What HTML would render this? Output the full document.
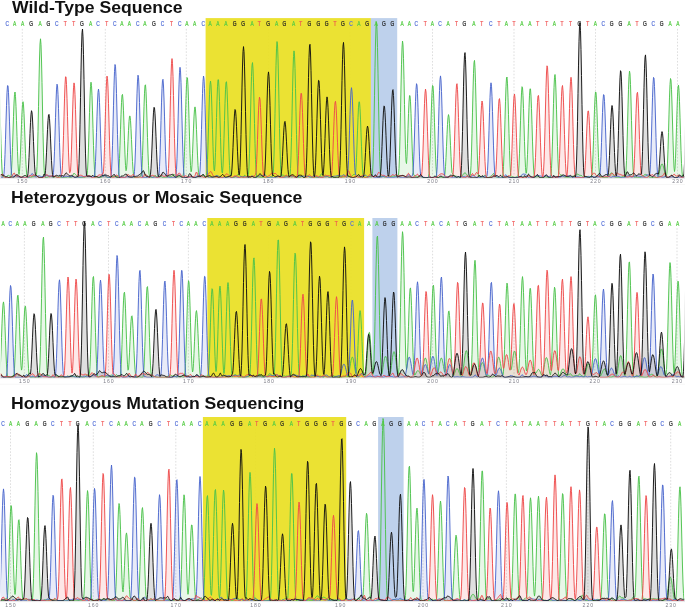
<!DOCTYPE html>
<html><head><meta charset="utf-8"><title>Sequencing chromatograms</title>
<style>
html,body{margin:0;padding:0;background:#fff;}
body{width:685px;height:609px;overflow:hidden;position:relative;font-family:"Liberation Sans",Arial,sans-serif;}
svg{position:absolute;left:0;top:0;}
svg text{font-family:"Liberation Sans",Arial,sans-serif;font-size:6.4px;text-anchor:middle;}
svg text{stroke-width:0.22px;}
svg .tk text{stroke:none;font-size:5.2px;fill:#80808a;letter-spacing:0.9px;}
h2{position:absolute;margin:0;left:11px;font-size:17px;line-height:17px;transform-origin:0 0;transform:scaleX(1.035);font-weight:bold;color:#111;white-space:nowrap;letter-spacing:0;}
</style></head><body>
<svg width="685" height="609" viewBox="0 0 685 609">
<clipPath id="c1"><rect x="0.8" y="17.0" width="683.4" height="160.7"/></clipPath>
<line x1="22.3" y1="28.9" x2="22.3" y2="177.9" stroke="#c8c8c8" stroke-width="0.6" stroke-dasharray="1.6 1.6"/>
<line x1="105.3" y1="28.9" x2="105.3" y2="177.9" stroke="#c8c8c8" stroke-width="0.6" stroke-dasharray="1.6 1.6"/>
<line x1="186.3" y1="28.9" x2="186.3" y2="177.9" stroke="#c8c8c8" stroke-width="0.6" stroke-dasharray="1.6 1.6"/>
<line x1="268.3" y1="28.9" x2="268.3" y2="177.9" stroke="#c8c8c8" stroke-width="0.6" stroke-dasharray="1.6 1.6"/>
<line x1="350.0" y1="28.9" x2="350.0" y2="177.9" stroke="#c8c8c8" stroke-width="0.6" stroke-dasharray="1.6 1.6"/>
<line x1="432.5" y1="28.9" x2="432.5" y2="177.9" stroke="#c8c8c8" stroke-width="0.6" stroke-dasharray="1.6 1.6"/>
<line x1="514.0" y1="28.9" x2="514.0" y2="177.9" stroke="#c8c8c8" stroke-width="0.6" stroke-dasharray="1.6 1.6"/>
<line x1="595.5" y1="28.9" x2="595.5" y2="177.9" stroke="#c8c8c8" stroke-width="0.6" stroke-dasharray="1.6 1.6"/>
<line x1="677.5" y1="28.9" x2="677.5" y2="177.9" stroke="#c8c8c8" stroke-width="0.6" stroke-dasharray="1.6 1.6"/>
<line x1="0" y1="178.3" x2="685" y2="178.3" stroke="#dcdcdc" stroke-width="0.7"/>
<line x1="0" y1="184.5" x2="685" y2="184.5" stroke="#f3f3f3" stroke-width="0.7"/>
<defs>
<path id="p1A" d="M-3,181.9 L-2.0,84.5 L-1.5,79.7 L-1.0,82.5 L-0.5,92.5 L0.0,107.7 L0.5,125.7 L1.0,143.4 L1.5,158.3 L2.0,169.0 L2.5,175.1 L3.0,177.0 L3.5,176.6 L4.0,176.4 L4.5,176.5 L5.0,176.7 L5.5,177.0 L6.0,177.2 L6.5,177.0 L7.0,176.6 L7.5,175.7 L8.0,175.1 L8.5,175.2 L9.0,175.7 L9.5,176.1 L10.0,176.5 L10.5,176.7 L11.0,175.4 L11.5,170.1 L12.0,160.7 L12.5,147.6 L13.0,132.1 L13.5,116.4 L14.0,103.1 L14.5,94.5 L15.0,92.0 L15.5,96.3 L16.0,106.4 L16.5,120.6 L17.0,136.5 L17.5,151.5 L18.0,163.7 L18.5,171.7 L19.0,174.4 L19.5,171.3 L20.0,163.4 L20.5,152.0 L21.0,138.4 L21.5,124.5 L22.0,112.4 L22.5,104.4 L23.0,101.7 L23.5,105.0 L24.0,113.6 L24.5,126.0 L25.0,140.0 L25.5,153.5 L26.0,164.5 L26.5,172.1 L27.0,176.3 L27.5,177.6 L28.0,177.6 L28.5,177.6 L29.0,177.5 L29.5,177.5 L30.0,177.4 L30.5,177.3 L31.0,177.1 L31.5,177.0 L32.0,176.8 L32.5,176.6 L33.0,176.5 L33.5,176.4 L34.0,176.2 L34.5,176.0 L35.0,175.8 L35.5,175.7 L36.0,175.7 L36.5,174.5 L37.0,166.5 L37.5,152.1 L38.0,131.4 L38.5,106.7 L39.0,81.2 L39.5,59.0 L40.0,44.0 L40.5,38.8 L41.0,44.5 L41.5,60.0 L42.0,82.4 L42.5,108.0 L43.0,132.6 L43.5,152.9 L44.0,167.1 L44.5,174.8 L45.0,177.3 L45.5,177.5 L46.0,177.5 L46.5,177.5 L47.0,177.4 L47.5,177.2 L48.0,177.0 L48.5,176.7 L49.0,176.6 L49.5,176.6 L50.0,176.5 L50.5,176.5 L51.0,176.5 L51.5,176.6 L52.0,176.7 L52.5,176.9 L53.0,177.1 L53.5,177.2 L54.0,177.2 L54.5,177.0 L55.0,176.6 L55.5,176.4 L56.0,176.5 L56.5,176.9 L57.0,177.2 L57.5,177.3 L58.0,177.4 L58.5,177.3 L59.0,176.9 L59.5,176.6 L60.0,176.9 L60.5,177.4 L61.0,177.6 L61.5,177.6 L62.0,177.6 L62.5,177.6 L63.0,177.6 L63.5,177.6 L64.0,177.6 L64.5,177.6 L65.0,177.6 L65.5,177.6 L66.0,177.6 L66.5,177.4 L67.0,177.2 L67.5,176.8 L68.0,176.6 L68.5,176.9 L69.0,177.2 L69.5,177.5 L70.0,177.5 L70.5,177.5 L71.0,177.3 L71.5,177.1 L72.0,176.7 L72.5,176.0 L73.0,174.8 L73.5,173.6 L74.0,173.1 L74.5,173.5 L75.0,174.0 L75.5,174.4 L76.0,174.9 L76.5,175.4 L77.0,176.0 L77.5,176.5 L78.0,176.9 L78.5,177.2 L79.0,177.4 L79.5,177.5 L80.0,177.6 L80.5,177.6 L81.0,177.6 L81.5,177.6 L82.0,177.6 L82.5,177.6 L83.0,177.6 L83.5,177.6 L84.0,177.6 L84.5,177.6 L85.0,177.5 L85.5,177.1 L86.0,176.5 L86.5,175.7 L87.0,175.1 L87.5,170.6 L88.0,161.0 L88.5,147.1 L89.0,130.2 L89.5,112.6 L90.0,97.1 L90.5,86.3 L91.0,82.2 L91.5,85.6 L92.0,95.7 L92.5,110.9 L93.0,128.4 L93.5,145.5 L94.0,159.8 L94.5,169.9 L95.0,175.5 L95.5,177.4 L96.0,177.2 L96.5,176.8 L97.0,176.7 L97.5,177.0 L98.0,177.4 L98.5,177.5 L99.0,177.6 L99.5,177.6 L100.0,177.5 L100.5,177.5 L101.0,177.4 L101.5,177.2 L102.0,177.0 L102.5,176.7 L103.0,176.1 L103.5,175.5 L104.0,175.1 L104.5,175.2 L105.0,175.6 L105.5,176.2 L106.0,176.7 L106.5,177.1 L107.0,177.3 L107.5,177.5 L108.0,177.5 L108.5,177.5 L109.0,177.5 L109.5,177.5 L110.0,177.3 L110.5,176.8 L111.0,176.2 L111.5,175.8 L112.0,175.9 L112.5,176.5 L113.0,176.8 L113.5,176.6 L114.0,176.2 L114.5,176.2 L115.0,176.6 L115.5,176.9 L116.0,176.8 L116.5,176.6 L117.0,176.4 L117.5,176.5 L118.0,176.7 L118.5,174.7 L119.0,168.6 L119.5,158.6 L120.0,145.2 L120.5,129.8 L121.0,114.8 L121.5,102.6 L122.0,95.3 L122.5,94.4 L123.0,99.9 L123.5,110.8 L124.0,125.2 L124.5,140.7 L125.0,154.9 L125.5,165.6 L126.0,170.7 L126.5,169.5 L127.0,162.9 L127.5,152.8 L128.0,141.4 L128.5,130.3 L129.0,121.4 L129.5,116.3 L130.0,115.9 L130.5,120.3 L131.0,128.7 L131.5,139.5 L132.0,151.0 L132.5,161.5 L133.0,169.6 L133.5,174.7 L134.0,177.2 L134.5,177.6 L135.0,177.6 L135.5,177.6 L136.0,177.6 L136.5,177.6 L137.0,177.6 L137.5,177.5 L138.0,177.5 L138.5,177.3 L139.0,177.1 L139.5,176.8 L140.0,176.4 L140.5,176.0 L141.0,175.8 L141.5,174.0 L142.0,167.0 L142.5,155.6 L143.0,140.4 L143.5,123.2 L144.0,106.6 L144.5,93.2 L145.0,85.5 L145.5,84.8 L146.0,91.3 L146.5,103.8 L147.0,120.1 L147.5,137.4 L148.0,153.1 L148.5,165.3 L149.0,173.1 L149.5,176.8 L150.0,177.1 L150.5,177.3 L151.0,177.5 L151.5,177.5 L152.0,177.5 L152.5,177.5 L153.0,177.3 L153.5,176.9 L154.0,176.3 L154.5,175.8 L155.0,175.4 L155.5,175.5 L156.0,176.0 L156.5,176.6 L157.0,176.8 L157.5,176.6 L158.0,176.0 L158.5,175.2 L159.0,174.6 L159.5,174.4 L160.0,174.8 L160.5,175.5 L161.0,176.2 L161.5,176.8 L162.0,177.2 L162.5,177.4 L163.0,177.5 L163.5,177.6 L164.0,177.6 L164.5,177.6 L165.0,177.6 L165.5,177.6 L166.0,177.5 L166.5,177.4 L167.0,177.2 L167.5,176.9 L168.0,176.6 L168.5,176.5 L169.0,176.5 L169.5,176.6 L170.0,176.7 L170.5,176.7 L171.0,176.7 L171.5,176.5 L172.0,176.2 L172.5,175.8 L173.0,175.1 L173.5,174.4 L174.0,174.2 L174.5,174.8 L175.0,175.7 L175.5,176.3 L176.0,176.7 L176.5,176.9 L177.0,177.0 L177.5,176.9 L178.0,176.8 L178.5,176.6 L179.0,176.4 L179.5,176.2 L180.0,176.1 L180.5,176.2 L181.0,176.4 L181.5,176.6 L182.0,176.6 L182.5,176.3 L183.0,176.0 L183.5,172.9 L184.0,164.6 L184.5,151.5 L185.0,134.7 L185.5,116.0 L186.0,98.4 L186.5,84.7 L187.0,77.5 L187.5,78.0 L188.0,86.1 L188.5,100.4 L189.0,118.3 L189.5,136.9 L190.0,153.4 L190.5,165.6 L191.0,171.8 L191.5,171.1 L192.0,164.4 L192.5,153.8 L193.0,141.1 L193.5,128.1 L194.0,116.9 L194.5,109.3 L195.0,106.9 L195.5,110.0 L196.0,118.0 L196.5,129.5 L197.0,142.6 L197.5,155.1 L198.0,165.4 L198.5,172.5 L199.0,176.4 L199.5,176.9 L200.0,176.7 L200.5,176.5 L201.0,176.4 L201.5,176.1 L202.0,175.6 L202.5,174.9 L203.0,174.9 L203.5,175.5 L204.0,176.0 L204.5,176.4 L205.0,176.9 L205.5,177.2 L206.0,177.4 L206.5,175.5 L207.0,169.8 L207.5,159.7 L208.0,145.2 L208.5,127.9 L209.0,110.2 L209.5,94.8 L210.0,84.5 L210.5,81.1 L211.0,85.1 L211.5,96.0 L212.0,111.7 L212.5,129.6 L213.0,146.7 L213.5,160.7 L214.0,169.5 L214.5,171.0 L215.0,164.9 L215.5,152.4 L216.0,135.9 L216.5,117.6 L217.0,100.3 L217.5,86.8 L218.0,79.6 L218.5,79.9 L219.0,87.7 L219.5,101.6 L220.0,119.1 L220.5,137.3 L221.0,153.6 L221.5,165.9 L222.0,172.7 L222.5,172.8 L223.0,166.1 L223.5,154.1 L224.0,138.3 L224.5,120.5 L225.0,103.4 L225.5,89.8 L226.0,82.2 L226.5,81.8 L227.0,88.9 L227.5,102.1 L228.0,119.0 L228.5,136.9 L229.0,153.0 L229.5,165.4 L230.0,173.2 L230.5,176.9 L231.0,177.6 L231.5,177.6 L232.0,177.6 L232.5,177.6 L233.0,177.6 L233.5,177.6 L234.0,177.5 L234.5,177.4 L235.0,177.1 L235.5,176.8 L236.0,176.4 L236.5,175.9 L237.0,175.4 L237.5,175.0 L238.0,174.7 L238.5,174.7 L239.0,174.8 L239.5,175.2 L240.0,175.7 L240.5,176.2 L241.0,176.6 L241.5,176.9 L242.0,177.2 L242.5,177.3 L243.0,177.4 L243.5,177.1 L244.0,176.2 L244.5,175.3 L245.0,175.3 L245.5,175.8 L246.0,176.3 L246.5,176.7 L247.0,176.9 L247.5,176.8 L248.0,176.5 L248.5,174.3 L249.0,166.8 L249.5,153.8 L250.0,135.9 L250.5,115.0 L251.0,94.0 L251.5,76.4 L252.0,65.3 L252.5,62.6 L253.0,68.8 L253.5,82.8 L254.0,102.2 L254.5,123.5 L255.0,143.5 L255.5,159.6 L256.0,170.4 L256.5,176.0 L257.0,176.8 L257.5,176.7 L258.0,176.8 L258.5,176.9 L259.0,177.0 L259.5,177.2 L260.0,177.3 L260.5,177.4 L261.0,177.5 L261.5,177.5 L262.0,177.6 L262.5,177.6 L263.0,177.6 L263.5,177.6 L264.0,177.6 L264.5,177.6 L265.0,177.6 L265.5,177.6 L266.0,177.6 L266.5,177.6 L267.0,177.6 L267.5,177.6 L268.0,177.6 L268.5,177.6 L269.0,177.6 L269.5,177.6 L270.0,177.5 L270.5,177.5 L271.0,177.3 L271.5,177.1 L272.0,176.8 L272.5,176.5 L273.0,175.6 L273.5,168.9 L274.0,156.1 L274.5,137.1 L275.0,113.4 L275.5,88.2 L276.0,65.4 L276.5,48.9 L277.0,41.6 L277.5,44.9 L278.0,58.2 L278.5,79.0 L279.0,103.8 L279.5,128.5 L280.0,149.6 L280.5,164.8 L281.0,173.7 L281.5,175.9 L282.0,175.2 L282.5,175.0 L283.0,175.1 L283.5,175.3 L284.0,175.6 L284.5,175.9 L285.0,176.1 L285.5,176.1 L286.0,176.0 L286.5,175.9 L287.0,176.0 L287.5,176.1 L288.0,176.3 L288.5,176.5 L289.0,176.8 L289.5,177.1 L290.0,175.3 L290.5,168.5 L291.0,155.9 L291.5,137.5 L292.0,115.2 L292.5,91.8 L293.0,71.0 L293.5,56.6 L294.0,50.9 L294.5,55.1 L295.0,68.5 L295.5,88.5 L296.0,111.7 L296.5,134.4 L297.0,153.5 L297.5,167.0 L298.0,174.6 L298.5,177.5 L299.0,177.5 L299.5,177.5 L300.0,177.3 L300.5,177.1 L301.0,176.8 L301.5,176.5 L302.0,176.3 L302.5,176.3 L303.0,176.4 L303.5,176.7 L304.0,176.9 L304.5,177.1 L305.0,177.1 L305.5,177.0 L306.0,176.8 L306.5,176.5 L307.0,176.2 L307.5,176.0 L308.0,176.1 L308.5,176.4 L309.0,176.9 L309.5,177.3 L310.0,177.5 L310.5,177.5 L311.0,177.4 L311.5,177.2 L312.0,177.1 L312.5,177.3 L313.0,177.5 L313.5,177.6 L314.0,177.6 L314.5,177.6 L315.0,177.6 L315.5,177.6 L316.0,177.6 L316.5,177.6 L317.0,177.6 L317.5,177.6 L318.0,177.6 L318.5,177.5 L319.0,177.3 L319.5,176.8 L320.0,176.1 L320.5,175.1 L321.0,174.2 L321.5,173.9 L322.0,174.0 L322.5,174.3 L323.0,174.8 L323.5,175.4 L324.0,175.9 L324.5,176.2 L325.0,176.3 L325.5,176.2 L326.0,176.1 L326.5,176.1 L327.0,176.2 L327.5,176.5 L328.0,176.8 L328.5,177.0 L329.0,177.3 L329.5,177.4 L330.0,177.4 L330.5,177.1 L331.0,176.5 L331.5,176.2 L332.0,176.8 L332.5,177.4 L333.0,177.6 L333.5,177.6 L334.0,177.6 L334.5,177.6 L335.0,177.6 L335.5,177.6 L336.0,177.4 L336.5,176.8 L337.0,176.3 L337.5,176.2 L338.0,176.7 L338.5,177.0 L339.0,176.7 L339.5,176.3 L340.0,176.1 L340.5,176.4 L341.0,176.7 L341.5,176.9 L342.0,177.0 L342.5,177.1 L343.0,177.1 L343.5,176.9 L344.0,176.5 L344.5,176.2 L345.0,176.3 L345.5,176.3 L346.0,176.0 L346.5,175.6 L347.0,175.2 L347.5,175.1 L348.0,175.2 L348.5,175.5 L349.0,175.9 L349.5,176.3 L350.0,176.6 L350.5,176.8 L351.0,176.8 L351.5,176.6 L352.0,176.2 L352.5,175.6 L353.0,175.0 L353.5,174.5 L354.0,174.3 L354.5,174.4 L355.0,174.7 L355.5,174.1 L356.0,167.8 L356.5,157.9 L357.0,145.1 L357.5,130.9 L358.0,117.6 L358.5,107.2 L359.0,101.7 L359.5,102.1 L360.0,108.3 L360.5,119.1 L361.0,132.7 L361.5,146.8 L362.0,159.3 L362.5,168.8 L363.0,174.6 L363.5,176.6 L364.0,176.9 L364.5,177.1 L365.0,177.3 L365.5,177.4 L366.0,177.4 L366.5,177.3 L367.0,177.1 L367.5,176.8 L368.0,176.5 L368.5,176.3 L369.0,176.3 L369.5,176.4 L370.0,176.6 L370.5,176.8 L371.0,176.9 L371.5,176.9 L372.0,176.9 L372.5,173.6 L373.0,164.1 L373.5,147.4 L374.0,123.8 L374.5,95.8 L375.0,67.4 L375.5,43.0 L376.0,27.0 L376.5,22.2 L377.0,29.5 L377.5,47.6 L378.0,73.2 L378.5,101.9 L379.0,129.2 L379.5,151.5 L380.0,166.7 L380.5,174.8 L381.0,176.7 L381.5,176.6 L382.0,176.4 L382.5,176.2 L383.0,176.2 L383.5,176.5 L384.0,176.8 L384.5,177.1 L385.0,177.3 L385.5,177.2 L386.0,177.0 L386.5,176.6 L387.0,176.2 L387.5,175.8 L388.0,175.7 L388.5,175.7 L389.0,176.0 L389.5,176.2 L390.0,176.4 L390.5,176.5 L391.0,176.5 L391.5,176.5 L392.0,176.4 L392.5,176.3 L393.0,176.2 L393.5,176.2 L394.0,176.3 L394.5,176.3 L395.0,176.3 L395.5,176.1 L396.0,175.8 L396.5,175.6 L397.0,175.5 L397.5,175.5 L398.0,175.7 L398.5,175.4 L399.0,168.5 L399.5,155.5 L400.0,136.2 L400.5,112.3 L401.0,87.0 L401.5,64.2 L402.0,47.9 L402.5,41.0 L403.0,44.7 L403.5,58.3 L404.0,79.4 L404.5,104.4 L405.0,129.1 L405.5,149.3 L406.0,161.4 L406.5,163.6 L407.0,156.6 L407.5,143.5 L408.0,128.2 L408.5,113.6 L409.0,102.1 L409.5,95.7 L410.0,95.6 L410.5,101.8 L411.0,113.3 L411.5,127.8 L412.0,143.1 L412.5,156.9 L413.0,167.4 L413.5,174.0 L414.0,175.3 L414.5,175.5 L415.0,176.0 L415.5,176.1 L416.0,176.1 L416.5,176.2 L417.0,176.5 L417.5,176.7 L418.0,176.8 L418.5,176.8 L419.0,176.6 L419.5,176.3 L420.0,176.1 L420.5,176.1 L421.0,176.5 L421.5,177.0 L422.0,177.3 L422.5,177.5 L423.0,177.6 L423.5,177.6 L424.0,177.6 L424.5,177.6 L425.0,177.6 L425.5,177.6 L426.0,177.6 L426.5,177.6 L427.0,177.6 L427.5,177.5 L428.0,177.5 L428.5,176.9 L429.0,173.4 L429.5,165.8 L430.0,153.9 L430.5,138.4 L431.0,121.2 L431.5,105.0 L432.0,92.3 L432.5,85.5 L433.0,85.9 L433.5,93.2 L434.0,106.3 L434.5,122.7 L435.0,139.9 L435.5,155.1 L436.0,166.7 L436.5,173.8 L437.0,177.1 L437.5,177.5 L438.0,177.4 L438.5,177.4 L439.0,177.3 L439.5,177.3 L440.0,177.3 L440.5,177.3 L441.0,177.3 L441.5,177.3 L442.0,177.3 L442.5,177.2 L443.0,177.0 L443.5,176.8 L444.0,176.5 L444.5,176.1 L445.0,173.1 L445.5,166.7 L446.0,157.5 L446.5,146.3 L447.0,134.6 L447.5,124.4 L448.0,117.3 L448.5,114.6 L449.0,116.9 L449.5,123.7 L450.0,133.7 L450.5,145.3 L451.0,156.6 L451.5,166.0 L452.0,172.6 L452.5,173.5 L453.0,174.3 L453.5,175.1 L454.0,175.8 L454.5,176.0 L455.0,176.1 L455.5,176.1 L456.0,176.1 L456.5,176.3 L457.0,176.5 L457.5,176.8 L458.0,177.0 L458.5,177.2 L459.0,177.3 L459.5,177.3 L460.0,177.2 L460.5,177.0 L461.0,176.8 L461.5,176.5 L462.0,176.2 L462.5,175.4 L463.0,174.6 L463.5,173.9 L464.0,173.3 L464.5,173.0 L465.0,172.9 L465.5,173.1 L466.0,173.5 L466.5,174.2 L467.0,174.9 L467.5,175.7 L468.0,176.5 L468.5,176.8 L469.0,176.5 L469.5,176.2 L470.0,175.9 L470.5,173.8 L471.0,165.8 L471.5,152.1 L472.0,133.6 L472.5,112.1 L473.0,90.9 L473.5,73.3 L474.0,62.5 L474.5,60.4 L475.0,67.4 L475.5,82.2 L476.0,102.2 L476.5,124.0 L477.0,144.2 L477.5,160.2 L478.0,170.8 L478.5,176.2 L479.0,176.9 L479.5,176.7 L480.0,176.4 L480.5,176.3 L481.0,176.7 L481.5,177.1 L482.0,177.3 L482.5,177.2 L483.0,176.9 L483.5,176.4 L484.0,175.8 L484.5,175.4 L485.0,175.3 L485.5,175.5 L486.0,175.9 L486.5,176.5 L487.0,177.0 L487.5,177.3 L488.0,177.4 L488.5,177.4 L489.0,177.3 L489.5,177.1 L490.0,176.8 L490.5,176.4 L491.0,176.0 L491.5,175.6 L492.0,175.1 L492.5,174.6 L493.0,173.9 L493.5,173.5 L494.0,173.7 L494.5,174.4 L495.0,175.3 L495.5,176.1 L496.0,176.6 L496.5,177.0 L497.0,177.3 L497.5,177.4 L498.0,177.5 L498.5,177.6 L499.0,177.6 L499.5,177.6 L500.0,177.6 L500.5,177.6 L501.0,177.6 L501.5,177.6 L502.0,177.6 L502.5,177.2 L503.0,173.9 L503.5,166.4 L504.0,154.2 L504.5,137.9 L505.0,119.3 L505.5,101.2 L506.0,86.6 L506.5,78.0 L507.0,77.0 L507.5,83.8 L508.0,97.2 L508.5,114.7 L509.0,133.4 L509.5,150.5 L510.0,163.9 L510.5,172.5 L511.0,176.7 L511.5,177.3 L512.0,176.9 L512.5,176.6 L513.0,176.7 L513.5,177.0 L514.0,177.3 L514.5,177.4 L515.0,177.4 L515.5,177.2 L516.0,177.1 L516.5,176.9 L517.0,176.6 L517.5,176.2 L518.0,175.6 L518.5,173.0 L519.0,165.2 L519.5,153.2 L520.0,137.7 L520.5,120.8 L521.0,104.9 L521.5,92.9 L522.0,86.7 L522.5,87.6 L523.0,95.4 L523.5,108.6 L524.0,124.9 L524.5,141.7 L525.0,156.5 L525.5,167.5 L526.0,173.3 L526.5,172.9 L527.0,166.2 L527.5,154.7 L528.0,139.8 L528.5,123.2 L529.0,107.5 L529.5,95.2 L530.0,88.7 L530.5,89.0 L531.0,96.1 L531.5,108.7 L532.0,124.6 L532.5,141.1 L533.0,155.9 L533.5,167.0 L534.0,174.0 L534.5,177.1 L535.0,177.2 L535.5,177.0 L536.0,176.9 L536.5,176.8 L537.0,176.8 L537.5,176.6 L538.0,176.2 L538.5,176.0 L539.0,176.6 L539.5,177.2 L540.0,177.5 L540.5,177.6 L541.0,177.6 L541.5,177.6 L542.0,177.6 L542.5,177.6 L543.0,177.5 L543.5,177.4 L544.0,177.2 L544.5,176.9 L545.0,176.7 L545.5,176.7 L546.0,176.9 L546.5,177.1 L547.0,177.4 L547.5,177.5 L548.0,177.5 L548.5,177.5 L549.0,177.5 L549.5,177.4 L550.0,177.3 L550.5,177.1 L551.0,174.9 L551.5,168.3 L552.0,156.9 L552.5,141.1 L553.0,122.4 L553.5,103.6 L554.0,87.6 L554.5,77.3 L555.0,74.5 L555.5,79.8 L556.0,92.1 L556.5,109.2 L557.0,128.3 L557.5,146.4 L558.0,161.0 L558.5,170.8 L559.0,173.3 L559.5,173.8 L560.0,174.4 L560.5,174.8 L561.0,175.0 L561.5,175.1 L562.0,175.2 L562.5,175.5 L563.0,175.9 L563.5,176.3 L564.0,176.7 L564.5,176.9 L565.0,177.0 L565.5,177.1 L566.0,177.1 L566.5,177.1 L567.0,177.2 L567.5,177.3 L568.0,177.3 L568.5,177.3 L569.0,177.3 L569.5,177.2 L570.0,177.1 L570.5,177.0 L571.0,176.8 L571.5,176.7 L572.0,176.5 L572.5,176.3 L573.0,176.1 L573.5,176.0 L574.0,176.0 L574.5,176.0 L575.0,175.9 L575.5,175.7 L576.0,175.3 L576.5,174.8 L577.0,174.3 L577.5,174.1 L578.0,174.2 L578.5,174.5 L579.0,174.9 L579.5,175.2 L580.0,175.4 L580.5,175.4 L581.0,175.4 L581.5,175.5 L582.0,175.8 L582.5,176.3 L583.0,176.8 L583.5,176.9 L584.0,176.6 L584.5,176.4 L585.0,176.3 L585.5,176.4 L586.0,176.5 L586.5,176.7 L587.0,176.6 L587.5,176.6 L588.0,176.5 L588.5,176.6 L589.0,176.7 L589.5,176.9 L590.0,177.0 L590.5,177.1 L591.0,177.1 L591.5,176.9 L592.0,173.4 L592.5,166.1 L593.0,154.8 L593.5,140.3 L594.0,124.3 L594.5,109.3 L595.0,97.8 L595.5,91.9 L596.0,92.6 L596.5,99.8 L597.0,112.2 L597.5,127.6 L598.0,143.5 L598.5,157.5 L599.0,168.0 L599.5,174.4 L600.0,177.0 L600.5,176.7 L601.0,176.3 L601.5,176.4 L602.0,176.9 L602.5,177.3 L603.0,177.4 L603.5,177.5 L604.0,177.5 L604.5,177.6 L605.0,177.6 L605.5,177.6 L606.0,177.6 L606.5,177.6 L607.0,177.6 L607.5,177.4 L608.0,177.0 L608.5,176.3 L609.0,175.5 L609.5,174.8 L610.0,174.0 L610.5,173.4 L611.0,173.0 L611.5,172.9 L612.0,173.0 L612.5,173.4 L613.0,174.0 L613.5,174.8 L614.0,175.6 L614.5,176.3 L615.0,177.0 L615.5,177.3 L616.0,177.3 L616.5,177.5 L617.0,177.6 L617.5,177.6 L618.0,177.6 L618.5,177.6 L619.0,177.6 L619.5,177.6 L620.0,177.5 L620.5,177.5 L621.0,177.3 L621.5,177.1 L622.0,176.9 L622.5,176.6 L623.0,176.4 L623.5,176.3 L624.0,176.3 L624.5,176.4 L625.0,176.5 L625.5,176.0 L626.0,170.7 L626.5,160.5 L627.0,145.5 L627.5,126.8 L628.0,107.1 L628.5,89.3 L629.0,76.6 L629.5,71.1 L630.0,73.9 L630.5,84.5 L631.0,101.0 L631.5,120.4 L632.0,139.7 L632.5,156.1 L633.0,167.9 L633.5,174.7 L634.0,177.1 L634.5,177.1 L635.0,177.1 L635.5,177.1 L636.0,177.1 L636.5,177.2 L637.0,177.2 L637.5,177.3 L638.0,177.4 L638.5,177.5 L639.0,177.5 L639.5,177.5 L640.0,177.5 L640.5,177.3 L641.0,176.9 L641.5,176.3 L642.0,175.8 L642.5,175.7 L643.0,176.0 L643.5,175.6 L644.0,175.1 L644.5,174.7 L645.0,174.5 L645.5,174.4 L646.0,174.5 L646.5,174.9 L647.0,175.3 L647.5,175.8 L648.0,176.4 L648.5,176.5 L649.0,176.7 L649.5,177.0 L650.0,177.2 L650.5,177.4 L651.0,177.5 L651.5,177.5 L652.0,177.6 L652.5,177.6 L653.0,177.6 L653.5,177.6 L654.0,177.6 L654.5,177.6 L655.0,177.6 L655.5,177.6 L656.0,177.6 L656.5,177.6 L657.0,177.6 L657.5,177.5 L658.0,176.7 L658.5,175.4 L659.0,173.6 L659.5,171.5 L660.0,169.3 L660.5,167.2 L661.0,165.5 L661.5,164.3 L662.0,163.9 L662.5,164.2 L663.0,165.3 L663.5,167.0 L664.0,169.0 L664.5,171.2 L665.0,173.3 L665.5,175.2 L666.0,176.5 L666.5,176.0 L667.0,171.9 L667.5,163.1 L668.0,149.6 L668.5,132.5 L669.0,114.1 L669.5,97.1 L670.0,84.5 L670.5,78.5 L671.0,80.2 L671.5,89.2 L672.0,104.0 L672.5,122.0 L673.0,140.2 L673.5,155.9 L674.0,167.0 L674.5,171.5 L675.0,168.3 L675.5,158.4 L676.0,144.0 L676.5,127.2 L677.0,110.4 L677.5,96.2 L678.0,87.3 L678.5,85.2 L679.0,90.3 L679.5,101.6 L680.0,117.2 L680.5,134.4 L681.0,150.4 L681.5,163.3 L682.0,171.9 L682.5,176.4 L683.0,176.5 L683.5,176.2 L684.0,176.4 L684.5,177.0 L685.0,177.4 L685.5,177.6 L686.0,177.5 L686.5,177.3 L687.0,176.9 L688,181.9 Z"/>
<path id="p1C" d="M-3,181.9 L-2.0,176.6 L-1.5,176.5 L-1.0,176.4 L-0.5,176.4 L0.0,176.6 L0.5,176.9 L1.0,177.1 L1.5,177.2 L2.0,177.2 L2.5,177.3 L3.0,177.5 L3.5,177.0 L4.0,173.6 L4.5,166.3 L5.0,154.6 L5.5,139.2 L6.0,122.1 L6.5,105.7 L7.0,92.8 L7.5,85.7 L8.0,85.7 L8.5,92.7 L9.0,105.5 L9.5,121.9 L10.0,139.0 L10.5,154.4 L11.0,166.2 L11.5,173.6 L12.0,175.4 L12.5,175.6 L13.0,176.1 L13.5,176.4 L14.0,176.2 L14.5,175.8 L15.0,175.4 L15.5,175.2 L16.0,175.4 L16.5,175.8 L17.0,176.3 L17.5,176.7 L18.0,177.0 L18.5,177.0 L19.0,176.8 L19.5,176.3 L20.0,176.4 L20.5,176.9 L21.0,177.2 L21.5,177.3 L22.0,177.3 L22.5,177.4 L23.0,177.4 L23.5,177.5 L24.0,177.6 L24.5,177.6 L25.0,177.6 L25.5,177.6 L26.0,177.6 L26.5,177.6 L27.0,177.5 L27.5,177.5 L28.0,177.4 L28.5,177.2 L29.0,176.9 L29.5,176.4 L30.0,175.8 L30.5,175.2 L31.0,174.6 L31.5,174.2 L32.0,173.9 L32.5,173.8 L33.0,174.2 L33.5,174.7 L34.0,175.4 L34.5,176.0 L35.0,176.4 L35.5,176.7 L36.0,176.9 L36.5,176.8 L37.0,176.6 L37.5,176.3 L38.0,176.0 L38.5,175.9 L39.0,175.8 L39.5,175.9 L40.0,176.1 L40.5,176.3 L41.0,176.5 L41.5,176.6 L42.0,176.6 L42.5,176.6 L43.0,176.4 L43.5,176.2 L44.0,176.0 L44.5,176.0 L45.0,176.0 L45.5,176.0 L46.0,175.7 L46.5,175.3 L47.0,175.2 L47.5,175.5 L48.0,175.8 L48.5,175.9 L49.0,175.8 L49.5,175.8 L50.0,175.9 L50.5,176.0 L51.0,176.3 L51.5,176.5 L52.0,176.7 L52.5,176.8 L53.0,176.5 L53.5,172.3 L54.0,163.9 L54.5,151.2 L55.0,135.1 L55.5,117.7 L56.0,101.8 L56.5,89.9 L57.0,84.2 L57.5,85.8 L58.0,94.4 L58.5,108.3 L59.0,125.2 L59.5,142.4 L60.0,157.2 L60.5,168.1 L61.0,174.6 L61.5,177.0 L62.0,177.2 L62.5,177.2 L63.0,177.2 L63.5,177.0 L64.0,176.8 L64.5,176.6 L65.0,176.4 L65.5,176.3 L66.0,176.1 L66.5,176.1 L67.0,176.3 L67.5,176.5 L68.0,176.6 L68.5,176.5 L69.0,176.2 L69.5,175.9 L70.0,176.0 L70.5,176.4 L71.0,176.7 L71.5,176.6 L72.0,176.2 L72.5,176.0 L73.0,176.0 L73.5,176.5 L74.0,176.9 L74.5,177.3 L75.0,177.4 L75.5,177.5 L76.0,177.4 L76.5,177.4 L77.0,177.2 L77.5,177.1 L78.0,177.1 L78.5,177.0 L79.0,177.0 L79.5,177.0 L80.0,177.0 L80.5,177.0 L81.0,177.0 L81.5,176.9 L82.0,176.8 L82.5,176.8 L83.0,176.7 L83.5,176.6 L84.0,176.5 L84.5,176.4 L85.0,176.3 L85.5,176.2 L86.0,176.0 L86.5,175.9 L87.0,175.8 L87.5,175.8 L88.0,175.8 L88.5,175.8 L89.0,175.9 L89.5,176.1 L90.0,176.3 L90.5,176.5 L91.0,176.7 L91.5,176.9 L92.0,177.0 L92.5,177.0 L93.0,176.8 L93.5,176.6 L94.0,176.8 L94.5,175.8 L95.0,170.7 L95.5,161.5 L96.0,148.3 L96.5,132.5 L97.0,116.2 L97.5,102.0 L98.0,92.4 L98.5,89.1 L99.0,92.7 L99.5,102.5 L100.0,116.8 L100.5,133.1 L101.0,148.9 L101.5,161.9 L102.0,170.9 L102.5,175.9 L103.0,176.7 L103.5,176.3 L104.0,175.7 L104.5,175.1 L105.0,174.8 L105.5,175.1 L106.0,175.9 L106.5,176.6 L107.0,177.1 L107.5,177.4 L108.0,177.5 L108.5,177.5 L109.0,177.6 L109.5,177.6 L110.0,177.6 L110.5,177.6 L111.0,176.3 L111.5,171.2 L112.0,161.1 L112.5,145.7 L113.0,126.2 L113.5,105.2 L114.0,85.8 L114.5,71.4 L115.0,64.5 L115.5,66.3 L116.0,76.6 L116.5,93.5 L117.0,114.0 L117.5,134.7 L118.0,152.7 L118.5,166.0 L119.0,173.9 L119.5,177.2 L120.0,177.3 L120.5,177.3 L121.0,177.3 L121.5,177.4 L122.0,177.4 L122.5,177.5 L123.0,177.5 L123.5,177.5 L124.0,177.5 L124.5,177.4 L125.0,177.2 L125.5,177.0 L126.0,176.9 L126.5,176.8 L127.0,176.8 L127.5,176.8 L128.0,176.7 L128.5,176.6 L129.0,176.5 L129.5,176.5 L130.0,176.7 L130.5,177.0 L131.0,177.2 L131.5,177.2 L132.0,177.1 L132.5,177.0 L133.0,176.8 L133.5,176.4 L134.0,176.0 L134.5,171.4 L135.0,162.0 L135.5,147.9 L136.0,130.1 L136.5,111.1 L137.0,93.8 L137.5,81.1 L138.0,75.2 L138.5,77.4 L139.0,87.1 L139.5,102.6 L140.0,121.2 L140.5,139.9 L141.0,155.9 L141.5,167.7 L142.0,174.5 L142.5,177.1 L143.0,177.3 L143.5,177.4 L144.0,177.5 L144.5,177.5 L145.0,177.6 L145.5,177.6 L146.0,177.6 L146.5,177.5 L147.0,177.4 L147.5,177.3 L148.0,177.1 L148.5,176.8 L149.0,176.6 L149.5,176.4 L150.0,176.3 L150.5,176.4 L151.0,176.5 L151.5,176.8 L152.0,177.0 L152.5,177.2 L153.0,177.4 L153.5,177.5 L154.0,177.4 L154.5,177.2 L155.0,177.0 L155.5,177.0 L156.0,177.2 L156.5,177.3 L157.0,177.3 L157.5,177.2 L158.0,177.1 L158.5,177.0 L159.0,174.0 L159.5,166.7 L160.0,154.8 L160.5,138.8 L161.0,120.6 L161.5,102.9 L162.0,88.6 L162.5,80.3 L163.0,79.3 L163.5,86.0 L164.0,99.0 L164.5,116.1 L165.0,134.4 L165.5,151.2 L166.0,164.2 L166.5,172.6 L167.0,176.7 L167.5,176.9 L168.0,177.0 L168.5,177.2 L169.0,177.3 L169.5,177.5 L170.0,177.5 L170.5,177.6 L171.0,177.6 L171.5,177.6 L172.0,177.6 L172.5,177.6 L173.0,177.6 L173.5,177.6 L174.0,177.6 L174.5,177.6 L175.0,177.6 L175.5,177.6 L176.0,175.6 L176.5,169.7 L177.0,158.8 L177.5,142.9 L178.0,123.4 L178.5,103.0 L179.0,84.9 L179.5,72.3 L180.0,67.3 L180.5,70.9 L181.0,82.5 L181.5,99.9 L182.0,120.1 L182.5,139.9 L183.0,156.6 L183.5,168.3 L184.0,175.0 L184.5,177.3 L185.0,177.4 L185.5,177.5 L186.0,177.5 L186.5,177.5 L187.0,177.5 L187.5,177.4 L188.0,177.3 L188.5,177.0 L189.0,176.7 L189.5,176.5 L190.0,176.6 L190.5,176.9 L191.0,176.9 L191.5,176.9 L192.0,176.7 L192.5,176.7 L193.0,176.9 L193.5,177.1 L194.0,177.3 L194.5,177.4 L195.0,177.3 L195.5,177.1 L196.0,176.7 L196.5,176.2 L197.0,175.9 L197.5,175.8 L198.0,176.1 L198.5,176.6 L199.0,176.9 L199.5,176.1 L200.0,171.1 L200.5,161.4 L201.0,147.1 L201.5,129.4 L202.0,110.5 L202.5,93.5 L203.0,81.3 L203.5,76.0 L204.0,78.6 L204.5,88.7 L205.0,104.3 L205.5,122.9 L206.0,141.3 L206.5,157.0 L207.0,168.3 L207.5,174.8 L208.0,177.2 L208.5,177.4 L209.0,177.5 L209.5,177.6 L210.0,177.6 L210.5,177.5 L211.0,177.5 L211.5,177.4 L212.0,177.3 L212.5,177.2 L213.0,177.1 L213.5,176.9 L214.0,176.7 L214.5,176.5 L215.0,176.2 L215.5,176.0 L216.0,175.7 L216.5,175.6 L217.0,175.5 L217.5,175.6 L218.0,175.8 L218.5,176.2 L219.0,176.6 L219.5,176.8 L220.0,177.0 L220.5,177.1 L221.0,177.1 L221.5,177.2 L222.0,177.4 L222.5,177.5 L223.0,177.6 L223.5,177.6 L224.0,177.6 L224.5,177.6 L225.0,177.6 L225.5,177.6 L226.0,177.6 L226.5,177.6 L227.0,177.5 L227.5,177.4 L228.0,177.2 L228.5,177.0 L229.0,176.8 L229.5,176.7 L230.0,176.8 L230.5,177.0 L231.0,177.2 L231.5,177.4 L232.0,177.5 L232.5,177.5 L233.0,177.4 L233.5,177.2 L234.0,176.9 L234.5,176.6 L235.0,176.4 L235.5,176.5 L236.0,176.7 L236.5,177.0 L237.0,177.3 L237.5,177.5 L238.0,177.5 L238.5,177.5 L239.0,177.5 L239.5,177.3 L240.0,177.1 L240.5,176.8 L241.0,176.6 L241.5,176.5 L242.0,176.6 L242.5,176.8 L243.0,176.9 L243.5,176.9 L244.0,176.9 L244.5,176.9 L245.0,176.9 L245.5,176.9 L246.0,177.0 L246.5,177.0 L247.0,177.1 L247.5,177.2 L248.0,177.2 L248.5,177.2 L249.0,177.1 L249.5,176.9 L250.0,176.8 L250.5,176.6 L251.0,176.4 L251.5,176.1 L252.0,176.0 L252.5,176.2 L253.0,176.5 L253.5,176.7 L254.0,176.9 L254.5,177.0 L255.0,177.1 L255.5,177.3 L256.0,177.4 L256.5,177.4 L257.0,177.3 L257.5,176.9 L258.0,176.4 L258.5,176.1 L259.0,175.9 L259.5,175.9 L260.0,175.9 L260.5,175.9 L261.0,176.0 L261.5,175.9 L262.0,175.8 L262.5,175.6 L263.0,175.5 L263.5,175.3 L264.0,174.9 L264.5,174.5 L265.0,174.5 L265.5,175.2 L266.0,176.1 L266.5,176.7 L267.0,177.1 L267.5,177.4 L268.0,177.5 L268.5,177.5 L269.0,177.5 L269.5,177.3 L270.0,177.0 L270.5,176.7 L271.0,176.8 L271.5,177.1 L272.0,177.4 L272.5,177.5 L273.0,177.6 L273.5,177.6 L274.0,177.6 L274.5,177.6 L275.0,177.5 L275.5,177.5 L276.0,177.4 L276.5,177.2 L277.0,177.0 L277.5,176.8 L278.0,176.6 L278.5,176.4 L279.0,176.3 L279.5,176.3 L280.0,176.4 L280.5,176.5 L281.0,176.6 L281.5,176.7 L282.0,176.8 L282.5,177.0 L283.0,177.2 L283.5,177.3 L284.0,177.4 L284.5,177.4 L285.0,177.4 L285.5,177.2 L286.0,177.1 L286.5,176.9 L287.0,176.8 L287.5,176.9 L288.0,177.0 L288.5,177.1 L289.0,177.1 L289.5,176.7 L290.0,176.4 L290.5,176.3 L291.0,176.5 L291.5,176.8 L292.0,176.9 L292.5,176.7 L293.0,176.5 L293.5,176.4 L294.0,176.6 L294.5,176.9 L295.0,177.1 L295.5,177.4 L296.0,177.5 L296.5,177.5 L297.0,177.5 L297.5,177.3 L298.0,177.0 L298.5,176.5 L299.0,176.1 L299.5,176.0 L300.0,176.3 L300.5,176.6 L301.0,176.6 L301.5,176.5 L302.0,176.3 L302.5,176.2 L303.0,176.1 L303.5,176.1 L304.0,176.2 L304.5,176.2 L305.0,176.2 L305.5,176.2 L306.0,176.2 L306.5,176.2 L307.0,176.2 L307.5,176.3 L308.0,176.4 L308.5,176.5 L309.0,176.4 L309.5,176.5 L310.0,176.6 L310.5,176.8 L311.0,177.0 L311.5,177.1 L312.0,177.1 L312.5,176.8 L313.0,176.4 L313.5,176.0 L314.0,175.7 L314.5,175.5 L315.0,175.6 L315.5,176.0 L316.0,176.5 L316.5,176.9 L317.0,177.1 L317.5,177.2 L318.0,177.2 L318.5,177.1 L319.0,177.0 L319.5,176.9 L320.0,176.9 L320.5,177.0 L321.0,177.0 L321.5,177.0 L322.0,177.0 L322.5,177.0 L323.0,177.0 L323.5,177.0 L324.0,176.9 L324.5,176.8 L325.0,176.8 L325.5,176.8 L326.0,176.8 L326.5,176.6 L327.0,176.2 L327.5,176.1 L328.0,176.7 L328.5,177.2 L329.0,177.5 L329.5,177.5 L330.0,177.5 L330.5,177.4 L331.0,177.2 L331.5,177.0 L332.0,176.8 L332.5,176.6 L333.0,176.4 L333.5,176.3 L334.0,176.2 L334.5,176.2 L335.0,176.2 L335.5,176.2 L336.0,176.1 L336.5,175.9 L337.0,175.7 L337.5,175.5 L338.0,175.4 L338.5,175.4 L339.0,175.5 L339.5,175.6 L340.0,175.8 L340.5,175.9 L341.0,176.0 L341.5,176.0 L342.0,175.9 L342.5,175.6 L343.0,175.1 L343.5,174.7 L344.0,174.7 L344.5,175.1 L345.0,175.7 L345.5,176.4 L346.0,176.9 L346.5,177.2 L347.0,177.4 L347.5,175.6 L348.0,170.2 L348.5,160.6 L349.0,147.1 L349.5,130.9 L350.0,114.4 L350.5,100.2 L351.0,90.7 L351.5,87.7 L352.0,91.6 L352.5,101.9 L353.0,116.6 L353.5,133.2 L354.0,149.1 L354.5,162.2 L355.0,171.2 L355.5,174.6 L356.0,174.9 L356.5,175.1 L357.0,175.1 L357.5,175.5 L358.0,176.1 L358.5,176.6 L359.0,176.7 L359.5,176.7 L360.0,176.7 L360.5,176.6 L361.0,176.4 L361.5,176.4 L362.0,176.4 L362.5,176.4 L363.0,176.4 L363.5,176.3 L364.0,176.0 L364.5,175.5 L365.0,175.2 L365.5,175.2 L366.0,175.5 L366.5,175.9 L367.0,176.4 L367.5,176.7 L368.0,176.9 L368.5,177.0 L369.0,177.0 L369.5,176.7 L370.0,176.2 L370.5,175.7 L371.0,175.7 L371.5,176.1 L372.0,176.3 L372.5,176.2 L373.0,176.2 L373.5,176.6 L374.0,177.0 L374.5,177.3 L375.0,177.4 L375.5,177.5 L376.0,177.6 L376.5,177.6 L377.0,177.6 L377.5,177.6 L378.0,177.6 L378.5,177.6 L379.0,177.5 L379.5,177.5 L380.0,177.4 L380.5,177.3 L381.0,177.2 L381.5,177.0 L382.0,176.8 L382.5,176.6 L383.0,176.4 L383.5,176.2 L384.0,176.1 L384.5,176.2 L385.0,176.3 L385.5,176.5 L386.0,176.8 L386.5,177.1 L387.0,177.3 L387.5,177.4 L388.0,177.5 L388.5,177.6 L389.0,177.6 L389.5,177.6 L390.0,177.6 L390.5,177.6 L391.0,177.6 L391.5,177.6 L392.0,177.6 L392.5,177.6 L393.0,177.6 L393.5,177.6 L394.0,177.5 L394.5,177.3 L395.0,177.2 L395.5,177.0 L396.0,177.0 L396.5,177.0 L397.0,177.0 L397.5,176.7 L398.0,176.3 L398.5,176.3 L399.0,176.7 L399.5,177.1 L400.0,177.4 L400.5,177.6 L401.0,177.6 L401.5,177.6 L402.0,177.6 L402.5,177.6 L403.0,177.6 L403.5,177.6 L404.0,177.6 L404.5,177.5 L405.0,177.5 L405.5,177.4 L406.0,177.2 L406.5,176.9 L407.0,176.5 L407.5,175.9 L408.0,175.2 L408.5,174.7 L409.0,174.6 L409.5,175.0 L410.0,175.6 L410.5,176.0 L411.0,176.3 L411.5,176.2 L412.0,176.0 L412.5,175.6 L413.0,172.4 L413.5,164.0 L414.0,151.2 L414.5,135.0 L415.0,117.6 L415.5,101.5 L416.0,89.4 L416.5,83.7 L417.0,85.2 L417.5,93.7 L418.0,107.7 L418.5,124.7 L419.0,142.0 L419.5,156.9 L420.0,167.9 L420.5,174.5 L421.0,176.6 L421.5,176.7 L422.0,176.7 L422.5,176.9 L423.0,177.0 L423.5,177.2 L424.0,177.3 L424.5,177.4 L425.0,177.5 L425.5,177.5 L426.0,177.6 L426.5,177.6 L427.0,177.6 L427.5,177.5 L428.0,177.3 L428.5,176.8 L429.0,176.2 L429.5,176.2 L430.0,176.5 L430.5,176.8 L431.0,177.1 L431.5,177.4 L432.0,177.5 L432.5,177.6 L433.0,177.6 L433.5,177.6 L434.0,177.6 L434.5,177.6 L435.0,177.6 L435.5,177.6 L436.0,177.6 L436.5,175.4 L437.0,169.4 L437.5,158.8 L438.0,143.6 L438.5,125.4 L439.0,106.7 L439.5,90.5 L440.0,79.5 L440.5,75.9 L441.0,80.1 L441.5,91.6 L442.0,108.1 L442.5,126.8 L443.0,144.9 L443.5,159.8 L444.0,170.1 L444.5,175.7 L445.0,176.8 L445.5,176.8 L446.0,176.8 L446.5,176.7 L447.0,176.7 L447.5,176.8 L448.0,176.9 L448.5,176.7 L449.0,176.6 L449.5,176.5 L450.0,176.6 L450.5,176.8 L451.0,177.1 L451.5,177.3 L452.0,177.4 L452.5,177.4 L453.0,177.3 L453.5,177.1 L454.0,177.2 L454.5,177.4 L455.0,177.4 L455.5,177.3 L456.0,177.1 L456.5,177.0 L457.0,176.9 L457.5,176.8 L458.0,176.7 L458.5,176.8 L459.0,176.9 L459.5,177.0 L460.0,177.1 L460.5,177.2 L461.0,177.2 L461.5,177.1 L462.0,177.0 L462.5,176.8 L463.0,176.7 L463.5,176.6 L464.0,176.6 L464.5,176.7 L465.0,176.9 L465.5,177.0 L466.0,177.0 L466.5,176.8 L467.0,176.6 L467.5,176.4 L468.0,176.4 L468.5,176.7 L469.0,177.1 L469.5,177.3 L470.0,177.3 L470.5,177.1 L471.0,176.8 L471.5,176.4 L472.0,176.0 L472.5,175.7 L473.0,175.5 L473.5,175.6 L474.0,175.8 L474.5,176.2 L475.0,176.6 L475.5,176.9 L476.0,177.2 L476.5,177.4 L477.0,177.5 L477.5,177.5 L478.0,177.6 L478.5,177.6 L479.0,177.6 L479.5,177.5 L480.0,177.4 L480.5,177.3 L481.0,177.2 L481.5,177.0 L482.0,176.8 L482.5,176.7 L483.0,176.5 L483.5,176.4 L484.0,176.3 L484.5,176.3 L485.0,176.3 L485.5,176.3 L486.0,176.3 L486.5,176.4 L487.0,175.8 L487.5,170.6 L488.0,161.0 L488.5,147.1 L489.0,130.3 L489.5,112.8 L490.0,97.4 L490.5,86.7 L491.0,82.8 L491.5,86.2 L492.0,96.4 L492.5,111.5 L493.0,129.0 L493.5,145.9 L494.0,160.1 L494.5,170.0 L495.0,175.5 L495.5,175.7 L496.0,176.0 L496.5,176.3 L497.0,176.7 L497.5,177.0 L498.0,177.2 L498.5,177.4 L499.0,177.5 L499.5,177.5 L500.0,177.6 L500.5,177.6 L501.0,177.6 L501.5,177.6 L502.0,177.5 L502.5,177.4 L503.0,177.2 L503.5,176.9 L504.0,176.4 L504.5,175.8 L505.0,175.3 L505.5,174.9 L506.0,174.9 L506.5,175.3 L507.0,175.8 L507.5,176.3 L508.0,176.8 L508.5,177.2 L509.0,177.4 L509.5,177.5 L510.0,177.6 L510.5,177.6 L511.0,177.6 L511.5,177.6 L512.0,177.6 L512.5,177.6 L513.0,177.6 L513.5,177.6 L514.0,177.6 L514.5,177.6 L515.0,177.6 L515.5,177.6 L516.0,177.5 L516.5,177.4 L517.0,177.2 L517.5,177.1 L518.0,176.9 L518.5,176.8 L519.0,176.8 L519.5,176.8 L520.0,176.7 L520.5,176.5 L521.0,176.1 L521.5,175.4 L522.0,174.7 L522.5,174.2 L523.0,174.0 L523.5,174.0 L524.0,174.1 L524.5,174.2 L525.0,174.3 L525.5,174.4 L526.0,174.7 L526.5,175.2 L527.0,175.9 L527.5,176.7 L528.0,177.2 L528.5,177.4 L529.0,177.4 L529.5,177.2 L530.0,177.0 L530.5,176.9 L531.0,176.9 L531.5,177.1 L532.0,177.3 L532.5,177.4 L533.0,177.5 L533.5,177.4 L534.0,177.3 L534.5,177.0 L535.0,176.7 L535.5,176.4 L536.0,176.0 L536.5,175.8 L537.0,175.6 L537.5,175.5 L538.0,175.6 L538.5,175.6 L539.0,175.7 L539.5,175.8 L540.0,175.9 L540.5,176.0 L541.0,176.1 L541.5,176.2 L542.0,176.4 L542.5,176.6 L543.0,176.7 L543.5,176.5 L544.0,176.3 L544.5,175.9 L545.0,175.6 L545.5,175.4 L546.0,175.4 L546.5,175.7 L547.0,176.2 L547.5,176.5 L548.0,176.7 L548.5,176.7 L549.0,176.6 L549.5,176.4 L550.0,176.3 L550.5,176.1 L551.0,175.8 L551.5,175.7 L552.0,175.8 L552.5,176.2 L553.0,176.7 L553.5,177.0 L554.0,176.9 L554.5,176.7 L555.0,176.6 L555.5,176.5 L556.0,176.6 L556.5,176.7 L557.0,176.9 L557.5,177.0 L558.0,177.2 L558.5,177.2 L559.0,177.2 L559.5,177.2 L560.0,177.1 L560.5,177.0 L561.0,176.8 L561.5,176.5 L562.0,176.2 L562.5,176.1 L563.0,176.2 L563.5,176.4 L564.0,176.4 L564.5,176.1 L565.0,175.8 L565.5,175.5 L566.0,175.3 L566.5,175.3 L567.0,175.4 L567.5,175.6 L568.0,175.8 L568.5,176.1 L569.0,176.4 L569.5,176.5 L570.0,176.6 L570.5,176.6 L571.0,176.7 L571.5,176.8 L572.0,177.0 L572.5,177.1 L573.0,177.3 L573.5,177.4 L574.0,177.4 L574.5,177.4 L575.0,177.3 L575.5,177.2 L576.0,177.1 L576.5,177.0 L577.0,176.9 L577.5,176.8 L578.0,176.9 L578.5,177.0 L579.0,177.1 L579.5,177.3 L580.0,177.4 L580.5,177.5 L581.0,177.6 L581.5,177.6 L582.0,177.6 L582.5,177.6 L583.0,177.6 L583.5,177.6 L584.0,177.6 L584.5,177.6 L585.0,177.6 L585.5,177.5 L586.0,177.5 L586.5,177.3 L587.0,177.1 L587.5,176.8 L588.0,176.6 L588.5,176.4 L589.0,176.5 L589.5,176.7 L590.0,176.9 L590.5,177.1 L591.0,177.2 L591.5,177.2 L592.0,177.1 L592.5,176.9 L593.0,176.7 L593.5,176.6 L594.0,176.7 L594.5,176.9 L595.0,177.1 L595.5,177.1 L596.0,177.0 L596.5,177.0 L597.0,177.0 L597.5,177.0 L598.0,177.0 L598.5,176.9 L599.0,176.8 L599.5,176.6 L600.0,173.9 L600.5,167.2 L601.0,156.5 L601.5,142.6 L602.0,127.1 L602.5,112.4 L603.0,100.9 L603.5,94.7 L604.0,94.9 L604.5,101.4 L605.0,113.1 L605.5,127.9 L606.0,143.3 L606.5,157.1 L607.0,167.6 L607.5,174.1 L608.0,176.6 L608.5,176.4 L609.0,176.4 L609.5,176.6 L610.0,177.0 L610.5,177.2 L611.0,177.4 L611.5,177.3 L612.0,177.0 L612.5,176.7 L613.0,176.5 L613.5,176.6 L614.0,176.7 L614.5,176.8 L615.0,176.7 L615.5,176.5 L616.0,176.3 L616.5,176.2 L617.0,176.2 L617.5,176.3 L618.0,176.4 L618.5,176.5 L619.0,176.6 L619.5,176.8 L620.0,177.0 L620.5,177.2 L621.0,177.4 L621.5,177.5 L622.0,177.6 L622.5,177.6 L623.0,177.6 L623.5,177.6 L624.0,177.5 L624.5,177.4 L625.0,177.3 L625.5,177.1 L626.0,176.9 L626.5,176.7 L627.0,176.4 L627.5,176.1 L628.0,175.9 L628.5,175.7 L629.0,175.8 L629.5,176.0 L630.0,176.3 L630.5,176.7 L631.0,177.0 L631.5,177.1 L632.0,177.0 L632.5,176.9 L633.0,176.6 L633.5,176.3 L634.0,176.1 L634.5,176.1 L635.0,176.1 L635.5,176.0 L636.0,176.0 L636.5,175.9 L637.0,175.8 L637.5,175.7 L638.0,175.9 L638.5,176.1 L639.0,176.2 L639.5,176.3 L640.0,176.4 L640.5,176.6 L641.0,176.9 L641.5,177.0 L642.0,177.0 L642.5,177.0 L643.0,177.1 L643.5,177.0 L644.0,176.9 L644.5,176.7 L645.0,176.4 L645.5,175.9 L646.0,175.5 L646.5,175.1 L647.0,174.9 L647.5,174.9 L648.0,175.0 L648.5,175.0 L649.0,174.8 L649.5,174.9 L650.0,172.6 L650.5,164.2 L651.0,151.0 L651.5,134.0 L652.0,115.3 L652.5,97.8 L653.0,84.4 L653.5,77.4 L654.0,78.2 L654.5,86.5 L655.0,101.0 L655.5,119.0 L656.0,137.5 L656.5,153.9 L657.0,166.2 L657.5,173.8 L658.0,176.8 L658.5,176.7 L659.0,176.5 L659.5,176.3 L660.0,176.3 L660.5,176.5 L661.0,176.8 L661.5,177.0 L662.0,177.2 L662.5,177.3 L663.0,177.3 L663.5,177.2 L664.0,177.0 L664.5,176.8 L665.0,176.5 L665.5,176.4 L666.0,176.4 L666.5,176.6 L667.0,176.9 L667.5,177.1 L668.0,177.3 L668.5,177.4 L669.0,177.5 L669.5,177.4 L670.0,177.4 L670.5,177.2 L671.0,177.1 L671.5,176.9 L672.0,176.8 L672.5,176.8 L673.0,176.9 L673.5,177.1 L674.0,177.2 L674.5,177.4 L675.0,177.5 L675.5,177.5 L676.0,177.6 L676.5,177.6 L677.0,177.6 L677.5,177.5 L678.0,177.5 L678.5,177.4 L679.0,177.3 L679.5,177.1 L680.0,177.0 L680.5,177.0 L681.0,177.0 L681.5,177.0 L682.0,177.1 L682.5,177.2 L683.0,177.2 L683.5,177.2 L684.0,177.1 L684.5,177.0 L685.0,176.8 L685.5,176.6 L686.0,176.4 L686.5,176.3 L687.0,176.3 L688,181.9 Z"/>
<path id="p1T" d="M-3,181.9 L-2.0,172.9 L-1.5,173.5 L-1.0,174.2 L-0.5,175.0 L0.0,175.6 L0.5,175.8 L1.0,175.5 L1.5,174.7 L2.0,174.0 L2.5,174.1 L3.0,175.1 L3.5,176.3 L4.0,177.1 L4.5,177.4 L5.0,177.6 L5.5,177.6 L6.0,177.6 L6.5,177.6 L7.0,177.6 L7.5,177.6 L8.0,177.6 L8.5,177.6 L9.0,177.5 L9.5,177.5 L10.0,177.4 L10.5,177.1 L11.0,176.8 L11.5,176.4 L12.0,175.9 L12.5,175.2 L13.0,174.3 L13.5,173.4 L14.0,172.9 L14.5,173.3 L15.0,174.3 L15.5,175.2 L16.0,175.8 L16.5,176.1 L17.0,176.0 L17.5,175.9 L18.0,175.8 L18.5,175.9 L19.0,176.1 L19.5,176.4 L20.0,176.7 L20.5,176.8 L21.0,176.9 L21.5,177.0 L22.0,177.0 L22.5,177.1 L23.0,177.2 L23.5,177.4 L24.0,177.5 L24.5,177.5 L25.0,177.6 L25.5,177.6 L26.0,177.5 L26.5,177.5 L27.0,177.4 L27.5,177.1 L28.0,176.8 L28.5,176.4 L29.0,175.9 L29.5,175.6 L30.0,175.5 L30.5,175.6 L31.0,175.8 L31.5,176.1 L32.0,176.2 L32.5,175.7 L33.0,175.0 L33.5,174.8 L34.0,175.0 L34.5,175.2 L35.0,175.2 L35.5,175.3 L36.0,175.4 L36.5,175.7 L37.0,176.1 L37.5,176.5 L38.0,176.9 L38.5,177.2 L39.0,177.3 L39.5,177.5 L40.0,177.5 L40.5,177.6 L41.0,177.6 L41.5,177.6 L42.0,177.6 L42.5,177.5 L43.0,177.5 L43.5,177.3 L44.0,177.0 L44.5,176.7 L45.0,176.2 L45.5,175.7 L46.0,175.2 L46.5,174.8 L47.0,174.7 L47.5,174.9 L48.0,175.4 L48.5,176.0 L49.0,176.5 L49.5,176.7 L50.0,176.6 L50.5,176.2 L51.0,175.8 L51.5,175.7 L52.0,175.9 L52.5,176.2 L53.0,176.3 L53.5,176.2 L54.0,176.1 L54.5,176.1 L55.0,176.2 L55.5,176.4 L56.0,176.7 L56.5,177.0 L57.0,177.2 L57.5,177.4 L58.0,177.5 L58.5,177.5 L59.0,177.5 L59.5,177.4 L60.0,177.1 L60.5,176.5 L61.0,175.5 L61.5,174.4 L62.0,173.3 L62.5,165.2 L63.0,152.5 L63.5,135.7 L64.0,116.9 L64.5,98.9 L65.0,84.8 L65.5,76.9 L66.0,76.8 L66.5,84.5 L67.0,98.5 L67.5,116.4 L68.0,135.2 L68.5,152.1 L69.0,165.0 L69.5,172.7 L70.0,172.7 L70.5,171.5 L71.0,162.5 L71.5,149.1 L72.0,132.5 L72.5,115.0 L73.0,99.2 L73.5,87.8 L74.0,82.9 L74.5,85.3 L75.0,94.7 L75.5,109.4 L76.0,126.7 L76.5,143.8 L77.0,158.5 L77.5,169.0 L78.0,175.1 L78.5,176.5 L79.0,175.9 L79.5,175.4 L80.0,175.2 L80.5,175.2 L81.0,175.3 L81.5,175.4 L82.0,175.6 L82.5,175.9 L83.0,176.2 L83.5,176.5 L84.0,176.7 L84.5,176.8 L85.0,176.7 L85.5,176.5 L86.0,176.2 L86.5,176.0 L87.0,175.9 L87.5,175.9 L88.0,175.9 L88.5,175.8 L89.0,175.7 L89.5,175.8 L90.0,176.0 L90.5,176.3 L91.0,176.7 L91.5,177.1 L92.0,177.3 L92.5,177.5 L93.0,177.5 L93.5,177.6 L94.0,177.6 L94.5,177.6 L95.0,177.4 L95.5,177.0 L96.0,176.7 L96.5,176.9 L97.0,176.9 L97.5,176.4 L98.0,175.7 L98.5,175.0 L99.0,174.7 L99.5,174.8 L100.0,175.0 L100.5,175.0 L101.0,174.9 L101.5,174.6 L102.0,174.3 L102.5,173.9 L103.0,173.8 L103.5,171.3 L104.0,161.9 L104.5,147.7 L105.0,130.1 L105.5,111.2 L106.0,94.1 L106.5,81.6 L107.0,76.1 L107.5,78.4 L108.0,88.1 L108.5,103.6 L109.0,122.1 L109.5,140.6 L110.0,156.5 L110.5,167.9 L111.0,174.7 L111.5,177.1 L112.0,177.3 L112.5,177.4 L113.0,177.4 L113.5,177.3 L114.0,177.1 L114.5,176.8 L115.0,176.4 L115.5,175.9 L116.0,175.4 L116.5,175.1 L117.0,175.1 L117.5,175.5 L118.0,176.0 L118.5,176.6 L119.0,177.1 L119.5,177.4 L120.0,177.5 L120.5,177.6 L121.0,177.6 L121.5,177.6 L122.0,177.6 L122.5,177.6 L123.0,177.6 L123.5,177.6 L124.0,177.6 L124.5,177.6 L125.0,177.5 L125.5,177.3 L126.0,176.9 L126.5,176.2 L127.0,175.4 L127.5,174.7 L128.0,174.4 L128.5,174.7 L129.0,175.3 L129.5,175.8 L130.0,176.0 L130.5,176.0 L131.0,176.0 L131.5,175.9 L132.0,175.6 L132.5,174.9 L133.0,174.2 L133.5,174.5 L134.0,175.6 L134.5,176.7 L135.0,177.2 L135.5,177.5 L136.0,177.5 L136.5,177.5 L137.0,177.4 L137.5,177.2 L138.0,177.2 L138.5,177.2 L139.0,177.1 L139.5,176.9 L140.0,176.9 L140.5,177.1 L141.0,177.4 L141.5,177.5 L142.0,177.4 L142.5,177.3 L143.0,177.1 L143.5,176.6 L144.0,175.6 L144.5,174.5 L145.0,174.3 L145.5,174.6 L146.0,174.8 L146.5,174.9 L147.0,175.5 L147.5,176.2 L148.0,176.8 L148.5,177.1 L149.0,177.2 L149.5,177.1 L150.0,176.8 L150.5,176.4 L151.0,175.9 L151.5,175.6 L152.0,175.3 L152.5,175.3 L153.0,175.4 L153.5,175.6 L154.0,175.8 L154.5,176.1 L155.0,176.4 L155.5,176.8 L156.0,177.2 L156.5,177.4 L157.0,177.5 L157.5,177.5 L158.0,177.4 L158.5,177.2 L159.0,176.8 L159.5,176.3 L160.0,175.7 L160.5,175.2 L161.0,174.9 L161.5,174.8 L162.0,175.1 L162.5,175.6 L163.0,176.0 L163.5,176.3 L164.0,176.5 L164.5,176.5 L165.0,176.4 L165.5,176.1 L166.0,175.7 L166.5,175.6 L167.0,175.8 L167.5,176.1 L168.0,175.1 L168.5,168.4 L169.0,156.1 L169.5,138.6 L170.0,117.4 L170.5,95.5 L171.0,76.3 L171.5,63.3 L172.0,58.6 L172.5,63.3 L173.0,76.3 L173.5,95.5 L174.0,117.4 L174.5,138.6 L175.0,156.1 L175.5,168.4 L176.0,175.1 L176.5,176.1 L177.0,175.4 L177.5,174.7 L178.0,174.0 L178.5,173.4 L179.0,173.1 L179.5,173.1 L180.0,173.6 L180.5,174.3 L181.0,175.1 L181.5,175.9 L182.0,176.5 L182.5,176.8 L183.0,176.9 L183.5,176.7 L184.0,176.5 L184.5,176.2 L185.0,175.9 L185.5,175.8 L186.0,176.0 L186.5,176.2 L187.0,176.6 L187.5,176.9 L188.0,177.2 L188.5,177.4 L189.0,177.4 L189.5,177.2 L190.0,176.8 L190.5,176.2 L191.0,175.8 L191.5,175.8 L192.0,176.3 L192.5,176.7 L193.0,176.9 L193.5,176.9 L194.0,176.8 L194.5,176.3 L195.0,175.5 L195.5,174.2 L196.0,172.7 L196.5,172.0 L197.0,172.8 L197.5,174.5 L198.0,175.7 L198.5,176.1 L199.0,176.0 L199.5,175.8 L200.0,175.7 L200.5,175.6 L201.0,175.7 L201.5,176.0 L202.0,176.3 L202.5,176.6 L203.0,176.9 L203.5,177.2 L204.0,177.4 L204.5,177.5 L205.0,177.5 L205.5,177.4 L206.0,177.1 L206.5,176.7 L207.0,176.0 L207.5,175.2 L208.0,174.5 L208.5,173.9 L209.0,173.3 L209.5,172.7 L210.0,172.1 L210.5,171.6 L211.0,171.6 L211.5,172.3 L212.0,173.4 L212.5,174.5 L213.0,175.4 L213.5,175.9 L214.0,176.3 L214.5,176.4 L215.0,176.6 L215.5,176.7 L216.0,176.9 L216.5,177.1 L217.0,177.3 L217.5,177.5 L218.0,177.5 L218.5,177.6 L219.0,177.6 L219.5,177.6 L220.0,177.6 L220.5,177.6 L221.0,177.6 L221.5,177.6 L222.0,177.5 L222.5,177.5 L223.0,177.3 L223.5,177.1 L224.0,176.6 L224.5,176.1 L225.0,175.4 L225.5,174.7 L226.0,174.2 L226.5,173.9 L227.0,173.9 L227.5,174.1 L228.0,174.6 L228.5,175.1 L229.0,175.7 L229.5,176.2 L230.0,176.7 L230.5,177.0 L231.0,177.2 L231.5,177.4 L232.0,177.4 L232.5,177.3 L233.0,177.0 L233.5,176.5 L234.0,176.1 L234.5,175.9 L235.0,175.9 L235.5,175.9 L236.0,175.8 L236.5,175.8 L237.0,175.9 L237.5,176.2 L238.0,176.7 L238.5,177.1 L239.0,177.3 L239.5,177.5 L240.0,177.6 L240.5,177.6 L241.0,177.4 L241.5,177.0 L242.0,176.6 L242.5,176.8 L243.0,177.3 L243.5,177.4 L244.0,177.4 L244.5,177.3 L245.0,177.3 L245.5,177.3 L246.0,177.2 L246.5,177.0 L247.0,176.7 L247.5,176.4 L248.0,176.3 L248.5,176.5 L249.0,176.7 L249.5,176.8 L250.0,176.7 L250.5,176.6 L251.0,176.6 L251.5,176.5 L252.0,176.5 L252.5,176.5 L253.0,176.4 L253.5,176.2 L254.0,176.0 L254.5,175.7 L255.0,175.3 L255.5,174.8 L256.0,172.4 L256.5,164.7 L257.0,153.3 L257.5,139.3 L258.0,124.4 L258.5,110.9 L259.0,101.3 L259.5,97.2 L260.0,99.4 L260.5,107.4 L261.0,119.8 L261.5,134.5 L262.0,149.1 L262.5,161.5 L263.0,170.4 L263.5,175.5 L264.0,176.7 L264.5,177.0 L265.0,177.2 L265.5,177.3 L266.0,177.3 L266.5,177.1 L267.0,176.8 L267.5,176.5 L268.0,176.2 L268.5,176.0 L269.0,175.8 L269.5,175.5 L270.0,175.0 L270.5,174.2 L271.0,173.5 L271.5,173.2 L272.0,173.2 L272.5,173.4 L273.0,173.5 L273.5,173.6 L274.0,173.6 L274.5,173.5 L275.0,173.4 L275.5,173.5 L276.0,173.9 L276.5,174.5 L277.0,175.2 L277.5,175.7 L278.0,176.2 L278.5,176.7 L279.0,177.1 L279.5,177.3 L280.0,177.5 L280.5,177.5 L281.0,177.6 L281.5,177.5 L282.0,177.5 L282.5,177.4 L283.0,177.2 L283.5,177.0 L284.0,176.8 L284.5,176.4 L285.0,175.9 L285.5,175.5 L286.0,175.2 L286.5,175.2 L287.0,175.5 L287.5,176.0 L288.0,176.6 L288.5,176.9 L289.0,177.0 L289.5,176.8 L290.0,176.3 L290.5,175.8 L291.0,175.5 L291.5,175.4 L292.0,175.4 L292.5,175.5 L293.0,175.7 L293.5,176.2 L294.0,176.8 L294.5,177.3 L295.0,177.5 L295.5,177.6 L296.0,177.6 L296.5,177.6 L297.0,177.0 L297.5,173.6 L298.0,166.6 L298.5,155.6 L299.0,141.3 L299.5,125.6 L300.0,110.7 L300.5,99.2 L301.0,93.2 L301.5,93.6 L302.0,100.5 L302.5,112.6 L303.0,127.7 L303.5,143.4 L304.0,157.3 L304.5,167.8 L305.0,174.3 L305.5,177.2 L306.0,177.4 L306.5,177.3 L307.0,177.0 L307.5,176.7 L308.0,176.1 L308.5,175.4 L309.0,174.8 L309.5,174.7 L310.0,175.2 L310.5,175.8 L311.0,176.3 L311.5,176.7 L312.0,177.0 L312.5,177.2 L313.0,177.4 L313.5,177.5 L314.0,177.5 L314.5,177.4 L315.0,177.1 L315.5,176.6 L316.0,176.1 L316.5,175.8 L317.0,175.8 L317.5,176.2 L318.0,176.6 L318.5,177.0 L319.0,177.2 L319.5,177.3 L320.0,177.4 L320.5,177.4 L321.0,177.5 L321.5,177.5 L322.0,177.6 L322.5,177.5 L323.0,177.4 L323.5,177.1 L324.0,176.4 L324.5,175.7 L325.0,175.2 L325.5,175.1 L326.0,175.4 L326.5,175.7 L327.0,175.9 L327.5,175.8 L328.0,175.6 L328.5,175.5 L329.0,175.6 L329.5,175.8 L330.0,176.0 L330.5,176.3 L331.0,176.6 L331.5,175.4 L332.0,170.3 L332.5,161.6 L333.0,149.6 L333.5,135.7 L334.0,121.8 L334.5,110.2 L335.0,102.9 L335.5,101.3 L336.0,105.6 L336.5,115.1 L337.0,128.0 L337.5,142.2 L338.0,155.4 L338.5,166.0 L339.0,173.1 L339.5,176.7 L340.0,177.6 L340.5,177.6 L341.0,177.6 L341.5,177.4 L342.0,177.0 L342.5,176.4 L343.0,175.9 L343.5,176.0 L344.0,176.5 L344.5,176.9 L345.0,177.0 L345.5,176.7 L346.0,176.0 L346.5,175.0 L347.0,173.7 L347.5,172.3 L348.0,171.2 L348.5,170.8 L349.0,171.5 L349.5,172.9 L350.0,174.2 L350.5,175.1 L351.0,175.9 L351.5,176.7 L352.0,177.2 L352.5,177.4 L353.0,177.4 L353.5,177.4 L354.0,177.2 L354.5,176.9 L355.0,176.4 L355.5,175.8 L356.0,175.5 L356.5,175.9 L357.0,176.5 L357.5,177.1 L358.0,177.3 L358.5,177.4 L359.0,177.5 L359.5,177.4 L360.0,177.2 L360.5,176.8 L361.0,176.5 L361.5,176.2 L362.0,175.7 L362.5,175.4 L363.0,175.8 L363.5,176.6 L364.0,177.3 L364.5,177.5 L365.0,177.6 L365.5,177.6 L366.0,177.6 L366.5,177.6 L367.0,177.5 L367.5,177.4 L368.0,177.1 L368.5,176.5 L369.0,175.5 L369.5,174.6 L370.0,174.5 L370.5,174.9 L371.0,175.5 L371.5,175.9 L372.0,176.1 L372.5,176.3 L373.0,176.5 L373.5,176.7 L374.0,176.7 L374.5,176.7 L375.0,176.6 L375.5,176.4 L376.0,176.2 L376.5,175.9 L377.0,175.4 L377.5,174.5 L378.0,173.3 L378.5,172.4 L379.0,172.2 L379.5,172.7 L380.0,173.4 L380.5,174.0 L381.0,174.5 L381.5,174.9 L382.0,175.2 L382.5,175.4 L383.0,175.3 L383.5,175.3 L384.0,175.4 L384.5,175.6 L385.0,175.9 L385.5,176.3 L386.0,176.7 L386.5,176.7 L387.0,176.4 L387.5,175.7 L388.0,175.3 L388.5,175.4 L389.0,175.9 L389.5,176.2 L390.0,176.3 L390.5,176.3 L391.0,176.0 L391.5,175.7 L392.0,175.1 L392.5,174.7 L393.0,174.6 L393.5,175.0 L394.0,175.4 L394.5,175.5 L395.0,175.0 L395.5,174.6 L396.0,174.6 L396.5,175.1 L397.0,175.7 L397.5,176.0 L398.0,176.0 L398.5,175.9 L399.0,175.7 L399.5,175.6 L400.0,175.6 L400.5,175.6 L401.0,175.6 L401.5,175.5 L402.0,175.3 L402.5,175.3 L403.0,175.4 L403.5,175.7 L404.0,176.2 L404.5,176.6 L405.0,176.9 L405.5,176.9 L406.0,176.6 L406.5,176.0 L407.0,175.1 L407.5,174.3 L408.0,173.6 L408.5,173.4 L409.0,173.8 L409.5,174.7 L410.0,175.6 L410.5,176.5 L411.0,177.0 L411.5,177.3 L412.0,177.3 L412.5,177.3 L413.0,177.1 L413.5,176.9 L414.0,176.7 L414.5,176.4 L415.0,176.1 L415.5,175.7 L416.0,175.3 L416.5,174.8 L417.0,174.4 L417.5,174.2 L418.0,174.5 L418.5,175.5 L419.0,176.4 L419.5,176.6 L420.0,176.4 L420.5,176.0 L421.0,175.6 L421.5,175.5 L422.0,171.5 L422.5,162.8 L423.0,150.0 L423.5,134.4 L424.0,118.1 L424.5,103.5 L425.0,93.2 L425.5,89.1 L426.0,91.9 L426.5,101.1 L427.0,115.0 L427.5,131.2 L428.0,147.1 L428.5,160.6 L429.0,170.1 L429.5,175.5 L430.0,177.1 L430.5,177.2 L431.0,177.4 L431.5,177.5 L432.0,177.6 L432.5,177.6 L433.0,177.6 L433.5,177.6 L434.0,177.6 L434.5,177.6 L435.0,177.6 L435.5,177.5 L436.0,177.4 L436.5,177.2 L437.0,176.9 L437.5,176.5 L438.0,176.0 L438.5,175.5 L439.0,175.0 L439.5,174.6 L440.0,174.3 L440.5,174.0 L441.0,173.8 L441.5,173.7 L442.0,173.8 L442.5,173.9 L443.0,174.1 L443.5,174.3 L444.0,174.7 L444.5,175.3 L445.0,175.8 L445.5,176.3 L446.0,176.7 L446.5,176.9 L447.0,177.1 L447.5,177.2 L448.0,177.1 L448.5,177.0 L449.0,176.9 L449.5,176.8 L450.0,176.7 L450.5,176.6 L451.0,176.6 L451.5,176.5 L452.0,176.3 L452.5,176.1 L453.0,174.5 L453.5,167.9 L454.0,156.8 L454.5,141.8 L455.0,124.6 L455.5,107.6 L456.0,93.6 L456.5,85.1 L457.0,83.7 L457.5,89.5 L458.0,101.6 L458.5,117.7 L459.0,135.2 L459.5,151.3 L460.0,164.1 L460.5,172.4 L461.0,175.1 L461.5,176.1 L462.0,176.8 L462.5,177.3 L463.0,177.5 L463.5,177.6 L464.0,177.6 L464.5,177.6 L465.0,177.6 L465.5,177.5 L466.0,177.1 L466.5,176.4 L467.0,175.7 L467.5,175.8 L468.0,176.6 L468.5,177.2 L469.0,177.4 L469.5,177.3 L470.0,177.0 L470.5,176.6 L471.0,175.9 L471.5,175.0 L472.0,173.9 L472.5,173.5 L473.0,174.2 L473.5,175.3 L474.0,175.7 L474.5,175.5 L475.0,174.8 L475.5,173.9 L476.0,173.0 L476.5,172.5 L477.0,172.5 L477.5,173.1 L478.0,174.1 L478.5,173.1 L479.0,166.0 L479.5,155.4 L480.0,142.1 L480.5,127.9 L481.0,114.9 L481.5,105.4 L482.0,101.0 L482.5,102.6 L483.0,109.9 L483.5,121.5 L484.0,135.5 L484.5,149.4 L485.0,161.5 L485.5,170.2 L486.0,175.4 L486.5,177.5 L487.0,177.6 L487.5,177.6 L488.0,177.6 L488.5,177.6 L489.0,177.5 L489.5,177.5 L490.0,177.4 L490.5,177.2 L491.0,177.1 L491.5,176.9 L492.0,176.6 L492.5,176.1 L493.0,175.5 L493.5,175.2 L494.0,175.5 L494.5,176.2 L495.0,176.9 L495.5,175.0 L496.0,169.4 L496.5,160.1 L497.0,147.4 L497.5,132.9 L498.0,118.6 L498.5,106.9 L499.0,99.8 L499.5,98.6 L500.0,103.5 L500.5,113.7 L501.0,127.3 L501.5,142.0 L502.0,155.6 L502.5,166.3 L503.0,173.3 L503.5,176.0 L504.0,176.3 L504.5,176.5 L505.0,176.7 L505.5,176.9 L506.0,177.1 L506.5,177.2 L507.0,177.0 L507.5,176.7 L508.0,176.1 L508.5,175.6 L509.0,175.6 L509.5,175.9 L510.0,176.2 L510.5,175.5 L511.0,170.3 L511.5,161.2 L512.0,148.4 L512.5,133.3 L513.0,118.0 L513.5,105.0 L514.0,96.5 L514.5,94.0 L515.0,98.1 L515.5,108.0 L516.0,121.8 L516.5,137.3 L517.0,152.0 L517.5,163.9 L518.0,172.0 L518.5,176.3 L519.0,177.6 L519.5,177.6 L520.0,177.6 L520.5,177.6 L521.0,177.6 L521.5,177.6 L522.0,177.6 L522.5,177.6 L523.0,177.6 L523.5,177.6 L524.0,177.6 L524.5,177.6 L525.0,177.5 L525.5,177.4 L526.0,177.1 L526.5,176.8 L527.0,176.4 L527.5,176.1 L528.0,175.7 L528.5,175.7 L529.0,175.9 L529.5,176.4 L530.0,176.8 L530.5,177.2 L531.0,177.3 L531.5,177.3 L532.0,177.2 L532.5,177.1 L533.0,177.0 L533.5,176.9 L534.0,176.7 L534.5,174.2 L535.0,167.8 L535.5,157.5 L536.0,143.9 L536.5,128.6 L537.0,113.9 L537.5,102.3 L538.0,95.8 L538.5,95.5 L539.0,101.6 L539.5,112.9 L540.0,127.4 L540.5,142.8 L541.0,156.6 L541.5,167.2 L542.0,173.9 L542.5,176.9 L543.0,176.4 L543.5,171.6 L544.0,161.9 L544.5,146.9 L545.0,127.8 L545.5,107.0 L546.0,87.6 L546.5,73.0 L547.0,65.8 L547.5,67.2 L548.0,77.0 L548.5,93.4 L549.0,113.6 L549.5,134.2 L550.0,152.2 L550.5,165.6 L551.0,173.6 L551.5,175.9 L552.0,176.5 L552.5,176.9 L553.0,177.2 L553.5,177.3 L554.0,177.2 L554.5,177.1 L555.0,176.9 L555.5,176.8 L556.0,176.8 L556.5,177.0 L557.0,177.2 L557.5,177.4 L558.0,177.4 L558.5,174.9 L559.0,168.8 L559.5,158.3 L560.0,143.9 L560.5,127.1 L561.0,110.3 L561.5,96.3 L562.0,87.5 L562.5,85.5 L563.0,90.7 L563.5,102.1 L564.0,117.6 L564.5,134.7 L565.0,150.7 L565.5,163.5 L566.0,172.0 L566.5,176.1 L567.0,175.5 L567.5,169.9 L568.0,159.6 L568.5,144.8 L569.0,127.0 L569.5,108.5 L570.0,92.3 L570.5,81.3 L571.0,77.3 L571.5,81.2 L572.0,92.1 L572.5,108.3 L573.0,126.7 L573.5,144.6 L574.0,159.4 L574.5,169.8 L575.0,175.5 L575.5,177.6 L576.0,177.6 L576.5,177.6 L577.0,177.6 L577.5,177.6 L578.0,177.6 L578.5,177.6 L579.0,177.6 L579.5,177.6 L580.0,177.6 L580.5,177.6 L581.0,177.6 L581.5,177.6 L582.0,177.6 L582.5,177.6 L583.0,177.6 L583.5,177.6 L584.0,177.2 L584.5,174.6 L585.0,169.2 L585.5,160.6 L586.0,149.3 L586.5,136.9 L587.0,125.1 L587.5,115.9 L588.0,110.9 L588.5,111.1 L589.0,116.4 L589.5,125.8 L590.0,137.8 L590.5,150.2 L591.0,161.3 L591.5,169.7 L592.0,174.9 L592.5,174.5 L593.0,173.7 L593.5,173.1 L594.0,172.9 L594.5,173.1 L595.0,173.7 L595.5,174.5 L596.0,175.1 L596.5,175.5 L597.0,175.7 L597.5,175.9 L598.0,176.0 L598.5,176.2 L599.0,176.6 L599.5,176.9 L600.0,177.1 L600.5,177.2 L601.0,177.2 L601.5,177.1 L602.0,176.9 L602.5,176.8 L603.0,176.7 L603.5,176.8 L604.0,176.8 L604.5,176.9 L605.0,176.8 L605.5,176.7 L606.0,176.6 L606.5,176.6 L607.0,176.6 L607.5,176.7 L608.0,176.7 L608.5,176.7 L609.0,176.5 L609.5,176.2 L610.0,175.6 L610.5,174.8 L611.0,174.0 L611.5,173.4 L612.0,173.2 L612.5,173.4 L613.0,173.9 L613.5,174.5 L614.0,175.1 L614.5,175.3 L615.0,175.2 L615.5,174.6 L616.0,173.8 L616.5,173.2 L617.0,172.9 L617.5,173.1 L618.0,173.5 L618.5,173.9 L619.0,174.2 L619.5,174.3 L620.0,174.3 L620.5,174.4 L621.0,174.6 L621.5,174.9 L622.0,175.1 L622.5,175.3 L623.0,175.4 L623.5,175.4 L624.0,175.3 L624.5,175.4 L625.0,175.7 L625.5,176.1 L626.0,176.5 L626.5,176.9 L627.0,177.1 L627.5,177.1 L628.0,177.1 L628.5,176.9 L629.0,176.6 L629.5,176.4 L630.0,176.3 L630.5,176.2 L631.0,176.3 L631.5,176.4 L632.0,176.5 L632.5,176.5 L633.0,176.4 L633.5,174.7 L634.0,168.6 L634.5,158.4 L635.0,144.7 L635.5,129.0 L636.0,113.6 L636.5,101.0 L637.0,93.5 L637.5,92.3 L638.0,97.8 L638.5,108.9 L639.0,123.6 L639.5,139.5 L640.0,154.1 L640.5,165.6 L641.0,173.1 L641.5,175.1 L642.0,175.3 L642.5,175.6 L643.0,176.0 L643.5,176.4 L644.0,176.8 L644.5,177.2 L645.0,177.4 L645.5,177.5 L646.0,177.6 L646.5,177.6 L647.0,177.5 L647.5,177.4 L648.0,177.0 L648.5,176.3 L649.0,175.6 L649.5,175.1 L650.0,174.9 L650.5,175.0 L651.0,175.1 L651.5,175.1 L652.0,174.9 L652.5,174.7 L653.0,174.9 L653.5,175.4 L654.0,175.8 L654.5,176.2 L655.0,176.7 L655.5,177.1 L656.0,177.5 L656.5,177.6 L657.0,177.6 L657.5,177.5 L658.0,177.4 L658.5,177.3 L659.0,177.1 L659.5,177.0 L660.0,176.8 L660.5,176.7 L661.0,176.5 L661.5,176.3 L662.0,176.1 L662.5,175.8 L663.0,175.4 L663.5,174.7 L664.0,173.8 L664.5,173.1 L665.0,173.3 L665.5,174.1 L666.0,175.1 L666.5,176.0 L667.0,176.7 L667.5,177.1 L668.0,177.3 L668.5,177.3 L669.0,177.2 L669.5,176.8 L670.0,176.3 L670.5,175.8 L671.0,175.5 L671.5,175.5 L672.0,175.6 L672.5,175.7 L673.0,175.3 L673.5,174.6 L674.0,174.1 L674.5,174.3 L675.0,174.9 L675.5,175.6 L676.0,176.0 L676.5,176.1 L677.0,175.9 L677.5,175.6 L678.0,175.3 L678.5,175.1 L679.0,175.4 L679.5,175.9 L680.0,176.5 L680.5,177.0 L681.0,177.3 L681.5,177.5 L682.0,177.5 L682.5,177.5 L683.0,177.3 L683.5,177.0 L684.0,176.7 L684.5,176.6 L685.0,176.6 L685.5,176.8 L686.0,177.0 L686.5,177.1 L687.0,176.9 L688,181.9 Z"/>
<path id="p1G" d="M-3,181.9 L-2.0,175.4 L-1.5,175.4 L-1.0,175.3 L-0.5,175.1 L0.0,174.8 L0.5,174.6 L1.0,174.5 L1.5,174.6 L2.0,174.9 L2.5,175.2 L3.0,175.3 L3.5,175.2 L4.0,175.3 L4.5,175.8 L5.0,176.4 L5.5,176.8 L6.0,176.9 L6.5,176.8 L7.0,176.8 L7.5,177.0 L8.0,177.4 L8.5,177.5 L9.0,177.6 L9.5,177.5 L10.0,177.4 L10.5,177.3 L11.0,177.2 L11.5,177.1 L12.0,177.1 L12.5,177.1 L13.0,177.2 L13.5,177.2 L14.0,177.1 L14.5,176.7 L15.0,176.2 L15.5,175.6 L16.0,175.0 L16.5,174.7 L17.0,174.6 L17.5,174.9 L18.0,175.3 L18.5,175.9 L19.0,176.5 L19.5,176.9 L20.0,177.2 L20.5,177.4 L21.0,177.4 L21.5,177.4 L22.0,177.2 L22.5,176.9 L23.0,176.6 L23.5,176.2 L24.0,175.8 L24.5,175.6 L25.0,175.5 L25.5,175.6 L26.0,175.9 L26.5,176.3 L27.0,176.7 L27.5,176.7 L28.0,173.4 L28.5,167.0 L29.0,157.6 L29.5,145.9 L30.0,133.5 L30.5,122.3 L31.0,114.2 L31.5,110.7 L32.0,112.4 L32.5,119.0 L33.0,129.4 L33.5,141.6 L34.0,153.8 L34.5,164.1 L35.0,171.6 L35.5,175.2 L36.0,175.3 L36.5,175.5 L37.0,175.9 L37.5,176.3 L38.0,176.8 L38.5,177.2 L39.0,177.4 L39.5,177.5 L40.0,177.6 L40.5,177.6 L41.0,177.6 L41.5,177.6 L42.0,177.6 L42.5,177.4 L43.0,176.8 L43.5,175.3 L44.0,174.1 L44.5,174.4 L45.0,175.4 L45.5,170.7 L46.0,163.1 L46.5,152.8 L47.0,141.1 L47.5,129.7 L48.0,120.5 L48.5,115.1 L49.0,114.4 L49.5,118.7 L50.0,127.0 L50.5,138.1 L51.0,149.8 L51.5,160.6 L52.0,169.0 L52.5,174.5 L53.0,176.9 L53.5,176.9 L54.0,176.8 L54.5,176.6 L55.0,176.2 L55.5,175.8 L56.0,175.5 L56.5,175.3 L57.0,175.3 L57.5,175.6 L58.0,175.9 L58.5,176.0 L59.0,175.8 L59.5,175.4 L60.0,175.4 L60.5,175.9 L61.0,176.1 L61.5,175.8 L62.0,175.5 L62.5,175.6 L63.0,176.0 L63.5,176.1 L64.0,175.8 L64.5,175.1 L65.0,174.2 L65.5,173.4 L66.0,173.0 L66.5,173.0 L67.0,173.4 L67.5,173.9 L68.0,174.5 L68.5,175.0 L69.0,175.6 L69.5,176.0 L70.0,176.0 L70.5,175.8 L71.0,175.5 L71.5,175.4 L72.0,175.5 L72.5,175.9 L73.0,176.3 L73.5,176.8 L74.0,177.1 L74.5,177.2 L75.0,177.3 L75.5,177.2 L76.0,177.1 L76.5,176.9 L77.0,176.7 L77.5,176.6 L78.0,176.5 L78.5,173.4 L79.0,163.8 L79.5,147.2 L80.0,124.2 L80.5,97.3 L81.0,70.2 L81.5,47.3 L82.0,32.7 L82.5,29.0 L83.0,36.8 L83.5,54.7 L84.0,79.6 L84.5,107.1 L85.0,133.0 L85.5,153.9 L86.0,168.0 L86.5,175.3 L87.0,176.2 L87.5,176.2 L88.0,176.2 L88.5,176.2 L89.0,176.1 L89.5,176.2 L90.0,176.3 L90.5,176.3 L91.0,176.4 L91.5,176.4 L92.0,176.1 L92.5,175.5 L93.0,175.4 L93.5,175.9 L94.0,176.4 L94.5,176.6 L95.0,176.5 L95.5,176.4 L96.0,176.4 L96.5,176.6 L97.0,176.8 L97.5,177.0 L98.0,177.2 L98.5,177.3 L99.0,177.3 L99.5,177.2 L100.0,177.0 L100.5,176.7 L101.0,176.3 L101.5,176.0 L102.0,175.7 L102.5,175.5 L103.0,175.4 L103.5,175.3 L104.0,175.2 L104.5,175.1 L105.0,175.0 L105.5,175.0 L106.0,175.0 L106.5,175.2 L107.0,175.5 L107.5,175.7 L108.0,175.7 L108.5,175.8 L109.0,176.2 L109.5,176.7 L110.0,177.1 L110.5,177.2 L111.0,177.0 L111.5,176.7 L112.0,176.3 L112.5,175.8 L113.0,175.2 L113.5,174.7 L114.0,174.4 L114.5,174.6 L115.0,175.3 L115.5,176.1 L116.0,176.8 L116.5,177.3 L117.0,177.5 L117.5,177.6 L118.0,177.6 L118.5,177.6 L119.0,177.6 L119.5,177.5 L120.0,177.3 L120.5,177.0 L121.0,176.5 L121.5,176.1 L122.0,176.0 L122.5,176.0 L123.0,176.0 L123.5,175.8 L124.0,175.4 L124.5,175.0 L125.0,174.5 L125.5,174.0 L126.0,173.9 L126.5,174.3 L127.0,175.0 L127.5,175.8 L128.0,176.4 L128.5,176.8 L129.0,177.1 L129.5,177.2 L130.0,177.2 L130.5,177.2 L131.0,177.2 L131.5,177.2 L132.0,177.2 L132.5,177.1 L133.0,176.9 L133.5,176.8 L134.0,176.7 L134.5,176.7 L135.0,176.6 L135.5,176.4 L136.0,176.3 L136.5,176.2 L137.0,176.1 L137.5,176.0 L138.0,175.7 L138.5,175.3 L139.0,174.9 L139.5,174.5 L140.0,174.1 L140.5,173.8 L141.0,173.5 L141.5,173.1 L142.0,172.4 L142.5,171.4 L143.0,170.7 L143.5,170.8 L144.0,171.7 L144.5,173.0 L145.0,174.2 L145.5,175.2 L146.0,175.9 L146.5,176.3 L147.0,176.4 L147.5,176.3 L148.0,176.5 L148.5,177.0 L149.0,177.3 L149.5,177.2 L150.0,176.8 L150.5,174.2 L151.0,168.2 L151.5,158.9 L152.0,147.0 L152.5,133.9 L153.0,121.6 L153.5,112.2 L154.0,107.3 L154.5,107.9 L155.0,113.8 L155.5,124.0 L156.0,136.7 L156.5,149.7 L157.0,161.2 L157.5,169.8 L158.0,175.0 L158.5,176.5 L159.0,176.8 L159.5,176.8 L160.0,176.6 L160.5,176.2 L161.0,175.8 L161.5,175.0 L162.0,173.9 L162.5,172.6 L163.0,172.0 L163.5,172.3 L164.0,172.8 L164.5,173.3 L165.0,173.9 L165.5,174.6 L166.0,175.4 L166.5,176.0 L167.0,176.1 L167.5,176.0 L168.0,175.7 L168.5,175.4 L169.0,175.2 L169.5,175.0 L170.0,175.0 L170.5,174.9 L171.0,174.8 L171.5,174.5 L172.0,174.2 L172.5,174.2 L173.0,174.7 L173.5,175.5 L174.0,176.2 L174.5,176.7 L175.0,177.1 L175.5,177.3 L176.0,177.3 L176.5,177.2 L177.0,176.9 L177.5,176.3 L178.0,175.6 L178.5,175.1 L179.0,174.9 L179.5,175.2 L180.0,175.7 L180.5,176.3 L181.0,176.8 L181.5,177.1 L182.0,177.4 L182.5,177.5 L183.0,177.6 L183.5,177.6 L184.0,177.6 L184.5,177.6 L185.0,177.6 L185.5,177.6 L186.0,177.6 L186.5,177.6 L187.0,177.5 L187.5,177.3 L188.0,176.8 L188.5,175.7 L189.0,174.4 L189.5,173.7 L190.0,173.7 L190.5,174.1 L191.0,174.9 L191.5,176.0 L192.0,176.8 L192.5,177.3 L193.0,177.5 L193.5,177.6 L194.0,177.6 L194.5,177.6 L195.0,177.6 L195.5,177.5 L196.0,177.4 L196.5,177.2 L197.0,177.0 L197.5,176.7 L198.0,176.5 L198.5,176.3 L199.0,176.2 L199.5,176.2 L200.0,176.4 L200.5,176.4 L201.0,176.3 L201.5,175.8 L202.0,175.2 L202.5,174.7 L203.0,174.4 L203.5,174.5 L204.0,175.2 L204.5,176.1 L205.0,176.8 L205.5,177.1 L206.0,177.0 L206.5,176.6 L207.0,176.3 L207.5,176.2 L208.0,176.1 L208.5,175.9 L209.0,175.7 L209.5,175.7 L210.0,175.9 L210.5,176.1 L211.0,176.5 L211.5,176.8 L212.0,177.0 L212.5,177.1 L213.0,177.1 L213.5,177.0 L214.0,176.9 L214.5,176.9 L215.0,176.8 L215.5,176.7 L216.0,176.5 L216.5,176.4 L217.0,176.4 L217.5,176.7 L218.0,177.1 L218.5,177.3 L219.0,177.3 L219.5,177.1 L220.0,176.8 L220.5,176.4 L221.0,176.0 L221.5,175.5 L222.0,175.0 L222.5,174.5 L223.0,174.5 L223.5,175.0 L224.0,175.8 L224.5,176.5 L225.0,176.9 L225.5,177.1 L226.0,177.1 L226.5,177.0 L227.0,176.9 L227.5,176.7 L228.0,176.5 L228.5,176.5 L229.0,176.5 L229.5,176.2 L230.0,175.8 L230.5,175.7 L231.0,176.0 L231.5,174.1 L232.0,168.1 L232.5,159.0 L233.0,147.4 L233.5,134.7 L234.0,122.9 L234.5,113.9 L235.0,109.5 L235.5,110.3 L236.0,116.3 L236.5,126.3 L237.0,138.6 L237.5,151.2 L238.0,162.2 L238.5,170.4 L239.0,174.9 L239.5,174.4 L240.0,167.4 L240.5,153.9 L241.0,134.5 L241.5,111.2 L242.0,87.1 L242.5,66.0 L243.0,51.7 L243.5,46.6 L244.0,51.7 L244.5,66.1 L245.0,87.2 L245.5,111.3 L246.0,134.6 L246.5,153.9 L247.0,167.4 L247.5,174.8 L248.0,177.3 L248.5,177.2 L249.0,177.0 L249.5,176.9 L250.0,177.0 L250.5,177.1 L251.0,177.0 L251.5,176.6 L252.0,176.3 L252.5,176.4 L253.0,176.9 L253.5,177.3 L254.0,177.5 L254.5,177.5 L255.0,177.5 L255.5,177.4 L256.0,177.2 L256.5,177.0 L257.0,176.6 L257.5,176.2 L258.0,175.7 L258.5,175.1 L259.0,174.5 L259.5,174.1 L260.0,173.9 L260.5,174.0 L261.0,174.4 L261.5,175.1 L262.0,175.8 L262.5,176.4 L263.0,176.5 L263.5,176.4 L264.0,176.1 L264.5,175.3 L265.0,169.1 L265.5,158.0 L266.0,142.2 L266.5,123.3 L267.0,103.9 L267.5,87.0 L268.0,75.7 L268.5,71.9 L269.0,76.3 L269.5,88.2 L270.0,105.3 L270.5,124.8 L271.0,143.6 L271.5,159.0 L272.0,169.7 L272.5,175.4 L273.0,175.3 L273.5,175.5 L274.0,175.8 L274.5,176.3 L275.0,176.6 L275.5,176.7 L276.0,176.7 L276.5,176.5 L277.0,176.2 L277.5,176.0 L278.0,176.0 L278.5,176.1 L279.0,176.3 L279.5,176.5 L280.0,176.5 L280.5,176.3 L281.0,175.9 L281.5,171.9 L282.0,165.3 L282.5,156.3 L283.0,145.9 L283.5,135.8 L284.0,127.4 L284.5,122.3 L285.0,121.4 L285.5,124.9 L286.0,132.2 L286.5,141.8 L287.0,152.3 L287.5,162.0 L288.0,169.6 L288.5,174.6 L289.0,176.7 L289.5,176.4 L290.0,176.0 L290.5,175.6 L291.0,175.2 L291.5,175.0 L292.0,174.8 L292.5,174.7 L293.0,174.8 L293.5,175.1 L294.0,175.4 L294.5,175.8 L295.0,176.3 L295.5,176.7 L296.0,177.0 L296.5,177.2 L297.0,177.1 L297.5,176.8 L298.0,176.1 L298.5,175.4 L299.0,175.1 L299.5,175.2 L300.0,175.4 L300.5,175.2 L301.0,175.1 L301.5,175.3 L302.0,176.0 L302.5,176.7 L303.0,177.2 L303.5,177.5 L304.0,177.6 L304.5,177.6 L305.0,177.5 L305.5,177.0 L306.0,172.8 L306.5,163.2 L307.0,147.3 L307.5,125.8 L308.0,101.3 L308.5,77.3 L309.0,57.7 L309.5,46.0 L310.0,44.3 L310.5,53.0 L311.0,70.4 L311.5,93.4 L312.0,118.2 L312.5,141.0 L313.0,158.8 L313.5,170.4 L314.0,176.1 L314.5,176.8 L315.0,173.1 L315.5,165.2 L316.0,152.7 L316.5,136.3 L317.0,118.2 L317.5,101.0 L318.0,87.6 L318.5,80.4 L319.0,80.7 L319.5,88.4 L320.0,102.2 L320.5,119.6 L321.0,137.6 L321.5,153.7 L322.0,166.0 L322.5,173.4 L323.0,175.5 L323.5,172.1 L324.0,164.3 L324.5,152.7 L325.0,138.5 L325.5,123.6 L326.0,110.2 L326.5,100.8 L327.0,96.9 L327.5,99.3 L328.0,107.6 L328.5,120.2 L329.0,135.0 L329.5,149.6 L330.0,161.9 L330.5,170.7 L331.0,175.6 L331.5,177.3 L332.0,176.8 L332.5,176.6 L333.0,176.9 L333.5,177.3 L334.0,177.5 L334.5,177.6 L335.0,177.6 L335.5,177.6 L336.0,177.6 L336.5,177.6 L337.0,177.6 L337.5,177.6 L338.0,177.6 L338.5,177.6 L339.0,177.3 L339.5,174.0 L340.0,165.4 L340.5,150.5 L341.0,129.8 L341.5,105.3 L342.0,80.6 L342.5,59.7 L343.0,46.1 L343.5,42.4 L344.0,49.2 L344.5,65.3 L345.0,87.8 L345.5,112.8 L346.0,136.5 L346.5,155.6 L347.0,168.6 L347.5,175.4 L348.0,176.2 L348.5,176.3 L349.0,176.4 L349.5,176.6 L350.0,176.9 L350.5,177.1 L351.0,177.3 L351.5,177.4 L352.0,177.5 L352.5,177.6 L353.0,177.6 L353.5,177.5 L354.0,177.5 L354.5,177.3 L355.0,177.2 L355.5,177.0 L356.0,176.8 L356.5,176.5 L357.0,176.1 L357.5,175.6 L358.0,175.1 L358.5,174.6 L359.0,174.8 L359.5,175.6 L360.0,176.5 L360.5,176.8 L361.0,176.9 L361.5,176.9 L362.0,177.0 L362.5,177.2 L363.0,177.3 L363.5,176.9 L364.0,174.1 L364.5,169.0 L365.0,161.6 L365.5,152.5 L366.0,143.0 L366.5,134.5 L367.0,128.5 L367.5,126.1 L368.0,127.8 L368.5,133.2 L369.0,141.3 L369.5,150.7 L370.0,160.0 L370.5,167.8 L371.0,173.4 L371.5,175.1 L372.0,175.6 L372.5,176.1 L373.0,176.4 L373.5,176.6 L374.0,176.6 L374.5,176.1 L375.0,175.1 L375.5,174.8 L376.0,175.6 L376.5,176.5 L377.0,176.8 L377.5,176.8 L378.0,176.8 L378.5,176.8 L379.0,176.7 L379.5,176.8 L380.0,177.0 L380.5,174.1 L381.0,168.1 L381.5,158.6 L382.0,146.5 L382.5,133.1 L383.0,120.5 L383.5,110.9 L384.0,105.9 L384.5,106.5 L385.0,112.5 L385.5,122.8 L386.0,135.7 L386.5,149.0 L387.0,160.7 L387.5,169.5 L388.0,174.9 L388.5,176.3 L389.0,174.4 L389.5,167.9 L390.0,157.3 L390.5,143.0 L391.0,126.7 L391.5,110.8 L392.0,98.0 L392.5,90.5 L393.0,89.6 L393.5,95.5 L394.0,107.1 L394.5,122.5 L395.0,138.9 L395.5,153.9 L396.0,165.6 L396.5,173.1 L397.0,176.8 L397.5,177.1 L398.0,177.0 L398.5,176.7 L399.0,176.4 L399.5,176.2 L400.0,176.0 L400.5,175.9 L401.0,175.8 L401.5,175.7 L402.0,175.6 L402.5,175.5 L403.0,175.6 L403.5,175.6 L404.0,175.8 L404.5,176.0 L405.0,176.3 L405.5,176.6 L406.0,176.9 L406.5,177.1 L407.0,177.2 L407.5,177.2 L408.0,177.1 L408.5,177.0 L409.0,176.9 L409.5,177.0 L410.0,177.0 L410.5,177.2 L411.0,177.3 L411.5,177.4 L412.0,177.5 L412.5,177.6 L413.0,177.6 L413.5,177.6 L414.0,177.6 L414.5,177.6 L415.0,177.6 L415.5,177.6 L416.0,177.6 L416.5,177.6 L417.0,177.6 L417.5,177.5 L418.0,177.4 L418.5,177.1 L419.0,176.5 L419.5,175.8 L420.0,175.1 L420.5,174.7 L421.0,174.8 L421.5,175.3 L422.0,176.1 L422.5,176.9 L423.0,177.3 L423.5,177.5 L424.0,177.6 L424.5,177.6 L425.0,177.6 L425.5,177.6 L426.0,177.6 L426.5,177.6 L427.0,177.6 L427.5,177.6 L428.0,177.6 L428.5,177.6 L429.0,177.6 L429.5,177.6 L430.0,177.6 L430.5,177.6 L431.0,177.6 L431.5,177.6 L432.0,177.6 L432.5,177.6 L433.0,177.5 L433.5,177.3 L434.0,176.8 L434.5,176.1 L435.0,175.9 L435.5,176.2 L436.0,176.8 L436.5,177.2 L437.0,177.5 L437.5,177.6 L438.0,177.6 L438.5,177.5 L439.0,177.4 L439.5,177.0 L440.0,176.5 L440.5,176.0 L441.0,175.9 L441.5,176.2 L442.0,176.7 L442.5,177.2 L443.0,177.4 L443.5,177.6 L444.0,177.6 L444.5,177.6 L445.0,177.6 L445.5,177.6 L446.0,177.6 L446.5,177.6 L447.0,177.5 L447.5,177.4 L448.0,177.3 L448.5,177.1 L449.0,176.7 L449.5,176.2 L450.0,175.5 L450.5,175.0 L451.0,174.9 L451.5,175.2 L452.0,175.7 L452.5,175.9 L453.0,175.8 L453.5,175.5 L454.0,175.5 L454.5,175.8 L455.0,176.3 L455.5,176.9 L456.0,177.2 L456.5,177.4 L457.0,177.4 L457.5,177.1 L458.0,176.7 L458.5,176.5 L459.0,176.8 L459.5,177.2 L460.0,177.5 L460.5,177.3 L461.0,173.8 L461.5,165.5 L462.0,151.3 L462.5,131.7 L463.0,108.9 L463.5,86.2 L464.0,67.2 L464.5,55.3 L465.0,52.6 L465.5,59.6 L466.0,75.0 L466.5,96.1 L467.0,119.3 L467.5,141.0 L468.0,158.4 L468.5,169.9 L469.0,175.3 L469.5,175.9 L470.0,176.8 L470.5,177.3 L471.0,177.5 L471.5,177.6 L472.0,177.6 L472.5,177.6 L473.0,177.6 L473.5,177.6 L474.0,177.6 L474.5,177.6 L475.0,177.6 L475.5,177.6 L476.0,177.6 L476.5,177.6 L477.0,177.5 L477.5,177.3 L478.0,176.8 L478.5,176.0 L479.0,175.4 L479.5,175.5 L480.0,176.1 L480.5,176.8 L481.0,176.9 L481.5,176.4 L482.0,175.8 L482.5,175.7 L483.0,176.4 L483.5,177.2 L484.0,177.5 L484.5,177.6 L485.0,177.6 L485.5,177.6 L486.0,177.6 L486.5,177.6 L487.0,177.6 L487.5,177.6 L488.0,177.6 L488.5,177.6 L489.0,177.6 L489.5,177.6 L490.0,177.6 L490.5,177.6 L491.0,177.6 L491.5,177.5 L492.0,177.3 L492.5,177.0 L493.0,176.6 L493.5,176.2 L494.0,176.0 L494.5,176.0 L495.0,176.1 L495.5,176.1 L496.0,175.9 L496.5,175.5 L497.0,175.4 L497.5,175.7 L498.0,176.2 L498.5,176.6 L499.0,176.6 L499.5,176.2 L500.0,175.7 L500.5,175.4 L501.0,175.6 L501.5,176.1 L502.0,176.8 L502.5,177.2 L503.0,177.4 L503.5,177.5 L504.0,177.4 L504.5,177.3 L505.0,177.2 L505.5,177.1 L506.0,176.9 L506.5,176.8 L507.0,176.8 L507.5,176.8 L508.0,176.9 L508.5,177.0 L509.0,177.2 L509.5,177.3 L510.0,177.4 L510.5,177.5 L511.0,177.5 L511.5,177.6 L512.0,177.6 L512.5,177.6 L513.0,177.6 L513.5,177.6 L514.0,177.6 L514.5,177.6 L515.0,177.6 L515.5,177.6 L516.0,177.6 L516.5,177.6 L517.0,177.6 L517.5,177.5 L518.0,177.4 L518.5,177.2 L519.0,177.0 L519.5,176.7 L520.0,176.5 L520.5,176.4 L521.0,176.5 L521.5,176.6 L522.0,176.9 L522.5,177.1 L523.0,177.3 L523.5,177.2 L524.0,176.6 L524.5,175.8 L525.0,175.8 L525.5,176.6 L526.0,177.2 L526.5,177.2 L527.0,176.7 L527.5,175.7 L528.0,174.6 L528.5,174.2 L529.0,174.5 L529.5,175.2 L530.0,175.9 L530.5,176.4 L531.0,176.7 L531.5,176.9 L532.0,177.1 L532.5,177.2 L533.0,177.3 L533.5,177.4 L534.0,177.4 L534.5,177.2 L535.0,176.9 L535.5,176.5 L536.0,175.9 L536.5,175.2 L537.0,174.7 L537.5,174.6 L538.0,175.4 L538.5,176.4 L539.0,177.1 L539.5,177.4 L540.0,177.5 L540.5,177.6 L541.0,177.6 L541.5,177.6 L542.0,177.6 L542.5,177.6 L543.0,177.6 L543.5,177.5 L544.0,177.2 L544.5,176.8 L545.0,176.1 L545.5,175.4 L546.0,174.9 L546.5,174.8 L547.0,175.3 L547.5,176.1 L548.0,176.8 L548.5,177.2 L549.0,177.5 L549.5,177.6 L550.0,177.6 L550.5,177.6 L551.0,177.6 L551.5,177.6 L552.0,177.6 L552.5,177.4 L553.0,176.7 L553.5,175.6 L554.0,175.5 L554.5,176.4 L555.0,177.2 L555.5,177.3 L556.0,177.2 L556.5,177.0 L557.0,176.9 L557.5,176.7 L558.0,176.6 L558.5,176.6 L559.0,176.6 L559.5,176.5 L560.0,176.5 L560.5,176.3 L561.0,176.1 L561.5,175.8 L562.0,175.4 L562.5,175.1 L563.0,174.9 L563.5,174.9 L564.0,175.1 L564.5,175.4 L565.0,175.8 L565.5,176.1 L566.0,176.4 L566.5,176.5 L567.0,176.6 L567.5,176.5 L568.0,176.4 L568.5,176.3 L569.0,176.1 L569.5,175.8 L570.0,175.5 L570.5,175.4 L571.0,175.6 L571.5,176.0 L572.0,176.6 L572.5,177.0 L573.0,177.1 L573.5,176.7 L574.0,176.1 L574.5,175.9 L575.0,176.3 L575.5,177.0 L576.0,173.1 L576.5,163.0 L577.0,145.6 L577.5,121.5 L578.0,93.4 L578.5,65.1 L579.0,41.3 L579.5,26.2 L580.0,22.4 L580.5,30.7 L581.0,49.5 L581.5,75.6 L582.0,104.3 L582.5,131.4 L583.0,153.1 L583.5,167.7 L584.0,175.2 L584.5,176.7 L585.0,176.6 L585.5,176.5 L586.0,176.6 L586.5,176.7 L587.0,176.9 L587.5,177.2 L588.0,177.4 L588.5,177.5 L589.0,177.5 L589.5,177.5 L590.0,177.2 L590.5,176.7 L591.0,176.1 L591.5,175.9 L592.0,176.1 L592.5,176.7 L593.0,177.2 L593.5,177.5 L594.0,177.6 L594.5,177.5 L595.0,177.4 L595.5,177.1 L596.0,176.7 L596.5,176.4 L597.0,176.0 L597.5,175.7 L598.0,175.1 L598.5,174.3 L599.0,173.6 L599.5,173.4 L600.0,173.7 L600.5,174.6 L601.0,175.5 L601.5,176.2 L602.0,176.4 L602.5,176.4 L603.0,176.2 L603.5,176.0 L604.0,175.7 L604.5,175.4 L605.0,175.0 L605.5,174.7 L606.0,174.5 L606.5,174.5 L607.0,174.7 L607.5,175.1 L608.0,175.5 L608.5,172.8 L609.0,165.8 L609.5,155.5 L610.0,142.9 L610.5,129.5 L611.0,117.5 L611.5,109.0 L612.0,105.5 L612.5,107.6 L613.0,114.9 L613.5,126.2 L614.0,139.4 L614.5,152.4 L615.0,163.5 L615.5,171.3 L616.0,175.8 L616.5,175.8 L617.0,172.0 L617.5,162.8 L618.0,148.5 L618.5,130.3 L619.0,110.4 L619.5,91.8 L620.0,77.8 L620.5,70.7 L621.0,71.9 L621.5,81.1 L622.0,96.7 L622.5,116.0 L623.0,135.7 L623.5,153.0 L624.0,165.9 L624.5,173.7 L625.0,176.6 L625.5,175.7 L626.0,174.4 L626.5,173.1 L627.0,172.0 L627.5,171.8 L628.0,172.6 L628.5,173.8 L629.0,174.6 L629.5,174.9 L630.0,174.9 L630.5,174.8 L631.0,174.7 L631.5,174.5 L632.0,174.2 L632.5,173.8 L633.0,173.3 L633.5,173.0 L634.0,173.1 L634.5,173.6 L635.0,174.4 L635.5,175.1 L636.0,175.6 L636.5,175.8 L637.0,175.6 L637.5,175.0 L638.0,174.4 L638.5,174.0 L639.0,173.9 L639.5,174.1 L640.0,174.2 L640.5,174.2 L641.0,174.3 L641.5,173.8 L642.0,165.4 L642.5,151.3 L643.0,132.0 L643.5,109.6 L644.0,87.3 L644.5,68.8 L645.0,57.3 L645.5,54.9 L646.0,62.1 L646.5,77.4 L647.0,98.3 L647.5,121.1 L648.0,142.3 L648.5,159.1 L649.0,170.3 L649.5,175.4 L650.0,175.3 L650.5,175.4 L651.0,175.7 L651.5,176.2 L652.0,176.7 L652.5,176.9 L653.0,176.7 L653.5,176.2 L654.0,175.6 L654.5,175.0 L655.0,174.3 L655.5,173.8 L656.0,173.5 L656.5,173.4 L657.0,173.5 L657.5,173.6 L658.0,173.7 L658.5,174.2 L659.0,169.8 L659.5,163.1 L660.0,154.9 L660.5,146.4 L661.0,138.8 L661.5,133.6 L662.0,131.6 L662.5,133.2 L663.0,138.1 L663.5,145.4 L664.0,153.9 L664.5,162.2 L665.0,169.1 L665.5,174.0 L666.0,176.7 L666.5,177.6 L667.0,177.6 L667.5,177.5 L668.0,177.4 L668.5,177.3 L669.0,177.1 L669.5,176.8 L670.0,176.5 L670.5,176.2 L671.0,175.7 L671.5,175.3 L672.0,175.2 L672.5,175.7 L673.0,176.4 L673.5,177.0 L674.0,177.4 L674.5,177.5 L675.0,177.5 L675.5,177.6 L676.0,177.5 L676.5,177.5 L677.0,177.4 L677.5,177.3 L678.0,177.0 L678.5,176.4 L679.0,175.5 L679.5,174.9 L680.0,175.2 L680.5,175.9 L681.0,176.3 L681.5,176.3 L682.0,176.2 L682.5,176.0 L683.0,175.9 L683.5,176.0 L684.0,173.2 L684.5,163.7 L685.0,147.6 L685.5,125.6 L686.0,100.2 L686.5,74.9 L687.0,54.0 L688,181.9 Z"/>
</defs>
<g clip-path="url(#c1)" stroke="none">
<use href="#p1A" fill="#4cc24c" fill-opacity="0.13"/>
<use href="#p1C" fill="#4a66cc" fill-opacity="0.13"/>
<use href="#p1T" fill="#ee4b4b" fill-opacity="0.13"/>
<use href="#p1G" fill="#1a1a1a" fill-opacity="0.14"/>
</g>
<rect x="205.6" y="18.1" width="165.3" height="159.2" fill="#e9df22" fill-opacity="0.92"/>
<rect x="370.9" y="18.1" width="26.3" height="159.2" fill="#b8cdea" fill-opacity="0.92"/>
<g clip-path="url(#c1)" fill="none" stroke-width="0.95" stroke-linejoin="round">
<use href="#p1A" stroke="#4cc24c"/>
<use href="#p1C" stroke="#4a66cc"/>
<use href="#p1T" stroke="#ee4b4b"/>
<use href="#p1G" stroke="#111111"/>
</g>
<g transform="scale(0.76 1)">
<text x="-2.4" y="26.3" fill="#55cc44" stroke="#55cc44">A</text>
<text x="9.7" y="26.3" fill="#5570d8" stroke="#5570d8">C</text>
<text x="19.1" y="26.3" fill="#55cc44" stroke="#55cc44">A</text>
<text x="29.7" y="26.3" fill="#55cc44" stroke="#55cc44">A</text>
<text x="41.0" y="26.3" fill="#222222" stroke="#222222">G</text>
<text x="52.7" y="26.3" fill="#55cc44" stroke="#55cc44">A</text>
<text x="63.7" y="26.3" fill="#222222" stroke="#222222">G</text>
<text x="74.7" y="26.3" fill="#5570d8" stroke="#5570d8">C</text>
<text x="86.0" y="26.3" fill="#f05050" stroke="#f05050">T</text>
<text x="97.0" y="26.3" fill="#f05050" stroke="#f05050">T</text>
<text x="107.9" y="26.3" fill="#222222" stroke="#222222">G</text>
<text x="119.2" y="26.3" fill="#55cc44" stroke="#55cc44">A</text>
<text x="129.1" y="26.3" fill="#5570d8" stroke="#5570d8">C</text>
<text x="140.4" y="26.3" fill="#f05050" stroke="#f05050">T</text>
<text x="151.0" y="26.3" fill="#5570d8" stroke="#5570d8">C</text>
<text x="160.4" y="26.3" fill="#55cc44" stroke="#55cc44">A</text>
<text x="170.2" y="26.3" fill="#55cc44" stroke="#55cc44">A</text>
<text x="181.2" y="26.3" fill="#5570d8" stroke="#5570d8">C</text>
<text x="190.7" y="26.3" fill="#55cc44" stroke="#55cc44">A</text>
<text x="202.4" y="26.3" fill="#222222" stroke="#222222">G</text>
<text x="213.7" y="26.3" fill="#5570d8" stroke="#5570d8">C</text>
<text x="225.8" y="26.3" fill="#f05050" stroke="#f05050">T</text>
<text x="236.4" y="26.3" fill="#5570d8" stroke="#5570d8">C</text>
<text x="245.8" y="26.3" fill="#55cc44" stroke="#55cc44">A</text>
<text x="256.0" y="26.3" fill="#55cc44" stroke="#55cc44">A</text>
<text x="267.3" y="26.3" fill="#5570d8" stroke="#5570d8">C</text>
<text x="276.4" y="26.3" fill="#55cc44" stroke="#55cc44">A</text>
<text x="286.6" y="26.3" fill="#55cc44" stroke="#55cc44">A</text>
<text x="297.2" y="26.3" fill="#55cc44" stroke="#55cc44">A</text>
<text x="308.9" y="26.3" fill="#222222" stroke="#222222">G</text>
<text x="319.9" y="26.3" fill="#222222" stroke="#222222">G</text>
<text x="331.6" y="26.3" fill="#55cc44" stroke="#55cc44">A</text>
<text x="341.0" y="26.3" fill="#f05050" stroke="#f05050">T</text>
<text x="352.7" y="26.3" fill="#222222" stroke="#222222">G</text>
<text x="364.1" y="26.3" fill="#55cc44" stroke="#55cc44">A</text>
<text x="374.3" y="26.3" fill="#222222" stroke="#222222">G</text>
<text x="386.4" y="26.3" fill="#55cc44" stroke="#55cc44">A</text>
<text x="395.8" y="26.3" fill="#f05050" stroke="#f05050">T</text>
<text x="407.1" y="26.3" fill="#222222" stroke="#222222">G</text>
<text x="418.9" y="26.3" fill="#222222" stroke="#222222">G</text>
<text x="429.8" y="26.3" fill="#222222" stroke="#222222">G</text>
<text x="440.8" y="26.3" fill="#f05050" stroke="#f05050">T</text>
<text x="451.3" y="26.3" fill="#222222" stroke="#222222">G</text>
<text x="461.9" y="26.3" fill="#5570d8" stroke="#5570d8">C</text>
<text x="472.1" y="26.3" fill="#55cc44" stroke="#55cc44">A</text>
<text x="483.1" y="26.3" fill="#222222" stroke="#222222">G</text>
<text x="494.8" y="26.3" fill="#55cc44" stroke="#55cc44">A</text>
<text x="505.0" y="26.3" fill="#222222" stroke="#222222">G</text>
<text x="516.3" y="26.3" fill="#222222" stroke="#222222">G</text>
<text x="529.2" y="26.3" fill="#55cc44" stroke="#55cc44">A</text>
<text x="538.6" y="26.3" fill="#55cc44" stroke="#55cc44">A</text>
<text x="547.7" y="26.3" fill="#5570d8" stroke="#5570d8">C</text>
<text x="559.4" y="26.3" fill="#f05050" stroke="#f05050">T</text>
<text x="568.9" y="26.3" fill="#55cc44" stroke="#55cc44">A</text>
<text x="579.1" y="26.3" fill="#5570d8" stroke="#5570d8">C</text>
<text x="589.6" y="26.3" fill="#55cc44" stroke="#55cc44">A</text>
<text x="600.6" y="26.3" fill="#f05050" stroke="#f05050">T</text>
<text x="611.2" y="26.3" fill="#222222" stroke="#222222">G</text>
<text x="623.6" y="26.3" fill="#55cc44" stroke="#55cc44">A</text>
<text x="633.8" y="26.3" fill="#f05050" stroke="#f05050">T</text>
<text x="645.6" y="26.3" fill="#5570d8" stroke="#5570d8">C</text>
<text x="656.5" y="26.3" fill="#f05050" stroke="#f05050">T</text>
<text x="666.3" y="26.3" fill="#55cc44" stroke="#55cc44">A</text>
<text x="676.4" y="26.3" fill="#f05050" stroke="#f05050">T</text>
<text x="686.6" y="26.3" fill="#55cc44" stroke="#55cc44">A</text>
<text x="697.1" y="26.3" fill="#55cc44" stroke="#55cc44">A</text>
<text x="707.7" y="26.3" fill="#f05050" stroke="#f05050">T</text>
<text x="719.4" y="26.3" fill="#f05050" stroke="#f05050">T</text>
<text x="729.6" y="26.3" fill="#55cc44" stroke="#55cc44">A</text>
<text x="739.5" y="26.3" fill="#f05050" stroke="#f05050">T</text>
<text x="750.8" y="26.3" fill="#f05050" stroke="#f05050">T</text>
<text x="762.5" y="26.3" fill="#222222" stroke="#222222">G</text>
<text x="773.5" y="26.3" fill="#f05050" stroke="#f05050">T</text>
<text x="783.3" y="26.3" fill="#55cc44" stroke="#55cc44">A</text>
<text x="793.9" y="26.3" fill="#5570d8" stroke="#5570d8">C</text>
<text x="804.8" y="26.3" fill="#222222" stroke="#222222">G</text>
<text x="816.2" y="26.3" fill="#222222" stroke="#222222">G</text>
<text x="827.9" y="26.3" fill="#55cc44" stroke="#55cc44">A</text>
<text x="838.1" y="26.3" fill="#f05050" stroke="#f05050">T</text>
<text x="848.6" y="26.3" fill="#222222" stroke="#222222">G</text>
<text x="859.6" y="26.3" fill="#5570d8" stroke="#5570d8">C</text>
<text x="870.6" y="26.3" fill="#222222" stroke="#222222">G</text>
<text x="881.9" y="26.3" fill="#55cc44" stroke="#55cc44">A</text>
<text x="892.1" y="26.3" fill="#55cc44" stroke="#55cc44">A</text>
<text x="904.6" y="26.3" fill="#222222" stroke="#222222">G</text>
</g>
<g class="tk">
<text x="22.7" y="183.1">150</text>
<text x="105.7" y="183.1">160</text>
<text x="186.7" y="183.1">170</text>
<text x="268.7" y="183.1">180</text>
<text x="350.4" y="183.1">190</text>
<text x="432.9" y="183.1">200</text>
<text x="514.4" y="183.1">210</text>
<text x="595.9" y="183.1">220</text>
<text x="677.9" y="183.1">230</text>
</g>
<clipPath id="c2"><rect x="0.8" y="217.0" width="683.4" height="160.4"/></clipPath>
<line x1="24.4" y1="228.2" x2="24.4" y2="377.6" stroke="#c8c8c8" stroke-width="0.6" stroke-dasharray="1.6 1.6"/>
<line x1="108.5" y1="228.2" x2="108.5" y2="377.6" stroke="#c8c8c8" stroke-width="0.6" stroke-dasharray="1.6 1.6"/>
<line x1="188.4" y1="228.2" x2="188.4" y2="377.6" stroke="#c8c8c8" stroke-width="0.6" stroke-dasharray="1.6 1.6"/>
<line x1="268.8" y1="228.2" x2="268.8" y2="377.6" stroke="#c8c8c8" stroke-width="0.6" stroke-dasharray="1.6 1.6"/>
<line x1="351.0" y1="228.2" x2="351.0" y2="377.6" stroke="#c8c8c8" stroke-width="0.6" stroke-dasharray="1.6 1.6"/>
<line x1="432.6" y1="228.2" x2="432.6" y2="377.6" stroke="#c8c8c8" stroke-width="0.6" stroke-dasharray="1.6 1.6"/>
<line x1="514.0" y1="228.2" x2="514.0" y2="377.6" stroke="#c8c8c8" stroke-width="0.6" stroke-dasharray="1.6 1.6"/>
<line x1="594.8" y1="228.2" x2="594.8" y2="377.6" stroke="#c8c8c8" stroke-width="0.6" stroke-dasharray="1.6 1.6"/>
<line x1="677.0" y1="228.2" x2="677.0" y2="377.6" stroke="#c8c8c8" stroke-width="0.6" stroke-dasharray="1.6 1.6"/>
<line x1="0" y1="378.0" x2="685" y2="378.0" stroke="#dcdcdc" stroke-width="0.7"/>
<line x1="0" y1="384.2" x2="685" y2="384.2" stroke="#f3f3f3" stroke-width="0.7"/>
<defs>
<path id="p2A" d="M-3,381.6 L-2.0,377.2 L-1.5,377.3 L-1.0,377.3 L-0.5,375.5 L0.0,370.9 L0.5,362.7 L1.0,351.2 L1.5,337.6 L2.0,323.8 L2.5,312.0 L3.0,304.2 L3.5,301.9 L4.0,305.5 L4.5,314.3 L5.0,326.7 L5.5,340.7 L6.0,354.0 L6.5,364.8 L7.0,372.2 L7.5,376.1 L8.0,376.9 L8.5,377.0 L9.0,377.1 L9.5,377.1 L10.0,377.2 L10.5,377.1 L11.0,376.9 L11.5,376.5 L12.0,376.2 L12.5,376.1 L13.0,376.1 L13.5,376.2 L14.0,374.2 L14.5,368.1 L15.0,358.1 L15.5,344.7 L16.0,329.5 L16.5,314.7 L17.0,302.8 L17.5,295.9 L18.0,295.2 L18.5,300.9 L19.0,311.9 L19.5,326.2 L20.0,341.5 L20.5,355.4 L21.0,365.7 L21.5,370.1 L22.0,367.9 L22.5,359.9 L23.0,348.1 L23.5,334.9 L24.0,322.2 L24.5,312.1 L25.0,306.4 L25.5,306.2 L26.0,311.5 L26.5,321.3 L27.0,333.9 L27.5,347.2 L28.0,359.1 L28.5,368.3 L29.0,374.1 L29.5,376.8 L30.0,377.1 L30.5,377.3 L31.0,377.3 L31.5,377.3 L32.0,377.3 L32.5,377.3 L33.0,377.2 L33.5,377.0 L34.0,376.8 L34.5,376.9 L35.0,377.2 L35.5,377.3 L36.0,377.3 L36.5,377.3 L37.0,377.3 L37.5,377.3 L38.0,377.3 L38.5,377.3 L39.0,376.8 L39.5,372.7 L40.0,362.9 L40.5,346.6 L41.0,324.4 L41.5,298.7 L42.0,273.3 L42.5,252.4 L43.0,239.5 L43.5,237.1 L44.0,245.6 L44.5,263.4 L45.0,287.4 L45.5,313.4 L46.0,337.5 L46.5,356.6 L47.0,369.2 L47.5,375.4 L48.0,375.3 L48.5,375.4 L49.0,375.6 L49.5,375.9 L50.0,376.3 L50.5,376.6 L51.0,376.9 L51.5,377.1 L52.0,377.2 L52.5,377.2 L53.0,377.3 L53.5,377.2 L54.0,377.2 L54.5,377.0 L55.0,376.8 L55.5,376.6 L56.0,376.3 L56.5,376.0 L57.0,375.8 L57.5,375.8 L58.0,375.9 L58.5,376.1 L59.0,376.3 L59.5,376.4 L60.0,376.4 L60.5,376.3 L61.0,376.3 L61.5,376.2 L62.0,376.2 L62.5,376.4 L63.0,376.5 L63.5,376.8 L64.0,376.9 L64.5,377.1 L65.0,377.2 L65.5,377.2 L66.0,377.1 L66.5,376.7 L67.0,376.2 L67.5,376.0 L68.0,376.1 L68.5,376.3 L69.0,376.4 L69.5,376.3 L70.0,376.1 L70.5,375.8 L71.0,375.6 L71.5,375.8 L72.0,376.2 L72.5,376.5 L73.0,376.5 L73.5,376.4 L74.0,376.5 L74.5,376.6 L75.0,376.5 L75.5,376.2 L76.0,376.0 L76.5,376.1 L77.0,376.5 L77.5,376.9 L78.0,377.1 L78.5,377.2 L79.0,377.0 L79.5,376.8 L80.0,376.4 L80.5,376.0 L81.0,376.1 L81.5,376.6 L82.0,377.0 L82.5,377.2 L83.0,377.3 L83.5,377.3 L84.0,377.3 L84.5,377.2 L85.0,377.1 L85.5,376.6 L86.0,375.8 L86.5,375.1 L87.0,375.1 L87.5,375.1 L88.0,375.0 L88.5,374.9 L89.0,375.0 L89.5,373.7 L90.0,366.3 L90.5,354.2 L91.0,337.9 L91.5,319.3 L92.0,301.2 L92.5,286.4 L93.0,277.7 L93.5,276.5 L94.0,283.2 L94.5,296.4 L95.0,313.9 L95.5,332.7 L96.0,349.9 L96.5,363.3 L97.0,372.0 L97.5,376.3 L98.0,377.1 L98.5,377.0 L99.0,376.9 L99.5,376.8 L100.0,376.7 L100.5,376.5 L101.0,376.4 L101.5,376.4 L102.0,376.4 L102.5,376.4 L103.0,376.5 L103.5,376.5 L104.0,376.6 L104.5,376.6 L105.0,376.7 L105.5,376.8 L106.0,376.9 L106.5,377.0 L107.0,377.0 L107.5,377.0 L108.0,377.0 L108.5,376.8 L109.0,376.6 L109.5,376.2 L110.0,375.8 L110.5,375.4 L111.0,375.1 L111.5,375.0 L112.0,375.1 L112.5,375.4 L113.0,375.7 L113.5,376.0 L114.0,376.2 L114.5,376.2 L115.0,376.0 L115.5,375.5 L116.0,375.0 L116.5,374.7 L117.0,374.9 L117.5,375.4 L118.0,375.9 L118.5,376.3 L119.0,376.6 L119.5,376.8 L120.0,376.8 L120.5,374.4 L121.0,368.3 L121.5,358.1 L122.0,344.4 L122.5,328.8 L123.0,313.4 L123.5,300.9 L124.0,293.3 L124.5,292.2 L125.0,297.7 L125.5,308.8 L126.0,323.5 L126.5,339.3 L127.0,353.9 L127.5,364.8 L128.0,370.2 L128.5,369.3 L129.0,362.8 L129.5,352.8 L130.0,341.4 L130.5,330.3 L131.0,321.4 L131.5,316.3 L132.0,315.8 L132.5,320.1 L133.0,328.3 L133.5,339.1 L134.0,350.6 L134.5,361.0 L135.0,369.2 L135.5,374.4 L136.0,376.9 L136.5,377.2 L137.0,377.2 L137.5,377.0 L138.0,376.7 L138.5,376.4 L139.0,376.4 L139.5,376.7 L140.0,377.0 L140.5,377.2 L141.0,377.3 L141.5,377.3 L142.0,377.3 L142.5,377.3 L143.0,376.9 L143.5,373.9 L144.0,367.2 L144.5,356.1 L145.0,341.3 L145.5,324.5 L146.0,308.2 L146.5,295.1 L147.0,287.4 L147.5,286.6 L148.0,292.9 L148.5,305.0 L149.0,320.8 L149.5,337.7 L150.0,353.1 L150.5,365.1 L151.0,372.8 L151.5,376.5 L152.0,376.6 L152.5,376.6 L153.0,376.7 L153.5,376.7 L154.0,376.6 L154.5,376.5 L155.0,376.5 L155.5,376.6 L156.0,376.8 L156.5,377.0 L157.0,377.2 L157.5,377.2 L158.0,377.3 L158.5,377.3 L159.0,377.3 L159.5,377.3 L160.0,377.3 L160.5,377.3 L161.0,377.3 L161.5,377.3 L162.0,377.3 L162.5,377.3 L163.0,377.3 L163.5,377.3 L164.0,377.3 L164.5,377.3 L165.0,377.3 L165.5,377.3 L166.0,377.2 L166.5,377.0 L167.0,376.8 L167.5,376.4 L168.0,376.0 L168.5,375.6 L169.0,375.2 L169.5,375.0 L170.0,374.8 L170.5,374.9 L171.0,375.1 L171.5,375.5 L172.0,375.9 L172.5,376.1 L173.0,375.9 L173.5,375.5 L174.0,375.5 L174.5,375.9 L175.0,376.2 L175.5,376.5 L176.0,376.7 L176.5,376.8 L177.0,376.8 L177.5,376.8 L178.0,376.7 L178.5,376.7 L179.0,376.8 L179.5,376.8 L180.0,376.6 L180.5,376.3 L181.0,376.2 L181.5,376.4 L182.0,376.7 L182.5,376.9 L183.0,377.1 L183.5,377.2 L184.0,377.2 L184.5,376.3 L185.0,372.0 L185.5,363.4 L186.0,350.3 L186.5,333.8 L187.0,315.8 L187.5,299.2 L188.0,286.8 L188.5,280.7 L189.0,282.2 L189.5,290.9 L190.0,305.2 L190.5,322.7 L191.0,340.4 L191.5,355.8 L192.0,366.9 L192.5,372.0 L193.0,370.6 L193.5,363.7 L194.0,353.4 L194.5,341.2 L195.0,329.0 L195.5,318.8 L196.0,312.2 L196.5,310.6 L197.0,314.1 L197.5,322.2 L198.0,333.4 L198.5,345.8 L199.0,357.5 L199.5,366.9 L200.0,373.2 L200.5,375.8 L201.0,375.8 L201.5,376.0 L202.0,376.2 L202.5,376.2 L203.0,376.2 L203.5,376.1 L204.0,376.1 L204.5,376.1 L205.0,376.2 L205.5,376.2 L206.0,376.2 L206.5,376.2 L207.0,376.1 L207.5,376.1 L208.0,376.1 L208.5,372.9 L209.0,365.5 L209.5,353.8 L210.0,338.8 L210.5,322.2 L211.0,306.7 L211.5,294.8 L212.0,288.7 L212.5,289.4 L213.0,296.8 L213.5,309.6 L214.0,325.5 L214.5,341.9 L215.0,356.4 L215.5,367.0 L216.0,371.5 L216.5,368.9 L217.0,359.8 L217.5,346.0 L218.0,329.6 L218.5,312.8 L219.0,298.5 L219.5,289.0 L220.0,286.1 L220.5,290.3 L221.0,300.9 L221.5,315.9 L222.0,332.7 L222.5,348.8 L223.0,362.0 L223.5,370.7 L224.0,373.5 L224.5,369.7 L225.0,360.1 L225.5,346.1 L226.0,329.2 L226.5,311.7 L227.0,296.6 L227.5,286.2 L228.0,282.6 L228.5,286.4 L229.0,296.9 L229.5,312.2 L230.0,329.6 L230.5,346.5 L231.0,360.4 L231.5,370.1 L232.0,375.4 L232.5,376.8 L233.0,376.4 L233.5,376.0 L234.0,375.5 L234.5,375.1 L235.0,374.8 L235.5,374.7 L236.0,374.8 L236.5,375.2 L237.0,375.7 L237.5,376.3 L238.0,376.7 L238.5,377.0 L239.0,377.2 L239.5,377.3 L240.0,377.3 L240.5,377.3 L241.0,377.3 L241.5,377.3 L242.0,377.3 L242.5,377.3 L243.0,377.3 L243.5,377.3 L244.0,377.3 L244.5,377.3 L245.0,377.3 L245.5,377.2 L246.0,377.1 L246.5,377.0 L247.0,376.9 L247.5,376.7 L248.0,376.4 L248.5,376.2 L249.0,376.1 L249.5,375.9 L250.0,373.1 L250.5,364.6 L251.0,350.4 L251.5,331.2 L252.0,309.3 L252.5,287.7 L253.0,270.1 L253.5,259.5 L254.0,257.9 L254.5,265.5 L255.0,281.0 L255.5,301.6 L256.0,323.8 L256.5,344.2 L257.0,360.3 L257.5,370.8 L258.0,375.4 L258.5,375.0 L259.0,374.5 L259.5,374.4 L260.0,374.7 L260.5,375.3 L261.0,375.7 L261.5,375.9 L262.0,376.2 L262.5,376.4 L263.0,376.7 L263.5,376.9 L264.0,377.0 L264.5,377.1 L265.0,376.9 L265.5,376.6 L266.0,376.5 L266.5,376.7 L267.0,376.6 L267.5,376.2 L268.0,375.5 L268.5,374.8 L269.0,374.1 L269.5,373.7 L270.0,373.5 L270.5,373.9 L271.0,374.5 L271.5,375.2 L272.0,375.6 L272.5,375.9 L273.0,376.0 L273.5,376.0 L274.0,375.9 L274.5,371.1 L275.0,360.0 L275.5,342.4 L276.0,319.5 L276.5,293.9 L277.0,269.5 L277.5,250.4 L278.0,240.0 L278.5,240.1 L279.0,250.8 L279.5,270.1 L280.0,294.5 L280.5,320.1 L281.0,343.0 L281.5,360.4 L282.0,371.3 L282.5,376.3 L283.0,376.1 L283.5,375.8 L284.0,375.7 L284.5,375.9 L285.0,376.3 L285.5,376.4 L286.0,376.2 L286.5,376.0 L287.0,375.9 L287.5,376.1 L288.0,376.5 L288.5,376.7 L289.0,376.7 L289.5,376.5 L290.0,376.4 L290.5,376.6 L291.0,376.1 L291.5,370.9 L292.0,360.2 L292.5,343.7 L293.0,322.6 L293.5,299.5 L294.0,277.9 L294.5,261.5 L295.0,253.2 L295.5,254.4 L296.0,265.1 L296.5,283.2 L297.0,305.5 L297.5,328.4 L298.0,348.5 L298.5,363.5 L299.0,372.7 L299.5,376.6 L300.0,376.6 L300.5,376.6 L301.0,376.6 L301.5,376.5 L302.0,376.1 L302.5,375.6 L303.0,375.5 L303.5,375.9 L304.0,376.2 L304.5,376.5 L305.0,376.6 L305.5,376.8 L306.0,377.0 L306.5,377.1 L307.0,377.2 L307.5,377.3 L308.0,377.3 L308.5,377.3 L309.0,377.3 L309.5,377.3 L310.0,377.2 L310.5,377.2 L311.0,377.0 L311.5,376.8 L312.0,376.4 L312.5,376.0 L313.0,375.6 L313.5,375.3 L314.0,375.0 L314.5,374.9 L315.0,375.0 L315.5,375.2 L316.0,375.5 L316.5,375.9 L317.0,376.3 L317.5,376.5 L318.0,376.6 L318.5,376.5 L319.0,376.3 L319.5,376.2 L320.0,376.1 L320.5,376.1 L321.0,376.3 L321.5,376.5 L322.0,376.7 L322.5,376.9 L323.0,377.0 L323.5,377.0 L324.0,376.7 L324.5,376.3 L325.0,376.0 L325.5,376.1 L326.0,376.4 L326.5,376.7 L327.0,377.0 L327.5,377.0 L328.0,376.9 L328.5,376.8 L329.0,376.7 L329.5,376.7 L330.0,376.7 L330.5,376.8 L331.0,376.9 L331.5,376.8 L332.0,376.5 L332.5,375.9 L333.0,375.5 L333.5,375.5 L334.0,375.8 L334.5,376.2 L335.0,376.3 L335.5,376.3 L336.0,376.3 L336.5,376.4 L337.0,376.6 L337.5,376.8 L338.0,377.0 L338.5,377.1 L339.0,377.2 L339.5,377.3 L340.0,377.3 L340.5,377.3 L341.0,377.2 L341.5,377.2 L342.0,377.1 L342.5,377.0 L343.0,376.9 L343.5,376.8 L344.0,376.7 L344.5,376.6 L345.0,376.5 L345.5,376.3 L346.0,376.1 L346.5,376.1 L347.0,376.1 L347.5,376.3 L348.0,376.5 L348.5,375.0 L349.0,372.8 L349.5,369.9 L350.0,366.7 L350.5,363.5 L351.0,360.7 L351.5,358.5 L352.0,357.3 L352.5,357.2 L353.0,358.2 L353.5,360.2 L354.0,362.9 L354.5,366.0 L355.0,369.3 L355.5,372.1 L356.0,373.4 L356.5,371.8 L357.0,366.3 L357.5,357.2 L358.0,345.5 L358.5,333.1 L359.0,322.0 L359.5,314.0 L360.0,310.6 L360.5,312.3 L361.0,319.0 L361.5,329.3 L362.0,341.5 L362.5,353.7 L363.0,364.0 L363.5,371.4 L364.0,375.6 L364.5,376.6 L365.0,376.6 L365.5,375.6 L366.0,372.1 L366.5,366.4 L367.0,358.9 L367.5,350.6 L368.0,342.5 L368.5,336.1 L369.0,332.6 L369.5,332.4 L370.0,335.8 L370.5,342.0 L371.0,349.9 L371.5,358.3 L372.0,365.9 L372.5,371.7 L373.0,374.3 L373.5,371.4 L374.0,361.4 L374.5,344.3 L375.0,321.3 L375.5,295.2 L376.0,269.9 L376.5,249.4 L377.0,237.4 L377.5,236.1 L378.0,245.7 L378.5,264.5 L379.0,289.1 L379.5,315.3 L380.0,339.3 L380.5,357.9 L381.0,369.4 L381.5,374.0 L382.0,373.5 L382.5,370.8 L383.0,367.6 L383.5,364.2 L384.0,361.0 L384.5,358.5 L385.0,356.8 L385.5,356.2 L386.0,356.8 L386.5,358.5 L387.0,361.0 L387.5,364.2 L388.0,367.6 L388.5,370.8 L389.0,373.5 L389.5,374.9 L390.0,374.6 L390.5,372.7 L391.0,369.4 L391.5,365.4 L392.0,361.3 L392.5,357.5 L393.0,354.3 L393.5,352.3 L394.0,351.6 L394.5,352.3 L395.0,354.3 L395.5,357.5 L396.0,361.3 L396.5,365.4 L397.0,369.4 L397.5,372.7 L398.0,375.0 L398.5,374.2 L399.0,367.5 L399.5,353.7 L400.0,333.1 L400.5,307.7 L401.0,280.7 L401.5,256.4 L402.0,239.1 L402.5,231.7 L403.0,235.6 L403.5,250.1 L404.0,272.7 L404.5,299.3 L405.0,325.6 L405.5,348.0 L406.0,363.5 L406.5,369.9 L407.0,367.1 L407.5,357.1 L408.0,342.7 L408.5,326.2 L409.0,310.1 L409.5,296.9 L410.0,289.1 L410.5,287.9 L411.0,293.7 L411.5,305.4 L412.0,320.8 L412.5,337.5 L413.0,352.7 L413.5,364.5 L414.0,371.8 L414.5,374.9 L415.0,375.1 L415.5,374.1 L416.0,373.0 L416.5,372.0 L417.0,371.2 L417.5,370.7 L418.0,370.6 L418.5,370.9 L419.0,371.5 L419.5,372.4 L420.0,373.4 L420.5,374.3 L421.0,374.6 L421.5,374.0 L422.0,372.5 L422.5,370.1 L423.0,367.2 L423.5,364.1 L424.0,361.4 L424.5,359.3 L425.0,358.2 L425.5,358.1 L426.0,359.0 L426.5,360.9 L427.0,363.5 L427.5,366.6 L428.0,369.6 L428.5,372.5 L429.0,374.1 L429.5,372.6 L430.0,366.6 L430.5,355.6 L431.0,340.6 L431.5,323.6 L432.0,307.0 L432.5,293.7 L433.0,286.0 L433.5,285.2 L434.0,291.6 L434.5,303.9 L435.0,320.0 L435.5,337.2 L436.0,352.8 L436.5,364.7 L437.0,371.8 L437.5,374.1 L438.0,372.9 L438.5,370.2 L439.0,367.2 L439.5,364.1 L440.0,361.4 L440.5,359.3 L441.0,358.2 L441.5,358.1 L442.0,359.0 L442.5,360.9 L443.0,363.5 L443.5,366.6 L444.0,369.6 L444.5,372.0 L445.0,372.1 L445.5,368.8 L446.0,361.6 L446.5,351.0 L447.0,338.8 L447.5,326.8 L448.0,317.1 L448.5,311.5 L449.0,310.9 L449.5,315.4 L450.0,324.3 L450.5,335.9 L451.0,348.3 L451.5,359.6 L452.0,368.3 L452.5,373.8 L453.0,376.0 L453.5,375.9 L454.0,374.7 L454.5,373.4 L455.0,372.0 L455.5,370.6 L456.0,369.6 L456.5,368.8 L457.0,368.6 L457.5,368.8 L458.0,369.6 L458.5,370.6 L459.0,372.0 L459.5,373.4 L460.0,374.7 L460.5,375.9 L461.0,376.6 L461.5,376.8 L462.0,376.2 L462.5,374.2 L463.0,371.2 L463.5,367.5 L464.0,363.2 L464.5,359.0 L465.0,355.3 L465.5,352.5 L466.0,350.9 L466.5,350.7 L467.0,352.0 L467.5,354.6 L468.0,358.2 L468.5,362.4 L469.0,366.6 L469.5,370.5 L470.0,373.7 L470.5,375.5 L471.0,373.9 L471.5,367.0 L472.0,354.3 L472.5,336.5 L473.0,315.3 L473.5,293.9 L474.0,275.7 L474.5,263.8 L475.0,260.3 L475.5,266.0 L476.0,279.7 L476.5,299.1 L477.0,320.7 L477.5,341.2 L478.0,357.4 L478.5,367.7 L479.0,372.2 L479.5,372.2 L480.0,370.1 L480.5,367.7 L481.0,365.6 L481.5,363.9 L482.0,362.9 L482.5,362.6 L483.0,363.2 L483.5,364.5 L484.0,366.4 L484.5,368.7 L485.0,371.0 L485.5,373.3 L486.0,375.1 L486.5,375.6 L487.0,375.5 L487.5,375.4 L488.0,375.3 L488.5,375.3 L489.0,375.6 L489.5,376.0 L490.0,376.4 L490.5,376.8 L491.0,377.0 L491.5,377.2 L492.0,377.2 L492.5,377.1 L493.0,376.9 L493.5,376.6 L494.0,376.1 L494.5,375.7 L495.0,374.6 L495.5,372.2 L496.0,369.3 L496.5,366.0 L497.0,362.9 L497.5,360.2 L498.0,358.2 L498.5,357.2 L499.0,357.3 L499.5,358.5 L500.0,360.7 L500.5,363.5 L501.0,366.7 L501.5,369.9 L502.0,372.8 L502.5,374.9 L503.0,375.0 L503.5,371.2 L504.0,362.6 L504.5,349.4 L505.0,333.0 L505.5,315.5 L506.0,299.7 L506.5,288.2 L507.0,283.1 L507.5,285.3 L508.0,294.5 L508.5,308.9 L509.0,326.1 L509.5,343.1 L510.0,357.1 L510.5,366.1 L511.0,369.7 L511.5,368.7 L512.0,365.1 L512.5,360.9 L513.0,357.0 L513.5,353.8 L514.0,351.7 L514.5,351.0 L515.0,351.7 L515.5,353.8 L516.0,357.0 L516.5,360.9 L517.0,365.1 L517.5,369.2 L518.0,372.3 L518.5,372.7 L519.0,368.3 L519.5,358.4 L520.0,343.5 L520.5,325.4 L521.0,306.9 L521.5,290.9 L522.0,280.2 L522.5,276.6 L523.0,280.9 L523.5,292.3 L524.0,308.7 L524.5,327.3 L525.0,345.1 L525.5,359.7 L526.0,369.0 L526.5,371.0 L527.0,365.7 L527.5,354.4 L528.0,339.4 L528.5,322.8 L529.0,307.1 L529.5,294.8 L530.0,288.3 L530.5,288.6 L531.0,295.7 L531.5,308.3 L532.0,324.2 L532.5,340.8 L533.0,355.5 L533.5,366.7 L534.0,373.4 L534.5,373.3 L535.0,372.7 L535.5,372.3 L536.0,372.3 L536.5,372.5 L537.0,371.3 L537.5,370.3 L538.0,369.6 L538.5,369.4 L539.0,369.6 L539.5,370.3 L540.0,371.3 L540.5,372.5 L541.0,373.8 L541.5,374.9 L542.0,375.3 L542.5,374.7 L543.0,373.1 L543.5,370.7 L544.0,367.6 L544.5,364.4 L545.0,361.6 L545.5,359.3 L546.0,357.9 L546.5,357.6 L547.0,358.4 L547.5,360.1 L548.0,362.7 L548.5,365.7 L549.0,368.9 L549.5,371.8 L550.0,374.2 L550.5,374.8 L551.0,371.7 L551.5,364.0 L552.0,351.7 L552.5,336.1 L553.0,319.4 L553.5,304.0 L554.0,292.6 L554.5,287.2 L555.0,288.8 L555.5,297.2 L556.0,310.7 L556.5,327.0 L557.0,343.5 L557.5,357.8 L558.0,368.2 L558.5,374.2 L559.0,376.3 L559.5,375.9 L560.0,374.8 L560.5,373.5 L561.0,372.1 L561.5,370.8 L562.0,369.7 L562.5,369.0 L563.0,368.8 L563.5,369.0 L564.0,369.7 L564.5,370.8 L565.0,372.1 L565.5,373.5 L566.0,374.8 L566.5,376.0 L567.0,375.9 L567.5,375.4 L568.0,374.9 L568.5,374.6 L569.0,374.4 L569.5,374.2 L570.0,373.9 L570.5,373.7 L571.0,374.1 L571.5,374.8 L572.0,375.5 L572.5,376.1 L573.0,376.3 L573.5,376.2 L574.0,376.0 L574.5,375.8 L575.0,375.6 L575.5,375.5 L576.0,375.5 L576.5,375.6 L577.0,375.7 L577.5,375.8 L578.0,375.7 L578.5,375.4 L579.0,374.5 L579.5,373.7 L580.0,373.9 L580.5,374.7 L581.0,375.3 L581.5,375.6 L582.0,375.8 L582.5,376.1 L583.0,376.3 L583.5,376.5 L584.0,376.7 L584.5,376.4 L585.0,375.0 L585.5,373.2 L586.0,371.1 L586.5,368.9 L587.0,366.8 L587.5,365.1 L588.0,364.0 L588.5,363.6 L589.0,364.0 L589.5,365.0 L590.0,366.7 L590.5,368.7 L591.0,370.6 L591.5,370.6 L592.0,367.1 L592.5,359.2 L593.0,347.3 L593.5,332.7 L594.0,317.7 L594.5,305.0 L595.0,296.9 L595.5,294.8 L596.0,299.2 L596.5,309.1 L597.0,323.0 L597.5,338.3 L598.0,352.7 L598.5,364.3 L599.0,372.1 L599.5,374.9 L600.0,375.1 L600.5,375.4 L601.0,375.6 L601.5,374.4 L602.0,373.1 L602.5,371.8 L603.0,370.6 L603.5,369.7 L604.0,369.2 L604.5,369.1 L605.0,369.5 L605.5,370.3 L606.0,371.5 L606.5,372.8 L607.0,374.1 L607.5,375.3 L608.0,376.4 L608.5,377.0 L609.0,377.1 L609.5,377.2 L610.0,377.2 L610.5,377.2 L611.0,377.2 L611.5,377.1 L612.0,376.9 L612.5,376.7 L613.0,376.4 L613.5,376.1 L614.0,375.9 L614.5,375.9 L615.0,376.0 L615.5,376.2 L616.0,376.5 L616.5,376.2 L617.0,374.3 L617.5,371.7 L618.0,368.5 L618.5,365.1 L619.0,361.7 L619.5,358.8 L620.0,356.7 L620.5,355.7 L621.0,355.8 L621.5,357.2 L622.0,359.5 L622.5,362.6 L623.0,366.0 L623.5,369.5 L624.0,372.5 L624.5,374.9 L625.0,375.6 L625.5,372.6 L626.0,364.0 L626.5,349.8 L627.0,330.9 L627.5,309.6 L628.0,288.8 L628.5,272.3 L629.0,262.7 L629.5,261.9 L630.0,270.0 L630.5,285.6 L631.0,305.8 L631.5,327.3 L632.0,346.8 L632.5,361.9 L633.0,371.6 L633.5,376.3 L634.0,377.3 L634.5,377.3 L635.0,377.1 L635.5,376.6 L636.0,375.8 L636.5,375.2 L637.0,375.3 L637.5,375.8 L638.0,376.2 L638.5,376.5 L639.0,376.8 L639.5,376.9 L640.0,376.8 L640.5,376.7 L641.0,376.7 L641.5,376.7 L642.0,376.8 L642.5,376.9 L643.0,377.1 L643.5,377.2 L644.0,377.2 L644.5,377.3 L645.0,377.3 L645.5,377.3 L646.0,377.2 L646.5,377.2 L647.0,377.0 L647.5,376.8 L648.0,376.4 L648.5,375.8 L649.0,375.4 L649.5,375.1 L650.0,375.0 L650.5,374.8 L651.0,374.5 L651.5,374.3 L652.0,374.3 L652.5,374.4 L653.0,374.7 L653.5,375.3 L654.0,375.9 L654.5,376.4 L655.0,376.6 L655.5,376.5 L656.0,376.1 L656.5,375.9 L657.0,376.0 L657.5,374.8 L658.0,371.9 L658.5,368.1 L659.0,363.7 L659.5,359.2 L660.0,355.0 L660.5,351.7 L661.0,349.5 L661.5,348.9 L662.0,349.8 L662.5,352.2 L663.0,355.7 L663.5,360.0 L664.0,364.6 L664.5,368.9 L665.0,372.5 L665.5,375.0 L666.0,374.7 L666.5,369.5 L667.0,358.5 L667.5,342.2 L668.0,322.1 L668.5,300.9 L669.0,281.9 L669.5,268.3 L670.0,262.6 L670.5,265.9 L671.0,277.5 L671.5,295.3 L672.0,316.3 L672.5,337.0 L673.0,354.6 L673.5,367.0 L674.0,372.7 L674.5,371.0 L675.0,362.5 L675.5,349.1 L676.0,332.4 L676.5,314.5 L677.0,298.3 L677.5,286.4 L678.0,281.1 L678.5,283.2 L679.0,292.5 L679.5,307.1 L680.0,324.6 L680.5,342.2 L681.0,357.2 L681.5,368.1 L682.0,374.5 L682.5,377.1 L683.0,377.3 L683.5,377.3 L684.0,377.3 L684.5,377.3 L685.0,377.3 L685.5,377.2 L686.0,377.1 L686.5,377.0 L687.0,376.8 L688,381.6 Z"/>
<path id="p2C" d="M-3,381.6 L-2.0,376.1 L-1.5,376.2 L-1.0,376.4 L-0.5,376.7 L0.0,376.9 L0.5,377.1 L1.0,377.2 L1.5,377.3 L2.0,377.3 L2.5,377.3 L3.0,377.3 L3.5,377.3 L4.0,377.3 L4.5,377.2 L5.0,377.1 L5.5,377.0 L6.0,376.6 L6.5,376.2 L7.0,371.9 L7.5,363.5 L8.0,350.8 L8.5,335.0 L9.0,317.9 L9.5,302.3 L10.0,290.8 L10.5,285.5 L11.0,287.3 L11.5,295.9 L12.0,309.8 L12.5,326.4 L13.0,343.2 L13.5,357.7 L14.0,368.3 L14.5,374.5 L15.0,377.1 L15.5,377.3 L16.0,377.3 L16.5,377.3 L17.0,377.3 L17.5,377.3 L18.0,377.3 L18.5,377.3 L19.0,377.3 L19.5,377.3 L20.0,377.3 L20.5,377.3 L21.0,377.3 L21.5,377.3 L22.0,377.3 L22.5,377.3 L23.0,377.3 L23.5,377.3 L24.0,377.2 L24.5,377.1 L25.0,376.7 L25.5,375.9 L26.0,374.9 L26.5,374.6 L27.0,375.0 L27.5,375.5 L28.0,375.7 L28.5,375.6 L29.0,375.7 L29.5,376.1 L30.0,376.6 L30.5,376.8 L31.0,376.9 L31.5,376.8 L32.0,376.4 L32.5,376.2 L33.0,376.4 L33.5,376.9 L34.0,377.1 L34.5,377.1 L35.0,377.0 L35.5,376.9 L36.0,376.8 L36.5,376.6 L37.0,376.4 L37.5,376.2 L38.0,375.9 L38.5,375.8 L39.0,376.1 L39.5,376.5 L40.0,376.8 L40.5,377.0 L41.0,376.9 L41.5,376.8 L42.0,376.5 L42.5,376.2 L43.0,375.9 L43.5,375.7 L44.0,375.5 L44.5,375.6 L45.0,375.8 L45.5,376.1 L46.0,376.3 L46.5,376.4 L47.0,376.4 L47.5,376.5 L48.0,376.7 L48.5,377.0 L49.0,377.2 L49.5,377.3 L50.0,377.3 L50.5,377.2 L51.0,377.1 L51.5,376.9 L52.0,376.7 L52.5,376.6 L53.0,376.7 L53.5,377.0 L54.0,377.2 L54.5,377.2 L55.0,377.2 L55.5,374.9 L56.0,368.8 L56.5,358.2 L57.0,343.3 L57.5,325.7 L58.0,307.9 L58.5,292.7 L59.0,282.7 L59.5,279.8 L60.0,284.5 L60.5,296.0 L61.0,312.1 L61.5,330.2 L62.0,347.3 L62.5,361.2 L63.0,370.7 L63.5,375.7 L64.0,377.0 L64.5,376.9 L65.0,376.8 L65.5,376.7 L66.0,376.6 L66.5,376.5 L67.0,376.4 L67.5,376.4 L68.0,376.4 L68.5,376.5 L69.0,376.6 L69.5,376.7 L70.0,376.6 L70.5,376.4 L71.0,376.2 L71.5,376.0 L72.0,375.8 L72.5,375.8 L73.0,375.9 L73.5,376.1 L74.0,376.4 L74.5,376.7 L75.0,377.0 L75.5,377.2 L76.0,377.2 L76.5,377.3 L77.0,377.3 L77.5,377.3 L78.0,377.3 L78.5,377.3 L79.0,377.3 L79.5,377.3 L80.0,377.3 L80.5,377.3 L81.0,377.3 L81.5,377.2 L82.0,377.1 L82.5,376.9 L83.0,376.6 L83.5,376.3 L84.0,376.1 L84.5,376.1 L85.0,376.3 L85.5,376.6 L86.0,376.7 L86.5,376.8 L87.0,376.8 L87.5,376.8 L88.0,376.8 L88.5,376.7 L89.0,376.7 L89.5,376.6 L90.0,376.5 L90.5,376.4 L91.0,376.3 L91.5,376.1 L92.0,375.7 L92.5,375.2 L93.0,374.9 L93.5,374.9 L94.0,375.2 L94.5,375.6 L95.0,375.8 L95.5,375.9 L96.0,376.0 L96.5,375.3 L97.0,369.8 L97.5,359.8 L98.0,345.5 L98.5,328.1 L99.0,310.2 L99.5,294.6 L100.0,283.9 L100.5,280.1 L101.0,283.8 L101.5,294.5 L102.0,310.2 L102.5,328.1 L103.0,345.4 L103.5,359.8 L104.0,369.8 L104.5,375.3 L105.0,376.3 L105.5,375.8 L106.0,375.5 L106.5,375.5 L107.0,375.6 L107.5,375.7 L108.0,375.9 L108.5,376.0 L109.0,376.1 L109.5,376.1 L110.0,376.1 L110.5,376.2 L111.0,376.2 L111.5,376.3 L112.0,376.3 L112.5,376.3 L113.0,375.9 L113.5,370.5 L114.0,359.8 L114.5,343.3 L115.0,322.4 L115.5,299.8 L116.0,278.8 L116.5,263.2 L117.0,255.5 L117.5,257.4 L118.0,268.3 L118.5,286.3 L119.0,308.3 L119.5,330.7 L120.0,350.2 L120.5,364.5 L121.0,373.1 L121.5,376.8 L122.0,377.3 L122.5,377.3 L123.0,377.3 L123.5,377.3 L124.0,377.3 L124.5,377.3 L125.0,377.3 L125.5,377.3 L126.0,377.2 L126.5,377.2 L127.0,377.1 L127.5,376.9 L128.0,376.7 L128.5,376.4 L129.0,376.1 L129.5,376.0 L130.0,375.9 L130.5,376.0 L131.0,376.2 L131.5,376.5 L132.0,376.7 L132.5,376.9 L133.0,377.1 L133.5,377.1 L134.0,377.1 L134.5,377.0 L135.0,377.0 L135.5,376.9 L136.0,373.6 L136.5,366.0 L137.0,353.4 L137.5,336.2 L138.0,316.6 L138.5,297.3 L139.0,281.5 L139.5,272.0 L140.0,270.4 L140.5,277.2 L141.0,291.0 L141.5,309.5 L142.0,329.3 L142.5,347.6 L143.0,362.1 L143.5,371.5 L144.0,376.1 L144.5,376.5 L145.0,376.4 L145.5,376.6 L146.0,376.9 L146.5,377.1 L147.0,377.2 L147.5,377.3 L148.0,377.3 L148.5,377.3 L149.0,377.3 L149.5,377.3 L150.0,377.3 L150.5,377.3 L151.0,377.3 L151.5,377.3 L152.0,377.3 L152.5,377.2 L153.0,377.2 L153.5,377.0 L154.0,376.9 L154.5,376.6 L155.0,376.2 L155.5,375.8 L156.0,375.4 L156.5,375.0 L157.0,374.7 L157.5,374.7 L158.0,374.9 L158.5,375.2 L159.0,375.6 L159.5,375.9 L160.0,376.1 L160.5,376.2 L161.0,373.9 L161.5,366.8 L162.0,355.2 L162.5,339.7 L163.0,321.9 L163.5,304.6 L164.0,290.5 L164.5,282.2 L165.0,281.1 L165.5,287.5 L166.0,300.1 L166.5,316.8 L167.0,334.7 L167.5,351.2 L168.0,364.0 L168.5,372.3 L169.0,376.4 L169.5,377.3 L170.0,377.3 L170.5,377.3 L171.0,377.2 L171.5,377.1 L172.0,377.0 L172.5,376.9 L173.0,376.8 L173.5,376.7 L174.0,376.5 L174.5,376.5 L175.0,376.5 L175.5,376.6 L176.0,376.8 L176.5,377.0 L177.0,377.2 L177.5,376.6 L178.0,372.8 L178.5,364.3 L179.0,350.8 L179.5,333.1 L180.0,313.2 L180.5,294.1 L181.0,279.0 L181.5,270.6 L182.0,270.4 L182.5,278.4 L183.0,293.2 L183.5,312.1 L184.0,332.1 L184.5,350.0 L185.0,363.8 L185.5,372.4 L186.0,376.5 L186.5,377.3 L187.0,377.3 L187.5,377.3 L188.0,377.3 L188.5,377.2 L189.0,377.2 L189.5,377.0 L190.0,376.7 L190.5,376.4 L191.0,376.2 L191.5,376.1 L192.0,376.2 L192.5,376.3 L193.0,376.5 L193.5,376.7 L194.0,376.7 L194.5,376.6 L195.0,376.4 L195.5,376.2 L196.0,376.0 L196.5,375.7 L197.0,375.5 L197.5,375.4 L198.0,375.6 L198.5,375.9 L199.0,376.1 L199.5,376.4 L200.0,376.5 L200.5,376.5 L201.0,372.7 L201.5,364.5 L202.0,351.5 L202.5,334.5 L203.0,315.7 L203.5,297.8 L204.0,283.9 L204.5,276.4 L205.0,276.6 L205.5,284.6 L206.0,298.8 L206.5,316.9 L207.0,335.7 L207.5,352.4 L208.0,365.1 L208.5,373.1 L209.0,375.5 L209.5,376.0 L210.0,376.4 L210.5,376.6 L211.0,376.8 L211.5,377.0 L212.0,377.1 L212.5,377.2 L213.0,377.2 L213.5,377.3 L214.0,377.3 L214.5,377.3 L215.0,377.3 L215.5,377.3 L216.0,377.3 L216.5,377.3 L217.0,377.3 L217.5,377.3 L218.0,377.3 L218.5,377.3 L219.0,377.3 L219.5,377.3 L220.0,377.3 L220.5,377.2 L221.0,377.2 L221.5,377.0 L222.0,376.9 L222.5,376.7 L223.0,376.4 L223.5,376.2 L224.0,375.9 L224.5,375.5 L225.0,375.2 L225.5,375.4 L226.0,375.8 L226.5,376.0 L227.0,376.1 L227.5,375.9 L228.0,375.7 L228.5,375.6 L229.0,375.5 L229.5,375.6 L230.0,375.9 L230.5,376.2 L231.0,376.4 L231.5,376.3 L232.0,376.0 L232.5,375.8 L233.0,375.7 L233.5,375.5 L234.0,375.3 L234.5,375.2 L235.0,375.2 L235.5,375.4 L236.0,375.5 L236.5,375.7 L237.0,375.8 L237.5,375.7 L238.0,375.5 L238.5,375.3 L239.0,375.1 L239.5,375.0 L240.0,375.1 L240.5,375.3 L241.0,375.6 L241.5,376.0 L242.0,376.4 L242.5,376.7 L243.0,377.0 L243.5,377.1 L244.0,377.2 L244.5,377.2 L245.0,377.1 L245.5,377.0 L246.0,376.9 L246.5,376.7 L247.0,376.5 L247.5,376.3 L248.0,376.1 L248.5,375.9 L249.0,375.5 L249.5,375.1 L250.0,374.8 L250.5,374.8 L251.0,375.2 L251.5,375.8 L252.0,376.3 L252.5,376.6 L253.0,376.8 L253.5,376.8 L254.0,376.7 L254.5,376.7 L255.0,376.8 L255.5,376.9 L256.0,377.0 L256.5,377.1 L257.0,377.0 L257.5,376.8 L258.0,376.6 L258.5,376.5 L259.0,376.5 L259.5,376.6 L260.0,376.5 L260.5,376.5 L261.0,376.8 L261.5,377.1 L262.0,377.3 L262.5,377.3 L263.0,377.3 L263.5,377.3 L264.0,377.2 L264.5,377.0 L265.0,376.7 L265.5,376.4 L266.0,376.4 L266.5,376.5 L267.0,376.7 L267.5,376.7 L268.0,376.6 L268.5,376.3 L269.0,375.9 L269.5,375.4 L270.0,375.0 L270.5,375.1 L271.0,375.4 L271.5,375.6 L272.0,375.6 L272.5,375.6 L273.0,375.6 L273.5,375.7 L274.0,375.7 L274.5,375.7 L275.0,375.6 L275.5,375.4 L276.0,375.1 L276.5,374.9 L277.0,374.8 L277.5,374.9 L278.0,375.3 L278.5,375.6 L279.0,375.9 L279.5,376.1 L280.0,376.3 L280.5,376.5 L281.0,376.8 L281.5,376.9 L282.0,377.1 L282.5,377.2 L283.0,377.2 L283.5,377.3 L284.0,377.3 L284.5,377.3 L285.0,377.3 L285.5,377.2 L286.0,377.1 L286.5,377.0 L287.0,376.8 L287.5,376.6 L288.0,376.3 L288.5,376.1 L289.0,376.0 L289.5,376.0 L290.0,376.1 L290.5,376.2 L291.0,376.3 L291.5,376.3 L292.0,376.3 L292.5,376.1 L293.0,375.9 L293.5,375.6 L294.0,375.3 L294.5,375.1 L295.0,374.9 L295.5,375.0 L296.0,375.2 L296.5,375.4 L297.0,375.5 L297.5,375.5 L298.0,375.6 L298.5,375.9 L299.0,376.2 L299.5,376.4 L300.0,376.4 L300.5,376.3 L301.0,376.3 L301.5,376.5 L302.0,376.8 L302.5,377.0 L303.0,377.0 L303.5,376.8 L304.0,376.4 L304.5,375.9 L305.0,375.5 L305.5,375.4 L306.0,375.5 L306.5,375.8 L307.0,376.1 L307.5,376.4 L308.0,376.6 L308.5,376.7 L309.0,376.7 L309.5,376.6 L310.0,376.3 L310.5,376.0 L311.0,375.5 L311.5,375.1 L312.0,375.1 L312.5,375.3 L313.0,375.7 L313.5,375.8 L314.0,375.9 L314.5,375.8 L315.0,375.7 L315.5,375.7 L316.0,375.7 L316.5,375.9 L317.0,376.1 L317.5,376.4 L318.0,376.5 L318.5,376.6 L319.0,376.7 L319.5,376.8 L320.0,376.9 L320.5,376.9 L321.0,376.8 L321.5,376.7 L322.0,376.7 L322.5,376.7 L323.0,376.9 L323.5,376.9 L324.0,376.6 L324.5,376.1 L325.0,375.6 L325.5,375.2 L326.0,375.0 L326.5,375.0 L327.0,375.2 L327.5,375.5 L328.0,376.0 L328.5,376.4 L329.0,376.8 L329.5,377.1 L330.0,377.2 L330.5,377.3 L331.0,377.3 L331.5,377.3 L332.0,377.3 L332.5,377.3 L333.0,377.3 L333.5,377.2 L334.0,377.1 L334.5,377.0 L335.0,376.9 L335.5,376.7 L336.0,376.6 L336.5,376.4 L337.0,376.2 L337.5,376.0 L338.0,375.8 L338.5,375.7 L339.0,375.7 L339.5,375.8 L340.0,375.8 L340.5,374.8 L341.0,372.9 L341.5,370.8 L342.0,368.7 L342.5,366.8 L343.0,365.3 L343.5,364.3 L344.0,364.1 L344.5,364.6 L345.0,365.8 L345.5,367.5 L346.0,369.6 L346.5,371.7 L347.0,373.7 L347.5,375.4 L348.0,375.8 L348.5,374.3 L349.0,369.0 L349.5,359.7 L350.0,347.3 L350.5,333.0 L351.0,319.0 L351.5,307.7 L352.0,300.9 L352.5,300.0 L353.0,305.0 L353.5,315.1 L354.0,328.5 L354.5,343.0 L355.0,356.2 L355.5,366.5 L356.0,373.3 L356.5,376.5 L357.0,376.6 L357.5,376.7 L358.0,376.7 L358.5,376.7 L359.0,376.5 L359.5,376.2 L360.0,375.6 L360.5,374.8 L361.0,374.0 L361.5,373.5 L362.0,373.5 L362.5,373.9 L363.0,374.6 L363.5,375.3 L364.0,375.9 L364.5,376.4 L365.0,376.7 L365.5,376.9 L366.0,377.0 L366.5,377.0 L367.0,376.9 L367.5,376.7 L368.0,376.5 L368.5,376.3 L369.0,376.2 L369.5,376.1 L370.0,376.1 L370.5,376.1 L371.0,376.3 L371.5,376.5 L372.0,376.6 L372.5,376.7 L373.0,376.6 L373.5,376.6 L374.0,376.5 L374.5,376.3 L375.0,376.2 L375.5,376.1 L376.0,376.0 L376.5,376.0 L377.0,376.1 L377.5,376.2 L378.0,376.4 L378.5,376.6 L379.0,376.8 L379.5,376.9 L380.0,376.8 L380.5,376.4 L381.0,376.3 L381.5,376.8 L382.0,377.2 L382.5,377.3 L383.0,377.3 L383.5,377.2 L384.0,377.0 L384.5,376.8 L385.0,376.5 L385.5,376.4 L386.0,376.4 L386.5,376.4 L387.0,376.3 L387.5,376.0 L388.0,375.5 L388.5,375.3 L389.0,375.5 L389.5,375.9 L390.0,376.3 L390.5,376.5 L391.0,376.5 L391.5,376.5 L392.0,376.5 L392.5,376.7 L393.0,376.9 L393.5,377.1 L394.0,377.2 L394.5,377.2 L395.0,377.2 L395.5,377.1 L396.0,376.8 L396.5,376.5 L397.0,376.4 L397.5,376.7 L398.0,377.1 L398.5,377.2 L399.0,377.3 L399.5,377.3 L400.0,377.2 L400.5,377.2 L401.0,377.1 L401.5,377.1 L402.0,377.0 L402.5,377.0 L403.0,376.9 L403.5,376.9 L404.0,376.9 L404.5,377.0 L405.0,376.3 L405.5,374.6 L406.0,372.2 L406.5,369.3 L407.0,366.0 L407.5,362.9 L408.0,360.2 L408.5,358.2 L409.0,357.2 L409.5,357.3 L410.0,358.5 L410.5,360.7 L411.0,363.5 L411.5,366.7 L412.0,369.9 L412.5,372.8 L413.0,374.8 L413.5,374.4 L414.0,369.9 L414.5,360.3 L415.0,346.3 L415.5,329.3 L416.0,311.7 L416.5,296.2 L417.0,285.6 L417.5,281.8 L418.0,285.4 L418.5,295.8 L419.0,311.1 L419.5,328.6 L420.0,345.7 L420.5,359.7 L421.0,369.2 L421.5,373.7 L422.0,374.3 L422.5,372.7 L423.0,370.7 L423.5,368.7 L424.0,366.9 L424.5,365.5 L425.0,364.7 L425.5,364.7 L426.0,365.3 L426.5,366.5 L427.0,368.3 L427.5,370.3 L428.0,372.2 L428.5,373.4 L429.0,373.4 L429.5,372.3 L430.0,370.0 L430.5,366.9 L431.0,363.5 L431.5,360.5 L432.0,358.0 L432.5,356.6 L433.0,356.2 L433.5,357.0 L434.0,358.9 L434.5,361.6 L435.0,364.9 L435.5,368.2 L436.0,371.4 L436.5,374.1 L437.0,375.4 L437.5,373.4 L438.0,366.7 L438.5,354.9 L439.0,338.9 L439.5,320.4 L440.0,302.3 L440.5,287.4 L441.0,278.5 L441.5,277.0 L442.0,283.3 L442.5,296.3 L443.0,313.5 L443.5,332.2 L444.0,349.4 L444.5,363.0 L445.0,371.7 L445.5,375.6 L446.0,375.9 L446.5,374.5 L447.0,372.7 L447.5,370.7 L448.0,368.7 L448.5,366.9 L449.0,365.5 L449.5,364.7 L450.0,364.7 L450.5,365.3 L451.0,366.5 L451.5,368.3 L452.0,370.3 L452.5,372.3 L453.0,374.2 L453.5,375.7 L454.0,376.8 L454.5,377.2 L455.0,377.0 L455.5,376.9 L456.0,376.8 L456.5,376.8 L457.0,376.7 L457.5,376.7 L458.0,376.7 L458.5,376.9 L459.0,377.0 L459.5,377.1 L460.0,377.1 L460.5,377.0 L461.0,376.9 L461.5,376.8 L462.0,376.7 L462.5,376.7 L463.0,376.7 L463.5,376.8 L464.0,376.9 L464.5,377.0 L465.0,377.1 L465.5,377.2 L466.0,377.2 L466.5,377.3 L467.0,377.3 L467.5,377.3 L468.0,377.3 L468.5,377.3 L469.0,377.3 L469.5,377.3 L470.0,377.3 L470.5,377.3 L471.0,377.3 L471.5,377.3 L472.0,377.3 L472.5,377.2 L473.0,377.0 L473.5,376.7 L474.0,376.2 L474.5,375.5 L475.0,375.0 L475.5,375.1 L476.0,375.5 L476.5,376.3 L477.0,376.9 L477.5,377.1 L478.0,376.8 L478.5,375.5 L479.0,373.5 L479.5,370.8 L480.0,367.8 L480.5,364.7 L481.0,361.9 L481.5,359.7 L482.0,358.3 L482.5,358.0 L483.0,358.8 L483.5,360.5 L484.0,363.0 L484.5,365.9 L485.0,369.0 L485.5,371.9 L486.0,374.4 L486.5,375.1 L487.0,375.2 L487.5,373.7 L488.0,366.7 L488.5,355.1 L489.0,339.6 L489.5,322.0 L490.0,305.0 L490.5,291.2 L491.0,283.2 L491.5,282.4 L492.0,288.9 L492.5,301.5 L493.0,318.1 L493.5,335.8 L494.0,351.9 L494.5,364.4 L495.0,372.2 L495.5,375.4 L496.0,375.5 L496.5,374.3 L497.0,372.8 L497.5,371.4 L498.0,370.0 L498.5,368.9 L499.0,368.3 L499.5,368.1 L500.0,368.5 L500.5,369.3 L501.0,370.5 L501.5,371.9 L502.0,373.4 L502.5,374.9 L503.0,376.0 L503.5,376.9 L504.0,377.3 L504.5,377.3 L505.0,377.3 L505.5,377.3 L506.0,377.3 L506.5,377.2 L507.0,377.1 L507.5,376.9 L508.0,376.7 L508.5,376.6 L509.0,376.5 L509.5,376.2 L510.0,375.7 L510.5,375.6 L511.0,375.7 L511.5,375.8 L512.0,375.8 L512.5,375.9 L513.0,376.2 L513.5,376.5 L514.0,376.8 L514.5,377.0 L515.0,377.1 L515.5,377.2 L516.0,377.3 L516.5,377.3 L517.0,377.3 L517.5,377.3 L518.0,377.3 L518.5,377.3 L519.0,377.3 L519.5,377.2 L520.0,376.9 L520.5,376.5 L521.0,375.8 L521.5,375.2 L522.0,374.9 L522.5,374.9 L523.0,375.3 L523.5,376.0 L524.0,376.6 L524.5,377.0 L525.0,377.2 L525.5,377.3 L526.0,377.3 L526.5,377.3 L527.0,377.3 L527.5,377.2 L528.0,377.0 L528.5,376.7 L529.0,376.4 L529.5,376.4 L530.0,376.7 L530.5,377.0 L531.0,377.0 L531.5,376.9 L532.0,376.7 L532.5,376.5 L533.0,376.3 L533.5,376.1 L534.0,376.1 L534.5,376.2 L535.0,376.4 L535.5,376.6 L536.0,376.8 L536.5,376.9 L537.0,376.9 L537.5,376.9 L538.0,376.9 L538.5,376.9 L539.0,377.0 L539.5,377.1 L540.0,377.1 L540.5,377.1 L541.0,377.0 L541.5,376.7 L542.0,376.3 L542.5,375.9 L543.0,375.7 L543.5,375.6 L544.0,375.6 L544.5,375.7 L545.0,375.7 L545.5,375.6 L546.0,375.7 L546.5,376.1 L547.0,376.5 L547.5,376.8 L548.0,377.0 L548.5,377.1 L549.0,377.2 L549.5,377.3 L550.0,377.3 L550.5,377.3 L551.0,377.3 L551.5,377.3 L552.0,377.3 L552.5,377.1 L553.0,376.9 L553.5,376.5 L554.0,376.2 L554.5,376.2 L555.0,376.3 L555.5,376.4 L556.0,376.2 L556.5,376.2 L557.0,376.3 L557.5,376.5 L558.0,376.6 L558.5,376.8 L559.0,377.0 L559.5,377.1 L560.0,377.2 L560.5,377.3 L561.0,377.2 L561.5,377.2 L562.0,377.0 L562.5,376.6 L563.0,376.1 L563.5,375.6 L564.0,375.3 L564.5,375.3 L565.0,375.4 L565.5,375.7 L566.0,376.2 L566.5,376.5 L567.0,376.9 L567.5,377.0 L568.0,377.0 L568.5,376.9 L569.0,376.8 L569.5,376.8 L570.0,376.9 L570.5,377.1 L571.0,377.2 L571.5,377.3 L572.0,377.3 L572.5,377.2 L573.0,377.2 L573.5,377.1 L574.0,376.9 L574.5,376.7 L575.0,376.5 L575.5,376.3 L576.0,376.1 L576.5,376.0 L577.0,376.0 L577.5,376.1 L578.0,376.3 L578.5,376.5 L579.0,376.7 L579.5,376.8 L580.0,376.7 L580.5,376.5 L581.0,376.4 L581.5,376.3 L582.0,376.5 L582.5,376.8 L583.0,376.9 L583.5,377.0 L584.0,376.9 L584.5,376.7 L585.0,376.4 L585.5,376.1 L586.0,376.2 L586.5,376.6 L587.0,377.0 L587.5,377.1 L588.0,377.0 L588.5,376.7 L589.0,376.5 L589.5,376.6 L590.0,376.7 L590.5,376.6 L591.0,376.3 L591.5,375.6 L592.0,373.6 L592.5,371.1 L593.0,368.2 L593.5,365.2 L594.0,362.4 L594.5,360.3 L595.0,359.0 L595.5,358.6 L596.0,359.3 L596.5,361.0 L597.0,363.4 L597.5,366.2 L598.0,369.2 L598.5,372.1 L599.0,374.1 L599.5,373.7 L600.0,369.4 L600.5,360.3 L601.0,346.9 L601.5,331.0 L602.0,314.8 L602.5,300.9 L603.0,291.8 L603.5,289.0 L604.0,293.1 L604.5,303.4 L605.0,317.9 L605.5,334.2 L606.0,349.8 L606.5,362.5 L607.0,370.9 L607.5,375.0 L608.0,375.6 L608.5,374.6 L609.0,373.1 L609.5,371.6 L610.0,370.2 L610.5,369.1 L611.0,368.3 L611.5,368.1 L612.0,368.4 L612.5,369.1 L613.0,370.3 L613.5,371.7 L614.0,373.2 L614.5,374.6 L615.0,375.8 L615.5,376.1 L616.0,376.3 L616.5,376.4 L617.0,376.4 L617.5,376.3 L618.0,376.1 L618.5,375.9 L619.0,376.0 L619.5,376.5 L620.0,376.9 L620.5,377.2 L621.0,377.2 L621.5,377.2 L622.0,377.1 L622.5,376.9 L623.0,376.7 L623.5,376.4 L624.0,376.2 L624.5,376.2 L625.0,376.3 L625.5,376.5 L626.0,376.8 L626.5,377.0 L627.0,377.2 L627.5,377.2 L628.0,377.2 L628.5,376.9 L629.0,376.5 L629.5,376.3 L630.0,376.3 L630.5,376.7 L631.0,377.0 L631.5,377.1 L632.0,377.0 L632.5,376.9 L633.0,376.8 L633.5,376.7 L634.0,376.7 L634.5,376.6 L635.0,376.5 L635.5,376.5 L636.0,376.4 L636.5,376.4 L637.0,376.4 L637.5,376.4 L638.0,376.3 L638.5,376.1 L639.0,375.9 L639.5,375.6 L640.0,375.3 L640.5,375.2 L641.0,373.9 L641.5,371.3 L642.0,368.3 L642.5,365.1 L643.0,362.2 L643.5,359.8 L644.0,358.2 L644.5,357.6 L645.0,358.1 L645.5,359.7 L646.0,362.0 L646.5,365.0 L647.0,368.2 L647.5,371.2 L648.0,373.8 L648.5,375.7 L649.0,375.4 L649.5,371.1 L650.0,361.8 L650.5,347.6 L651.0,329.7 L651.5,310.5 L652.0,293.0 L652.5,280.0 L653.0,274.0 L653.5,276.0 L654.0,285.7 L654.5,301.2 L655.0,320.0 L655.5,338.9 L656.0,355.1 L656.5,366.6 L657.0,372.9 L657.5,374.7 L658.0,373.7 L658.5,372.0 L659.0,370.3 L659.5,368.7 L660.0,367.5 L660.5,366.8 L661.0,366.6 L661.5,367.1 L662.0,368.0 L662.5,369.5 L663.0,371.1 L663.5,372.9 L664.0,374.5 L664.5,375.0 L665.0,375.3 L665.5,375.7 L666.0,376.1 L666.5,376.4 L667.0,376.5 L667.5,376.6 L668.0,376.6 L668.5,376.6 L669.0,376.6 L669.5,376.6 L670.0,376.5 L670.5,376.3 L671.0,376.0 L671.5,375.5 L672.0,374.9 L672.5,374.4 L673.0,374.1 L673.5,374.2 L674.0,374.6 L674.5,375.1 L675.0,375.7 L675.5,376.2 L676.0,376.5 L676.5,376.8 L677.0,376.8 L677.5,376.6 L678.0,376.4 L678.5,376.4 L679.0,376.7 L679.5,376.9 L680.0,376.8 L680.5,376.6 L681.0,376.2 L681.5,376.1 L682.0,376.2 L682.5,376.6 L683.0,376.9 L683.5,377.1 L684.0,377.2 L684.5,377.2 L685.0,377.0 L685.5,377.0 L686.0,377.1 L686.5,377.2 L687.0,377.3 L688,381.6 Z"/>
<path id="p2T" d="M-3,381.6 L-2.0,375.4 L-1.5,375.4 L-1.0,375.3 L-0.5,375.1 L0.0,374.5 L0.5,373.7 L1.0,373.8 L1.5,375.2 L2.0,376.3 L2.5,376.8 L3.0,377.0 L3.5,377.0 L4.0,376.9 L4.5,376.7 L5.0,376.5 L5.5,376.4 L6.0,376.4 L6.5,376.4 L7.0,376.5 L7.5,376.5 L8.0,376.5 L8.5,376.5 L9.0,376.5 L9.5,376.6 L10.0,376.7 L10.5,376.8 L11.0,377.0 L11.5,377.1 L12.0,377.2 L12.5,377.2 L13.0,377.2 L13.5,377.2 L14.0,377.0 L14.5,376.8 L15.0,376.3 L15.5,375.7 L16.0,375.0 L16.5,374.2 L17.0,373.7 L17.5,373.4 L18.0,373.6 L18.5,374.0 L19.0,374.5 L19.5,375.0 L20.0,375.4 L20.5,375.7 L21.0,375.9 L21.5,376.2 L22.0,376.4 L22.5,376.6 L23.0,376.8 L23.5,376.9 L24.0,377.1 L24.5,377.2 L25.0,377.2 L25.5,377.3 L26.0,377.2 L26.5,377.2 L27.0,377.1 L27.5,377.0 L28.0,376.8 L28.5,376.5 L29.0,376.2 L29.5,375.8 L30.0,375.5 L30.5,375.2 L31.0,374.9 L31.5,374.5 L32.0,374.1 L32.5,373.8 L33.0,373.8 L33.5,374.3 L34.0,375.1 L34.5,376.0 L35.0,376.5 L35.5,376.7 L36.0,376.5 L36.5,376.1 L37.0,375.5 L37.5,374.9 L38.0,374.3 L38.5,374.0 L39.0,373.8 L39.5,373.8 L40.0,373.9 L40.5,374.1 L41.0,374.4 L41.5,374.9 L42.0,375.4 L42.5,375.9 L43.0,376.3 L43.5,376.6 L44.0,376.8 L44.5,376.8 L45.0,376.8 L45.5,376.8 L46.0,376.8 L46.5,376.9 L47.0,377.0 L47.5,377.1 L48.0,377.2 L48.5,377.3 L49.0,377.3 L49.5,377.3 L50.0,377.3 L50.5,377.3 L51.0,377.2 L51.5,376.9 L52.0,376.3 L52.5,375.3 L53.0,374.7 L53.5,375.2 L54.0,376.1 L54.5,376.6 L55.0,376.9 L55.5,377.0 L56.0,377.2 L56.5,377.2 L57.0,377.3 L57.5,377.3 L58.0,377.3 L58.5,377.2 L59.0,377.0 L59.5,376.6 L60.0,376.0 L60.5,375.3 L61.0,374.9 L61.5,374.9 L62.0,375.3 L62.5,375.8 L63.0,376.0 L63.5,376.0 L64.0,375.6 L64.5,370.4 L65.0,360.5 L65.5,346.1 L66.0,328.5 L66.5,309.9 L67.0,293.4 L67.5,281.7 L68.0,277.0 L68.5,280.0 L69.0,290.4 L69.5,306.1 L70.0,324.5 L70.5,342.6 L71.0,357.8 L71.5,368.5 L72.0,373.1 L72.5,370.7 L73.0,361.8 L73.5,348.0 L74.0,330.9 L74.5,312.7 L75.0,296.2 L75.5,284.3 L76.0,279.1 L76.5,281.5 L77.0,291.1 L77.5,306.2 L78.0,324.1 L78.5,341.9 L79.0,357.2 L79.5,368.2 L80.0,374.5 L80.5,374.1 L81.0,374.0 L81.5,374.2 L82.0,374.5 L82.5,374.8 L83.0,374.9 L83.5,374.8 L84.0,374.6 L84.5,374.3 L85.0,374.2 L85.5,374.2 L86.0,374.4 L86.5,374.7 L87.0,375.0 L87.5,375.1 L88.0,375.3 L88.5,375.4 L89.0,375.6 L89.5,375.6 L90.0,375.5 L90.5,374.9 L91.0,373.9 L91.5,372.9 L92.0,372.6 L92.5,372.9 L93.0,373.5 L93.5,373.8 L94.0,374.2 L94.5,374.6 L95.0,375.1 L95.5,375.6 L96.0,376.2 L96.5,376.6 L97.0,376.9 L97.5,377.0 L98.0,377.1 L98.5,377.1 L99.0,376.9 L99.5,376.7 L100.0,376.5 L100.5,376.2 L101.0,375.9 L101.5,375.7 L102.0,375.5 L102.5,375.6 L103.0,375.8 L103.5,376.1 L104.0,376.4 L104.5,376.7 L105.0,375.9 L105.5,371.1 L106.0,361.6 L106.5,347.3 L107.0,329.4 L107.5,310.3 L108.0,292.9 L108.5,280.1 L109.0,274.3 L109.5,276.4 L110.0,286.2 L110.5,301.9 L111.0,320.6 L111.5,339.4 L112.0,355.6 L112.5,367.3 L113.0,373.9 L113.5,373.7 L114.0,373.9 L114.5,374.3 L115.0,375.0 L115.5,375.8 L116.0,376.4 L116.5,376.8 L117.0,377.1 L117.5,377.2 L118.0,377.3 L118.5,377.3 L119.0,377.3 L119.5,377.2 L120.0,376.9 L120.5,376.5 L121.0,376.0 L121.5,375.9 L122.0,376.3 L122.5,376.8 L123.0,377.1 L123.5,377.2 L124.0,377.1 L124.5,377.0 L125.0,376.9 L125.5,376.8 L126.0,376.7 L126.5,376.5 L127.0,376.2 L127.5,375.6 L128.0,374.8 L128.5,373.8 L129.0,373.2 L129.5,373.5 L130.0,374.5 L130.5,375.3 L131.0,376.0 L131.5,376.4 L132.0,376.7 L132.5,376.9 L133.0,377.0 L133.5,377.0 L134.0,376.7 L134.5,376.0 L135.0,375.0 L135.5,374.1 L136.0,374.3 L136.5,375.2 L137.0,376.0 L137.5,376.4 L138.0,376.4 L138.5,376.2 L139.0,375.8 L139.5,375.2 L140.0,374.6 L140.5,374.3 L141.0,374.2 L141.5,374.1 L142.0,373.9 L142.5,373.7 L143.0,373.6 L143.5,373.7 L144.0,373.9 L144.5,374.1 L145.0,374.4 L145.5,374.4 L146.0,374.1 L146.5,373.5 L147.0,372.9 L147.5,372.4 L148.0,372.4 L148.5,372.9 L149.0,373.5 L149.5,374.1 L150.0,374.6 L150.5,374.9 L151.0,375.1 L151.5,375.1 L152.0,375.2 L152.5,375.3 L153.0,375.6 L153.5,375.9 L154.0,376.3 L154.5,376.6 L155.0,376.9 L155.5,377.1 L156.0,377.2 L156.5,377.2 L157.0,377.3 L157.5,377.3 L158.0,377.3 L158.5,377.3 L159.0,377.3 L159.5,377.3 L160.0,377.3 L160.5,377.3 L161.0,377.3 L161.5,377.3 L162.0,377.3 L162.5,377.3 L163.0,377.3 L163.5,377.3 L164.0,377.3 L164.5,377.3 L165.0,377.3 L165.5,377.3 L166.0,377.3 L166.5,377.3 L167.0,377.3 L167.5,377.2 L168.0,377.1 L168.5,377.0 L169.0,376.8 L169.5,376.6 L170.0,375.2 L170.5,369.2 L171.0,358.3 L171.5,342.6 L172.0,323.5 L172.5,303.8 L173.0,286.5 L173.5,274.6 L174.0,270.3 L174.5,274.3 L175.0,285.9 L175.5,303.1 L176.0,322.7 L176.5,341.8 L177.0,357.7 L177.5,368.9 L178.0,374.5 L178.5,374.4 L179.0,374.2 L179.5,373.8 L180.0,373.4 L180.5,373.3 L181.0,373.3 L181.5,373.4 L182.0,373.3 L182.5,373.1 L183.0,373.6 L183.5,374.7 L184.0,375.8 L184.5,376.4 L185.0,376.6 L185.5,376.5 L186.0,376.5 L186.5,376.6 L187.0,376.6 L187.5,376.5 L188.0,376.3 L188.5,376.0 L189.0,375.6 L189.5,375.0 L190.0,374.5 L190.5,374.4 L191.0,374.9 L191.5,375.6 L192.0,376.3 L192.5,376.7 L193.0,376.9 L193.5,376.9 L194.0,376.7 L194.5,376.6 L195.0,376.4 L195.5,376.3 L196.0,376.4 L196.5,376.5 L197.0,376.7 L197.5,376.9 L198.0,377.0 L198.5,377.1 L199.0,377.0 L199.5,376.8 L200.0,376.2 L200.5,375.5 L201.0,374.9 L201.5,374.8 L202.0,374.9 L202.5,375.2 L203.0,375.7 L203.5,376.1 L204.0,376.4 L204.5,376.6 L205.0,376.7 L205.5,376.7 L206.0,376.8 L206.5,376.8 L207.0,376.9 L207.5,376.9 L208.0,377.0 L208.5,377.1 L209.0,377.2 L209.5,377.2 L210.0,377.2 L210.5,377.1 L211.0,376.9 L211.5,376.9 L212.0,377.1 L212.5,377.2 L213.0,377.3 L213.5,377.3 L214.0,377.3 L214.5,377.3 L215.0,377.3 L215.5,377.3 L216.0,377.3 L216.5,377.3 L217.0,377.3 L217.5,377.3 L218.0,377.3 L218.5,377.3 L219.0,377.3 L219.5,377.3 L220.0,377.3 L220.5,377.3 L221.0,377.3 L221.5,377.3 L222.0,377.3 L222.5,377.3 L223.0,377.3 L223.5,377.3 L224.0,377.3 L224.5,377.3 L225.0,377.3 L225.5,377.3 L226.0,377.2 L226.5,377.1 L227.0,376.9 L227.5,376.8 L228.0,376.7 L228.5,376.6 L229.0,376.6 L229.5,376.6 L230.0,376.5 L230.5,376.3 L231.0,375.9 L231.5,375.5 L232.0,375.3 L232.5,375.4 L233.0,375.7 L233.5,376.2 L234.0,376.5 L234.5,376.5 L235.0,376.4 L235.5,376.2 L236.0,376.0 L236.5,376.0 L237.0,376.0 L237.5,376.2 L238.0,376.5 L238.5,376.7 L239.0,376.8 L239.5,376.6 L240.0,375.9 L240.5,375.2 L241.0,375.2 L241.5,376.0 L242.0,376.8 L242.5,377.2 L243.0,377.2 L243.5,377.2 L244.0,377.0 L244.5,376.8 L245.0,376.5 L245.5,376.1 L246.0,375.4 L246.5,374.9 L247.0,374.7 L247.5,374.7 L248.0,374.5 L248.5,374.4 L249.0,374.7 L249.5,375.2 L250.0,375.5 L250.5,375.7 L251.0,375.8 L251.5,375.9 L252.0,375.8 L252.5,375.7 L253.0,375.6 L253.5,375.7 L254.0,375.9 L254.5,376.2 L255.0,376.4 L255.5,376.4 L256.0,376.0 L256.5,375.6 L257.0,375.6 L257.5,374.4 L258.0,368.5 L258.5,358.9 L259.0,346.1 L259.5,331.6 L260.0,317.5 L260.5,306.2 L261.0,299.6 L261.5,298.9 L262.0,304.3 L262.5,314.8 L263.0,328.5 L263.5,343.2 L264.0,356.5 L264.5,366.8 L265.0,373.5 L265.5,375.7 L266.0,376.0 L266.5,376.3 L267.0,376.5 L267.5,376.6 L268.0,376.5 L268.5,376.3 L269.0,376.2 L269.5,376.1 L270.0,376.1 L270.5,376.3 L271.0,376.4 L271.5,376.5 L272.0,376.5 L272.5,376.5 L273.0,376.6 L273.5,376.7 L274.0,376.8 L274.5,376.8 L275.0,376.5 L275.5,375.9 L276.0,375.1 L276.5,374.6 L277.0,374.7 L277.5,375.3 L278.0,376.1 L278.5,376.5 L279.0,376.4 L279.5,375.8 L280.0,375.2 L280.5,375.4 L281.0,376.2 L281.5,376.9 L282.0,377.2 L282.5,377.3 L283.0,377.3 L283.5,377.3 L284.0,377.3 L284.5,377.3 L285.0,377.3 L285.5,377.2 L286.0,377.1 L286.5,377.0 L287.0,376.8 L287.5,376.5 L288.0,376.4 L288.5,376.4 L289.0,376.5 L289.5,376.7 L290.0,376.9 L290.5,377.0 L291.0,376.8 L291.5,376.3 L292.0,375.8 L292.5,376.0 L293.0,376.6 L293.5,377.1 L294.0,377.3 L294.5,377.3 L295.0,377.3 L295.5,377.3 L296.0,377.3 L296.5,377.3 L297.0,377.3 L297.5,377.2 L298.0,377.2 L298.5,377.1 L299.0,375.3 L299.5,370.1 L300.0,361.0 L300.5,348.3 L301.0,333.3 L301.5,318.1 L302.0,305.1 L302.5,296.6 L303.0,294.2 L303.5,298.2 L304.0,308.0 L304.5,321.7 L305.0,337.1 L305.5,351.8 L306.0,363.6 L306.5,371.7 L307.0,375.7 L307.5,374.6 L308.0,374.0 L308.5,374.8 L309.0,376.2 L309.5,377.0 L310.0,377.2 L310.5,377.3 L311.0,377.3 L311.5,377.3 L312.0,377.3 L312.5,377.3 L313.0,377.3 L313.5,377.3 L314.0,377.3 L314.5,377.3 L315.0,377.2 L315.5,377.0 L316.0,376.4 L316.5,375.6 L317.0,375.1 L317.5,375.1 L318.0,375.3 L318.5,375.8 L319.0,376.4 L319.5,376.8 L320.0,377.0 L320.5,377.0 L321.0,376.9 L321.5,376.6 L322.0,376.3 L322.5,376.0 L323.0,375.7 L323.5,375.6 L324.0,375.5 L324.5,375.6 L325.0,375.8 L325.5,376.1 L326.0,376.4 L326.5,376.7 L327.0,376.9 L327.5,377.1 L328.0,377.2 L328.5,377.2 L329.0,377.2 L329.5,377.1 L330.0,376.6 L330.5,375.9 L331.0,375.2 L331.5,375.1 L332.0,375.7 L332.5,375.9 L333.0,371.6 L333.5,363.5 L334.0,351.8 L334.5,337.6 L335.0,322.7 L335.5,309.5 L336.0,300.3 L336.5,296.7 L337.0,299.5 L337.5,308.0 L338.0,320.7 L338.5,335.5 L339.0,350.0 L339.5,362.1 L340.0,370.7 L340.5,375.5 L341.0,377.1 L341.5,376.9 L342.0,376.6 L342.5,376.3 L343.0,376.1 L343.5,376.0 L344.0,376.1 L344.5,376.2 L345.0,376.3 L345.5,376.1 L346.0,375.4 L346.5,374.4 L347.0,373.6 L347.5,373.3 L348.0,373.4 L348.5,373.3 L349.0,373.0 L349.5,372.7 L350.0,372.7 L350.5,373.2 L351.0,374.1 L351.5,375.2 L352.0,376.1 L352.5,376.6 L353.0,376.6 L353.5,376.5 L354.0,376.2 L354.5,376.0 L355.0,375.8 L355.5,375.6 L356.0,375.5 L356.5,375.5 L357.0,375.5 L357.5,375.6 L358.0,375.6 L358.5,375.4 L359.0,375.1 L359.5,374.6 L360.0,374.2 L360.5,374.1 L361.0,374.4 L361.5,375.0 L362.0,375.7 L362.5,376.4 L363.0,376.8 L363.5,377.1 L364.0,377.2 L364.5,377.2 L365.0,377.1 L365.5,376.8 L366.0,376.4 L366.5,376.0 L367.0,375.6 L367.5,375.3 L368.0,375.0 L368.5,374.7 L369.0,374.2 L369.5,373.5 L370.0,372.9 L370.5,372.4 L371.0,372.2 L371.5,372.7 L372.0,373.9 L372.5,375.2 L373.0,376.2 L373.5,376.8 L374.0,377.1 L374.5,377.2 L375.0,377.3 L375.5,377.3 L376.0,377.2 L376.5,377.0 L377.0,376.7 L377.5,376.4 L378.0,376.3 L378.5,376.4 L379.0,376.5 L379.5,376.7 L380.0,377.0 L380.5,377.1 L381.0,377.1 L381.5,377.0 L382.0,376.8 L382.5,376.4 L383.0,375.9 L383.5,375.5 L384.0,375.3 L384.5,375.5 L385.0,375.8 L385.5,376.2 L386.0,376.5 L386.5,376.6 L387.0,376.6 L387.5,376.5 L388.0,376.5 L388.5,376.4 L389.0,376.3 L389.5,376.2 L390.0,376.0 L390.5,375.6 L391.0,375.1 L391.5,374.5 L392.0,373.9 L392.5,373.2 L393.0,373.1 L393.5,374.2 L394.0,375.5 L394.5,376.4 L395.0,376.9 L395.5,377.1 L396.0,377.2 L396.5,377.1 L397.0,376.8 L397.5,376.3 L398.0,375.4 L398.5,374.5 L399.0,373.8 L399.5,373.5 L400.0,373.5 L400.5,373.7 L401.0,373.9 L401.5,374.0 L402.0,374.3 L402.5,374.7 L403.0,375.2 L403.5,375.7 L404.0,376.2 L404.5,376.6 L405.0,376.9 L405.5,377.1 L406.0,377.2 L406.5,377.2 L407.0,377.1 L407.5,376.9 L408.0,376.6 L408.5,376.5 L409.0,376.5 L409.5,376.6 L410.0,376.9 L410.5,377.1 L411.0,377.1 L411.5,377.0 L412.0,376.7 L412.5,376.2 L413.0,375.6 L413.5,374.4 L414.0,371.9 L414.5,369.0 L415.0,365.9 L415.5,363.0 L416.0,360.5 L416.5,358.8 L417.0,358.0 L417.5,358.3 L418.0,359.7 L418.5,361.9 L419.0,364.7 L419.5,367.8 L420.0,370.8 L420.5,373.5 L421.0,375.5 L421.5,375.8 L422.0,375.7 L422.5,372.3 L423.0,364.4 L423.5,352.6 L424.0,337.7 L424.5,321.8 L425.0,307.2 L425.5,296.4 L426.0,291.5 L426.5,293.2 L427.0,301.2 L427.5,314.2 L428.0,329.8 L428.5,345.5 L429.0,359.0 L429.5,368.7 L430.0,374.0 L430.5,375.5 L431.0,374.7 L431.5,373.2 L432.0,371.6 L432.5,370.1 L433.0,368.9 L433.5,368.0 L434.0,367.6 L434.5,367.8 L435.0,368.5 L435.5,369.6 L436.0,370.9 L436.5,372.3 L437.0,373.3 L437.5,374.0 L438.0,374.3 L438.5,374.1 L439.0,373.5 L439.5,372.8 L440.0,372.3 L440.5,372.0 L441.0,372.1 L441.5,372.4 L442.0,373.0 L442.5,373.7 L443.0,374.6 L443.5,375.2 L444.0,375.2 L444.5,375.4 L445.0,375.7 L445.5,375.8 L446.0,374.0 L446.5,371.5 L447.0,368.6 L447.5,365.5 L448.0,362.7 L448.5,360.3 L449.0,358.8 L449.5,358.3 L450.0,358.8 L450.5,360.3 L451.0,362.7 L451.5,365.5 L452.0,368.6 L452.5,371.5 L453.0,373.9 L453.5,374.8 L454.0,372.1 L454.5,364.7 L455.0,352.4 L455.5,336.3 L456.0,318.6 L456.5,302.0 L457.0,289.2 L457.5,282.4 L458.0,283.1 L458.5,290.9 L459.0,304.5 L459.5,321.5 L460.0,339.1 L460.5,354.7 L461.0,366.3 L461.5,373.0 L462.0,375.5 L462.5,375.0 L463.0,373.5 L463.5,371.7 L464.0,370.0 L464.5,368.5 L465.0,367.4 L465.5,366.7 L466.0,366.6 L466.5,367.2 L467.0,368.2 L467.5,369.7 L468.0,371.4 L468.5,373.1 L469.0,374.7 L469.5,375.6 L470.0,375.6 L470.5,374.6 L471.0,372.8 L471.5,370.6 L472.0,368.2 L472.5,366.0 L473.0,364.2 L473.5,363.0 L474.0,362.6 L474.5,363.0 L475.0,364.2 L475.5,366.0 L476.0,368.2 L476.5,370.6 L477.0,372.8 L477.5,374.8 L478.0,376.1 L478.5,376.2 L479.0,373.6 L479.5,367.3 L480.0,357.4 L480.5,344.7 L481.0,330.9 L481.5,317.9 L482.0,308.0 L482.5,302.9 L483.0,303.6 L483.5,309.9 L484.0,320.7 L484.5,334.1 L485.0,347.9 L485.5,360.0 L486.0,368.8 L486.5,373.3 L487.0,373.7 L487.5,371.3 L488.0,367.6 L488.5,363.5 L489.0,359.3 L489.5,355.6 L490.0,352.8 L490.5,351.3 L491.0,351.1 L491.5,352.4 L492.0,355.0 L492.5,358.5 L493.0,362.6 L493.5,366.8 L494.0,370.6 L494.5,373.2 L495.0,372.9 L495.5,373.5 L496.0,373.1 L496.5,366.5 L497.0,356.4 L497.5,343.8 L498.0,330.2 L498.5,317.7 L499.0,308.4 L499.5,304.1 L500.0,305.5 L500.5,312.2 L501.0,323.3 L501.5,336.5 L502.0,349.5 L502.5,359.8 L503.0,366.3 L503.5,368.4 L504.0,367.1 L504.5,363.9 L505.0,360.4 L505.5,357.5 L506.0,355.5 L506.5,354.6 L507.0,355.0 L507.5,356.6 L508.0,359.2 L508.5,362.5 L509.0,366.1 L509.5,369.2 L510.0,370.2 L510.5,367.5 L511.0,360.4 L511.5,349.4 L512.0,336.1 L512.5,322.7 L513.0,311.6 L513.5,304.8 L514.0,303.5 L514.5,308.0 L515.0,317.3 L515.5,330.0 L516.0,343.7 L516.5,356.4 L517.0,366.5 L517.5,372.9 L518.0,373.5 L518.5,374.4 L519.0,375.1 L519.5,374.0 L520.0,372.3 L520.5,370.7 L521.0,369.2 L521.5,368.0 L522.0,367.3 L522.5,367.1 L523.0,367.5 L523.5,368.4 L524.0,369.8 L524.5,371.3 L525.0,373.0 L525.5,374.3 L526.0,374.8 L526.5,374.3 L527.0,372.8 L527.5,370.5 L528.0,367.7 L528.5,365.0 L529.0,362.7 L529.5,361.0 L530.0,360.2 L530.5,360.3 L531.0,361.3 L531.5,363.1 L532.0,365.6 L532.5,368.3 L533.0,371.0 L533.5,373.5 L534.0,374.6 L534.5,372.6 L535.0,366.1 L535.5,354.8 L536.0,339.5 L536.5,322.4 L537.0,306.0 L537.5,293.0 L538.0,285.7 L538.5,285.4 L539.0,292.2 L539.5,304.9 L540.0,321.2 L540.5,338.3 L541.0,353.7 L541.5,365.6 L542.0,373.1 L542.5,375.9 L543.0,375.3 L543.5,371.6 L544.0,362.3 L544.5,347.9 L545.0,329.6 L545.5,309.7 L546.0,291.1 L546.5,277.2 L547.0,270.2 L547.5,271.6 L548.0,281.0 L548.5,296.7 L549.0,316.0 L549.5,335.7 L550.0,352.7 L550.5,364.5 L551.0,370.2 L551.5,370.5 L552.0,367.4 L552.5,363.2 L553.0,359.0 L553.5,355.3 L554.0,352.5 L554.5,350.9 L555.0,350.7 L555.5,352.0 L556.0,354.6 L556.5,358.2 L557.0,362.4 L557.5,366.6 L558.0,370.0 L558.5,370.5 L559.0,366.2 L559.5,356.3 L560.0,341.3 L560.5,323.4 L561.0,305.6 L561.5,290.6 L562.0,281.3 L562.5,279.1 L563.0,284.6 L563.5,296.7 L564.0,313.3 L564.5,331.6 L565.0,348.6 L565.5,362.2 L566.0,371.3 L566.5,373.0 L567.0,372.3 L567.5,369.6 L568.0,359.2 L568.5,344.4 L569.0,326.5 L569.5,307.9 L570.0,291.7 L570.5,280.6 L571.0,276.6 L571.5,280.5 L572.0,291.5 L572.5,307.7 L573.0,326.2 L573.5,344.2 L574.0,359.1 L574.5,369.5 L575.0,373.4 L575.5,373.1 L576.0,372.9 L576.5,373.0 L577.0,370.4 L577.5,367.1 L578.0,363.8 L578.5,360.8 L579.0,358.4 L579.5,357.0 L580.0,356.6 L580.5,357.4 L581.0,359.2 L581.5,361.9 L582.0,365.1 L582.5,368.4 L583.0,371.5 L583.5,373.9 L584.0,374.3 L584.5,371.7 L585.0,365.6 L585.5,356.4 L586.0,345.5 L586.5,334.4 L587.0,324.9 L587.5,318.7 L588.0,316.8 L588.5,319.7 L589.0,326.8 L589.5,336.8 L590.0,348.0 L590.5,358.6 L591.0,367.3 L591.5,373.2 L592.0,374.0 L592.5,374.0 L593.0,374.2 L593.5,374.4 L594.0,374.6 L594.5,374.1 L595.0,373.4 L595.5,372.9 L596.0,372.6 L596.5,372.6 L597.0,372.9 L597.5,373.4 L598.0,374.1 L598.5,374.8 L599.0,375.6 L599.5,376.3 L600.0,376.9 L600.5,377.3 L601.0,377.3 L601.5,377.3 L602.0,377.3 L602.5,377.3 L603.0,377.3 L603.5,377.3 L604.0,377.3 L604.5,377.3 L605.0,377.3 L605.5,377.3 L606.0,377.3 L606.5,377.2 L607.0,377.1 L607.5,377.0 L608.0,376.8 L608.5,376.5 L609.0,376.2 L609.5,375.8 L610.0,375.3 L610.5,374.9 L611.0,374.5 L611.5,374.3 L612.0,374.2 L612.5,374.1 L613.0,374.1 L613.5,374.4 L614.0,375.0 L614.5,375.7 L615.0,376.2 L615.5,376.6 L616.0,376.8 L616.5,377.0 L617.0,377.1 L617.5,377.2 L618.0,377.1 L618.5,377.1 L619.0,376.9 L619.5,376.6 L620.0,376.1 L620.5,375.5 L621.0,374.7 L621.5,373.7 L622.0,372.7 L622.5,372.1 L623.0,371.9 L623.5,372.0 L624.0,372.5 L624.5,373.2 L625.0,374.1 L625.5,372.2 L626.0,369.8 L626.5,367.2 L627.0,364.9 L627.5,363.1 L628.0,361.9 L628.5,361.6 L629.0,362.2 L629.5,363.5 L630.0,365.5 L630.5,367.9 L631.0,370.4 L631.5,372.8 L632.0,374.8 L632.5,376.2 L633.0,375.5 L633.5,371.4 L634.0,363.0 L634.5,350.8 L635.0,335.8 L635.5,320.1 L636.0,306.2 L636.5,296.4 L637.0,292.4 L637.5,295.1 L638.0,304.0 L638.5,317.3 L639.0,332.9 L639.5,348.2 L640.0,361.0 L640.5,370.0 L641.0,374.7 L641.5,376.0 L642.0,375.3 L642.5,374.1 L643.0,372.8 L643.5,371.6 L644.0,370.6 L644.5,369.9 L645.0,369.6 L645.5,369.7 L646.0,370.3 L646.5,371.2 L647.0,372.4 L647.5,373.6 L648.0,374.9 L648.5,375.9 L649.0,376.8 L649.5,376.9 L650.0,376.9 L650.5,376.9 L651.0,376.7 L651.5,376.5 L652.0,376.2 L652.5,375.8 L653.0,375.3 L653.5,375.1 L654.0,375.3 L654.5,375.8 L655.0,376.4 L655.5,376.9 L656.0,377.1 L656.5,377.2 L657.0,377.2 L657.5,377.1 L658.0,377.0 L658.5,376.8 L659.0,376.8 L659.5,376.8 L660.0,376.9 L660.5,377.0 L661.0,377.1 L661.5,377.2 L662.0,377.3 L662.5,377.3 L663.0,377.3 L663.5,377.3 L664.0,377.3 L664.5,377.3 L665.0,377.3 L665.5,377.3 L666.0,377.3 L666.5,377.2 L667.0,377.2 L667.5,377.1 L668.0,376.9 L668.5,376.7 L669.0,376.4 L669.5,376.1 L670.0,376.0 L670.5,376.0 L671.0,376.2 L671.5,376.5 L672.0,376.7 L672.5,376.8 L673.0,376.7 L673.5,376.0 L674.0,374.9 L674.5,374.1 L675.0,373.9 L675.5,374.0 L676.0,373.5 L676.5,372.7 L677.0,372.0 L677.5,371.7 L678.0,371.6 L678.5,371.9 L679.0,372.5 L679.5,373.3 L680.0,374.2 L680.5,375.1 L681.0,376.0 L681.5,376.7 L682.0,377.1 L682.5,377.2 L683.0,377.1 L683.5,376.9 L684.0,376.5 L684.5,376.0 L685.0,375.6 L685.5,375.3 L686.0,375.3 L686.5,375.6 L687.0,376.1 L688,381.6 Z"/>
<path id="p2G" d="M-3,381.6 L-2.0,374.5 L-1.5,374.9 L-1.0,375.4 L-0.5,375.8 L0.0,375.9 L0.5,375.7 L1.0,375.3 L1.5,375.1 L2.0,375.4 L2.5,376.1 L3.0,376.8 L3.5,377.2 L4.0,377.3 L4.5,377.3 L5.0,377.3 L5.5,377.3 L6.0,377.3 L6.5,377.3 L7.0,377.3 L7.5,377.3 L8.0,377.3 L8.5,377.3 L9.0,377.3 L9.5,377.3 L10.0,377.3 L10.5,377.3 L11.0,377.2 L11.5,377.1 L12.0,377.0 L12.5,376.7 L13.0,376.3 L13.5,375.9 L14.0,375.5 L14.5,375.1 L15.0,374.6 L15.5,374.2 L16.0,373.7 L16.5,373.6 L17.0,373.7 L17.5,374.2 L18.0,374.6 L18.5,374.9 L19.0,375.0 L19.5,375.1 L20.0,375.2 L20.5,375.4 L21.0,375.8 L21.5,376.2 L22.0,376.5 L22.5,376.6 L23.0,376.2 L23.5,375.2 L24.0,375.2 L24.5,376.2 L25.0,377.0 L25.5,377.2 L26.0,377.2 L26.5,377.0 L27.0,376.6 L27.5,376.0 L28.0,375.1 L28.5,374.2 L29.0,373.6 L29.5,373.3 L30.0,373.6 L30.5,374.0 L31.0,368.5 L31.5,359.9 L32.0,349.0 L32.5,337.2 L33.0,326.1 L33.5,317.8 L34.0,313.7 L34.5,314.5 L35.0,320.1 L35.5,329.4 L36.0,340.9 L36.5,352.7 L37.0,362.9 L37.5,370.6 L38.0,375.2 L38.5,377.1 L39.0,377.0 L39.5,376.8 L40.0,376.6 L40.5,376.1 L41.0,375.5 L41.5,374.7 L42.0,374.1 L42.5,373.9 L43.0,373.7 L43.5,373.6 L44.0,374.2 L44.5,375.2 L45.0,375.6 L45.5,375.5 L46.0,375.2 L46.5,374.9 L47.0,375.4 L47.5,373.5 L48.0,367.6 L48.5,358.7 L49.0,347.7 L49.5,335.8 L50.0,325.0 L50.5,317.1 L51.0,313.5 L51.5,314.9 L52.0,321.0 L52.5,330.7 L53.0,342.3 L53.5,354.0 L54.0,364.0 L54.5,371.3 L55.0,375.3 L55.5,374.9 L56.0,374.5 L56.5,374.7 L57.0,375.3 L57.5,376.0 L58.0,376.5 L58.5,376.7 L59.0,376.7 L59.5,376.8 L60.0,376.9 L60.5,377.0 L61.0,377.0 L61.5,377.0 L62.0,376.9 L62.5,376.9 L63.0,376.9 L63.5,376.9 L64.0,377.0 L64.5,377.1 L65.0,377.1 L65.5,377.2 L66.0,377.2 L66.5,377.3 L67.0,377.3 L67.5,377.2 L68.0,377.2 L68.5,377.1 L69.0,377.0 L69.5,376.8 L70.0,376.6 L70.5,376.4 L71.0,376.2 L71.5,376.0 L72.0,375.8 L72.5,375.6 L73.0,375.4 L73.5,374.9 L74.0,374.2 L74.5,373.5 L75.0,373.7 L75.5,374.9 L76.0,376.0 L76.5,376.5 L77.0,376.4 L77.5,375.9 L78.0,375.8 L78.5,376.3 L79.0,376.9 L79.5,377.2 L80.0,376.9 L80.5,373.0 L81.0,363.1 L81.5,345.9 L82.0,321.9 L82.5,293.8 L83.0,265.4 L83.5,241.3 L84.0,225.8 L84.5,221.6 L85.0,229.6 L85.5,248.2 L86.0,274.1 L86.5,302.9 L87.0,330.1 L87.5,352.1 L88.0,367.0 L88.5,374.8 L89.0,377.1 L89.5,377.1 L90.0,377.0 L90.5,376.8 L91.0,376.4 L91.5,375.9 L92.0,375.5 L92.5,375.1 L93.0,374.7 L93.5,374.3 L94.0,373.9 L94.5,373.8 L95.0,374.2 L95.5,374.6 L96.0,374.6 L96.5,374.3 L97.0,374.0 L97.5,373.6 L98.0,373.2 L98.5,372.4 L99.0,371.3 L99.5,370.7 L100.0,370.9 L100.5,371.4 L101.0,372.1 L101.5,372.6 L102.0,372.9 L102.5,372.7 L103.0,372.5 L103.5,372.3 L104.0,372.2 L104.5,372.2 L105.0,372.3 L105.5,372.5 L106.0,372.8 L106.5,373.2 L107.0,373.8 L107.5,374.4 L108.0,374.7 L108.5,374.9 L109.0,375.4 L109.5,376.1 L110.0,376.6 L110.5,376.8 L111.0,376.9 L111.5,376.9 L112.0,376.9 L112.5,376.8 L113.0,376.8 L113.5,376.7 L114.0,376.7 L114.5,376.8 L115.0,376.8 L115.5,376.9 L116.0,376.8 L116.5,376.7 L117.0,376.5 L117.5,376.2 L118.0,375.9 L118.5,375.7 L119.0,375.6 L119.5,375.6 L120.0,375.5 L120.5,375.2 L121.0,374.8 L121.5,374.5 L122.0,374.5 L122.5,374.9 L123.0,375.4 L123.5,375.8 L124.0,375.9 L124.5,375.7 L125.0,375.2 L125.5,374.6 L126.0,373.9 L126.5,373.5 L127.0,373.5 L127.5,374.0 L128.0,374.8 L128.5,375.6 L129.0,376.4 L129.5,376.8 L130.0,377.0 L130.5,377.0 L131.0,376.8 L131.5,376.6 L132.0,376.5 L132.5,376.6 L133.0,376.7 L133.5,376.9 L134.0,377.1 L134.5,377.2 L135.0,377.3 L135.5,377.3 L136.0,377.3 L136.5,377.2 L137.0,377.2 L137.5,377.1 L138.0,377.0 L138.5,376.7 L139.0,376.4 L139.5,376.0 L140.0,375.4 L140.5,374.8 L141.0,374.2 L141.5,373.5 L142.0,372.9 L142.5,372.2 L143.0,371.5 L143.5,371.1 L144.0,371.1 L144.5,371.5 L145.0,372.0 L145.5,372.4 L146.0,373.1 L146.5,373.8 L147.0,374.2 L147.5,374.4 L148.0,374.3 L148.5,374.4 L149.0,374.5 L149.5,374.7 L150.0,374.7 L150.5,375.0 L151.0,376.0 L151.5,376.7 L152.0,375.6 L152.5,371.2 L153.0,363.7 L153.5,353.2 L154.0,340.9 L154.5,328.5 L155.0,318.0 L155.5,311.2 L156.0,309.4 L156.5,312.9 L157.0,321.0 L157.5,332.4 L158.0,345.0 L158.5,356.9 L159.0,366.5 L159.5,373.0 L160.0,376.3 L160.5,375.6 L161.0,375.0 L161.5,374.9 L162.0,375.0 L162.5,375.2 L163.0,375.3 L163.5,375.4 L164.0,375.4 L164.5,375.6 L165.0,375.9 L165.5,376.3 L166.0,376.6 L166.5,376.9 L167.0,377.1 L167.5,377.2 L168.0,377.2 L168.5,377.3 L169.0,377.3 L169.5,377.3 L170.0,377.3 L170.5,377.3 L171.0,377.3 L171.5,377.3 L172.0,377.2 L172.5,377.1 L173.0,376.8 L173.5,376.2 L174.0,375.5 L174.5,374.8 L175.0,374.4 L175.5,374.3 L176.0,374.6 L176.5,374.9 L177.0,375.2 L177.5,375.4 L178.0,375.7 L178.5,376.0 L179.0,376.3 L179.5,376.6 L180.0,376.8 L180.5,376.8 L181.0,376.6 L181.5,376.2 L182.0,375.7 L182.5,375.5 L183.0,375.4 L183.5,375.3 L184.0,375.0 L184.5,375.1 L185.0,375.4 L185.5,375.8 L186.0,376.0 L186.5,376.1 L187.0,376.2 L187.5,376.0 L188.0,375.9 L188.5,376.1 L189.0,376.7 L189.5,377.1 L190.0,377.2 L190.5,377.3 L191.0,377.2 L191.5,377.1 L192.0,376.9 L192.5,376.6 L193.0,376.4 L193.5,376.3 L194.0,376.4 L194.5,376.5 L195.0,376.4 L195.5,375.9 L196.0,375.2 L196.5,374.6 L197.0,374.5 L197.5,374.9 L198.0,375.6 L198.5,376.3 L199.0,376.8 L199.5,377.1 L200.0,377.1 L200.5,377.1 L201.0,377.0 L201.5,376.8 L202.0,376.5 L202.5,376.3 L203.0,376.1 L203.5,376.1 L204.0,376.3 L204.5,376.6 L205.0,376.9 L205.5,377.1 L206.0,377.2 L206.5,377.3 L207.0,377.3 L207.5,377.2 L208.0,377.1 L208.5,377.0 L209.0,376.9 L209.5,376.8 L210.0,376.8 L210.5,376.8 L211.0,376.5 L211.5,376.0 L212.0,375.1 L212.5,374.1 L213.0,373.3 L213.5,373.1 L214.0,373.6 L214.5,374.6 L215.0,375.6 L215.5,376.4 L216.0,376.8 L216.5,377.0 L217.0,377.0 L217.5,376.8 L218.0,376.5 L218.5,376.1 L219.0,375.6 L219.5,374.5 L220.0,373.3 L220.5,373.2 L221.0,374.4 L221.5,375.4 L222.0,375.9 L222.5,375.9 L223.0,375.4 L223.5,374.9 L224.0,375.2 L224.5,375.8 L225.0,376.0 L225.5,376.1 L226.0,376.2 L226.5,376.4 L227.0,376.6 L227.5,376.7 L228.0,376.8 L228.5,376.9 L229.0,376.8 L229.5,376.7 L230.0,376.6 L230.5,376.5 L231.0,376.2 L231.5,375.5 L232.0,374.5 L232.5,373.8 L233.0,370.2 L233.5,362.2 L234.0,351.6 L234.5,339.4 L235.0,327.5 L235.5,317.9 L236.0,312.1 L236.5,311.4 L237.0,315.8 L237.5,324.5 L238.0,335.9 L238.5,348.2 L239.0,359.5 L239.5,368.3 L240.0,374.0 L240.5,376.2 L241.0,373.8 L241.5,365.5 L242.0,351.0 L242.5,330.8 L243.0,306.8 L243.5,282.5 L244.0,261.9 L244.5,248.4 L245.0,244.5 L245.5,251.0 L246.0,266.7 L246.5,288.7 L247.0,313.2 L247.5,336.5 L248.0,355.4 L248.5,368.3 L249.0,375.1 L249.5,375.4 L250.0,375.2 L250.5,375.1 L251.0,375.3 L251.5,375.5 L252.0,375.8 L252.5,375.9 L253.0,375.6 L253.5,375.3 L254.0,375.7 L254.5,376.3 L255.0,376.6 L255.5,376.4 L256.0,376.2 L256.5,376.0 L257.0,376.0 L257.5,375.9 L258.0,375.7 L258.5,375.4 L259.0,375.2 L259.5,375.2 L260.0,375.2 L260.5,375.0 L261.0,374.6 L261.5,374.6 L262.0,375.3 L262.5,375.9 L263.0,376.1 L263.5,376.0 L264.0,375.9 L264.5,375.7 L265.0,375.4 L265.5,375.0 L266.0,371.1 L266.5,361.5 L267.0,346.9 L267.5,328.7 L268.0,309.0 L268.5,291.0 L269.0,277.7 L269.5,271.4 L270.0,273.5 L270.5,283.3 L271.0,299.2 L271.5,318.5 L272.0,337.8 L272.5,354.5 L273.0,366.8 L273.5,374.0 L274.0,374.0 L274.5,373.8 L275.0,374.5 L275.5,375.5 L276.0,376.4 L276.5,376.9 L277.0,377.1 L277.5,377.1 L278.0,377.0 L278.5,376.8 L279.0,376.5 L279.5,376.3 L280.0,376.2 L280.5,376.3 L281.0,376.5 L281.5,376.6 L282.0,376.6 L282.5,375.3 L283.0,371.2 L283.5,364.5 L284.0,355.7 L284.5,345.7 L285.0,336.1 L285.5,328.5 L286.0,324.1 L286.5,323.8 L287.0,327.7 L287.5,335.0 L288.0,344.4 L288.5,354.4 L289.0,363.4 L289.5,370.4 L290.0,374.9 L290.5,376.9 L291.0,376.5 L291.5,375.9 L292.0,375.2 L292.5,374.6 L293.0,374.3 L293.5,374.3 L294.0,374.6 L294.5,375.0 L295.0,375.4 L295.5,375.7 L296.0,376.1 L296.5,376.4 L297.0,376.6 L297.5,376.8 L298.0,376.8 L298.5,376.9 L299.0,376.9 L299.5,376.9 L300.0,376.9 L300.5,376.9 L301.0,376.9 L301.5,376.8 L302.0,376.7 L302.5,376.7 L303.0,376.7 L303.5,376.7 L304.0,376.7 L304.5,376.8 L305.0,376.9 L305.5,377.0 L306.0,376.8 L306.5,376.0 L307.0,370.3 L307.5,358.8 L308.0,340.9 L308.5,317.9 L309.0,292.6 L309.5,269.0 L310.0,251.0 L310.5,241.8 L311.0,243.1 L311.5,254.6 L312.0,274.2 L312.5,298.6 L313.0,323.6 L313.5,345.6 L314.0,362.1 L314.5,372.1 L315.0,376.5 L315.5,375.8 L316.0,370.9 L316.5,361.4 L317.0,347.2 L317.5,329.5 L318.0,310.8 L318.5,293.8 L319.0,281.6 L319.5,276.2 L320.0,278.7 L320.5,288.6 L321.0,304.1 L321.5,322.6 L322.0,340.9 L322.5,356.6 L323.0,367.9 L323.5,374.1 L324.0,374.6 L324.5,369.6 L325.0,360.1 L325.5,346.9 L326.0,331.4 L326.5,315.7 L327.0,302.5 L327.5,293.9 L328.0,291.6 L328.5,296.0 L329.0,306.3 L329.5,320.6 L330.0,336.5 L330.5,351.5 L331.0,363.6 L331.5,371.8 L332.0,376.1 L332.5,377.3 L333.0,377.3 L333.5,377.3 L334.0,377.3 L334.5,377.3 L335.0,377.3 L335.5,377.3 L336.0,377.3 L336.5,377.3 L337.0,377.3 L337.5,377.3 L338.0,377.3 L338.5,377.3 L339.0,377.3 L339.5,377.3 L340.0,377.3 L340.5,375.2 L341.0,368.6 L341.5,356.1 L342.0,337.6 L342.5,314.8 L343.0,290.6 L343.5,268.9 L344.0,253.4 L344.5,246.9 L345.0,250.5 L345.5,263.5 L346.0,283.8 L346.5,307.6 L347.0,331.2 L347.5,351.2 L348.0,365.5 L348.5,373.8 L349.0,377.0 L349.5,376.9 L350.0,376.8 L350.5,376.8 L351.0,376.8 L351.5,376.8 L352.0,376.8 L352.5,376.7 L353.0,376.4 L353.5,375.9 L354.0,375.2 L354.5,374.9 L355.0,375.1 L355.5,375.6 L356.0,376.0 L356.5,376.3 L357.0,375.9 L357.5,374.7 L358.0,373.4 L358.5,372.0 L359.0,370.6 L359.5,369.6 L360.0,368.8 L360.5,368.6 L361.0,368.8 L361.5,369.6 L362.0,370.6 L362.5,372.0 L363.0,373.4 L363.5,374.6 L364.0,374.4 L364.5,374.4 L365.0,374.5 L365.5,371.6 L366.0,365.9 L366.5,358.6 L367.0,350.6 L367.5,343.0 L368.0,337.3 L368.5,334.3 L369.0,334.7 L369.5,338.3 L370.0,344.6 L370.5,352.3 L371.0,360.3 L371.5,367.3 L372.0,372.0 L372.5,373.2 L373.0,372.8 L373.5,372.1 L374.0,369.6 L374.5,367.1 L375.0,364.8 L375.5,363.0 L376.0,361.9 L376.5,361.6 L377.0,362.2 L377.5,363.6 L378.0,365.7 L378.5,368.1 L379.0,370.6 L379.5,373.0 L380.0,374.2 L380.5,374.7 L381.0,375.7 L381.5,371.9 L382.0,364.2 L382.5,352.8 L383.0,338.8 L383.5,324.1 L384.0,310.9 L384.5,301.5 L385.0,297.6 L385.5,300.0 L386.0,308.1 L386.5,320.6 L387.0,335.2 L387.5,349.5 L388.0,361.7 L388.5,370.4 L389.0,375.3 L389.5,375.9 L390.0,372.9 L390.5,365.5 L391.0,354.1 L391.5,339.5 L392.0,323.6 L392.5,308.8 L393.0,297.6 L393.5,292.0 L394.0,293.0 L394.5,300.4 L395.0,312.9 L395.5,328.3 L396.0,344.0 L396.5,357.8 L397.0,368.1 L397.5,374.2 L398.0,376.5 L398.5,376.4 L399.0,375.5 L399.5,374.4 L400.0,373.1 L400.5,371.9 L401.0,370.8 L401.5,370.0 L402.0,369.6 L402.5,369.7 L403.0,370.1 L403.5,371.0 L404.0,372.1 L404.5,373.3 L405.0,374.2 L405.5,374.3 L406.0,375.0 L406.5,375.9 L407.0,376.3 L407.5,376.1 L408.0,375.9 L408.5,376.1 L409.0,376.5 L409.5,376.9 L410.0,377.2 L410.5,377.3 L411.0,377.3 L411.5,377.3 L412.0,377.3 L412.5,377.3 L413.0,377.2 L413.5,377.1 L414.0,377.0 L414.5,376.8 L415.0,376.6 L415.5,376.6 L416.0,376.6 L416.5,376.8 L417.0,376.9 L417.5,377.1 L418.0,377.2 L418.5,377.2 L419.0,377.2 L419.5,377.1 L420.0,376.8 L420.5,376.4 L421.0,375.9 L421.5,375.4 L422.0,374.7 L422.5,374.0 L423.0,373.1 L423.5,372.5 L424.0,372.4 L424.5,372.6 L425.0,373.2 L425.5,374.2 L426.0,375.5 L426.5,376.4 L427.0,376.9 L427.5,377.0 L428.0,377.2 L428.5,377.2 L429.0,377.3 L429.5,377.2 L430.0,377.2 L430.5,377.0 L431.0,376.8 L431.5,376.4 L432.0,376.0 L432.5,375.7 L433.0,375.6 L433.5,375.6 L434.0,375.3 L434.5,374.6 L435.0,373.9 L435.5,373.8 L436.0,373.8 L436.5,373.6 L437.0,373.3 L437.5,373.1 L438.0,373.1 L438.5,373.5 L439.0,374.1 L439.5,374.8 L440.0,375.6 L440.5,376.0 L441.0,376.2 L441.5,376.0 L442.0,375.8 L442.5,375.8 L443.0,376.0 L443.5,376.1 L444.0,375.8 L444.5,375.2 L445.0,374.7 L445.5,374.6 L446.0,374.9 L446.5,374.8 L447.0,374.3 L447.5,373.7 L448.0,373.6 L448.5,374.1 L449.0,374.8 L449.5,375.6 L450.0,376.4 L450.5,376.9 L451.0,377.2 L451.5,377.3 L452.0,377.3 L452.5,376.9 L453.0,375.4 L453.5,373.0 L454.0,369.9 L454.5,366.2 L455.0,362.3 L455.5,358.7 L456.0,355.8 L456.5,353.9 L457.0,353.2 L457.5,353.9 L458.0,355.8 L458.5,358.7 L459.0,362.3 L459.5,366.2 L460.0,369.9 L460.5,373.0 L461.0,375.0 L461.5,373.6 L462.0,366.7 L462.5,353.4 L463.0,334.6 L463.5,312.1 L464.0,289.1 L464.5,269.3 L465.0,256.1 L465.5,252.0 L466.0,257.6 L466.5,271.9 L467.0,292.4 L467.5,315.6 L468.0,337.7 L468.5,355.8 L469.0,368.3 L469.5,374.3 L470.0,374.6 L470.5,375.2 L471.0,375.1 L471.5,373.3 L472.0,371.3 L472.5,369.1 L473.0,367.1 L473.5,365.5 L474.0,364.5 L474.5,364.1 L475.0,364.5 L475.5,365.5 L476.0,367.1 L476.5,369.1 L477.0,371.3 L477.5,373.3 L478.0,375.1 L478.5,376.4 L479.0,377.2 L479.5,377.3 L480.0,377.3 L480.5,377.3 L481.0,377.3 L481.5,377.3 L482.0,377.3 L482.5,377.3 L483.0,377.2 L483.5,377.1 L484.0,377.0 L484.5,376.7 L485.0,376.5 L485.5,376.3 L486.0,376.3 L486.5,376.4 L487.0,376.6 L487.5,376.9 L488.0,377.1 L488.5,377.2 L489.0,377.2 L489.5,377.1 L490.0,376.9 L490.5,376.5 L491.0,375.9 L491.5,375.2 L492.0,374.5 L492.5,374.2 L493.0,374.4 L493.5,374.8 L494.0,375.2 L494.5,375.5 L495.0,376.0 L495.5,376.5 L496.0,376.6 L496.5,376.3 L497.0,376.1 L497.5,375.9 L498.0,375.9 L498.5,376.0 L499.0,376.0 L499.5,376.1 L500.0,376.3 L500.5,376.3 L501.0,376.1 L501.5,375.8 L502.0,375.8 L502.5,375.9 L503.0,376.3 L503.5,376.7 L504.0,377.0 L504.5,377.2 L505.0,377.3 L505.5,377.3 L506.0,377.3 L506.5,377.2 L507.0,377.2 L507.5,377.1 L508.0,377.0 L508.5,376.9 L509.0,376.8 L509.5,376.9 L510.0,376.9 L510.5,377.0 L511.0,377.1 L511.5,377.1 L512.0,377.0 L512.5,376.9 L513.0,376.8 L513.5,376.7 L514.0,376.7 L514.5,376.8 L515.0,377.0 L515.5,377.1 L516.0,377.2 L516.5,377.2 L517.0,377.3 L517.5,377.3 L518.0,377.3 L518.5,377.3 L519.0,377.3 L519.5,377.3 L520.0,377.3 L520.5,377.3 L521.0,377.3 L521.5,377.3 L522.0,377.3 L522.5,377.2 L523.0,377.2 L523.5,377.1 L524.0,376.9 L524.5,376.8 L525.0,376.6 L525.5,376.5 L526.0,376.4 L526.5,376.5 L527.0,376.6 L527.5,376.8 L528.0,376.9 L528.5,377.0 L529.0,377.1 L529.5,376.9 L530.0,376.6 L530.5,375.8 L531.0,374.8 L531.5,373.7 L532.0,373.0 L532.5,372.7 L533.0,372.8 L533.5,372.7 L534.0,372.5 L534.5,372.5 L535.0,372.9 L535.5,373.7 L536.0,374.8 L536.5,375.8 L537.0,376.5 L537.5,376.9 L538.0,377.1 L538.5,377.2 L539.0,377.3 L539.5,377.3 L540.0,377.3 L540.5,377.3 L541.0,377.3 L541.5,377.1 L542.0,376.7 L542.5,376.0 L543.0,375.1 L543.5,374.6 L544.0,374.6 L544.5,374.9 L545.0,375.4 L545.5,375.7 L546.0,375.6 L546.5,375.2 L547.0,374.9 L547.5,375.3 L548.0,376.3 L548.5,376.9 L549.0,376.8 L549.5,376.5 L550.0,376.2 L550.5,376.4 L551.0,376.9 L551.5,376.9 L552.0,376.3 L552.5,375.7 L553.0,375.0 L553.5,374.3 L554.0,373.8 L554.5,373.4 L555.0,373.2 L555.5,373.3 L556.0,373.6 L556.5,374.1 L557.0,374.7 L557.5,375.4 L558.0,376.1 L558.5,376.5 L559.0,376.7 L559.5,376.4 L560.0,375.9 L560.5,375.1 L561.0,374.3 L561.5,373.5 L562.0,372.9 L562.5,372.4 L563.0,372.3 L563.5,372.4 L564.0,372.9 L564.5,373.5 L565.0,374.0 L565.5,374.1 L566.0,374.3 L566.5,374.3 L567.0,374.4 L567.5,374.7 L568.0,372.7 L568.5,369.0 L569.0,364.7 L569.5,360.1 L570.0,355.8 L570.5,352.1 L571.0,349.6 L571.5,348.6 L572.0,349.2 L572.5,351.2 L573.0,354.5 L573.5,358.7 L574.0,363.3 L574.5,367.8 L575.0,371.6 L575.5,373.9 L576.0,372.0 L576.5,363.3 L577.0,346.9 L577.5,324.0 L578.0,297.2 L578.5,270.3 L579.0,247.7 L579.5,233.3 L580.0,229.7 L580.5,237.6 L581.0,255.5 L581.5,280.3 L582.0,307.6 L582.5,333.3 L583.0,353.9 L583.5,367.3 L584.0,373.5 L584.5,374.2 L585.0,372.3 L585.5,369.8 L586.0,367.3 L586.5,365.0 L587.0,363.1 L587.5,361.9 L588.0,361.6 L588.5,362.1 L589.0,363.5 L589.5,365.5 L590.0,367.8 L590.5,370.4 L591.0,372.8 L591.5,374.8 L592.0,376.3 L592.5,377.2 L593.0,377.1 L593.5,376.9 L594.0,376.8 L594.5,376.7 L595.0,376.6 L595.5,376.4 L596.0,376.4 L596.5,376.5 L597.0,376.8 L597.5,377.0 L598.0,377.2 L598.5,377.3 L599.0,377.0 L599.5,376.0 L600.0,374.3 L600.5,372.1 L601.0,369.5 L601.5,366.9 L602.0,364.4 L602.5,362.5 L603.0,361.3 L603.5,360.9 L604.0,361.4 L604.5,362.8 L605.0,364.9 L605.5,367.4 L606.0,370.0 L606.5,372.5 L607.0,374.7 L607.5,374.9 L608.0,374.9 L608.5,370.9 L609.0,361.9 L609.5,348.5 L610.0,332.0 L610.5,314.6 L611.0,299.0 L611.5,287.9 L612.0,283.3 L612.5,286.0 L613.0,295.6 L613.5,310.2 L614.0,327.4 L614.5,344.4 L615.0,358.8 L615.5,369.1 L616.0,374.3 L616.5,373.3 L617.0,365.5 L617.5,351.5 L618.0,332.3 L618.5,309.9 L619.0,287.5 L619.5,268.7 L620.0,256.9 L620.5,254.2 L621.0,261.0 L621.5,276.1 L622.0,296.9 L622.5,319.7 L623.0,341.1 L623.5,358.2 L624.0,369.1 L624.5,374.1 L625.0,374.4 L625.5,372.6 L626.0,370.3 L626.5,367.9 L627.0,365.7 L627.5,364.0 L628.0,362.9 L628.5,362.6 L629.0,363.1 L629.5,364.4 L630.0,366.3 L630.5,368.5 L631.0,370.9 L631.5,373.0 L632.0,374.2 L632.5,374.0 L633.0,372.4 L633.5,369.4 L634.0,365.7 L634.5,361.7 L635.0,358.1 L635.5,355.1 L636.0,353.2 L636.5,352.6 L637.0,353.4 L637.5,355.4 L638.0,358.4 L638.5,362.1 L639.0,366.1 L639.5,369.9 L640.0,373.1 L640.5,375.3 L641.0,374.7 L641.5,369.1 L642.0,357.3 L642.5,339.6 L643.0,317.7 L643.5,294.4 L644.0,273.5 L644.5,258.3 L645.0,251.8 L645.5,255.0 L646.0,267.4 L646.5,286.7 L647.0,309.6 L647.5,332.4 L648.0,351.5 L648.5,364.7 L649.0,371.1 L649.5,371.9 L650.0,369.2 L650.5,365.7 L651.0,362.1 L651.5,358.8 L652.0,356.3 L652.5,354.9 L653.0,354.7 L653.5,355.7 L654.0,357.8 L654.5,360.8 L655.0,364.3 L655.5,368.0 L656.0,371.3 L656.5,374.1 L657.0,375.9 L657.5,375.7 L658.0,373.6 L658.5,368.7 L659.0,361.9 L659.5,353.7 L660.0,345.4 L660.5,338.2 L661.0,333.5 L661.5,332.1 L662.0,334.1 L662.5,339.4 L663.0,346.9 L663.5,355.2 L664.0,363.3 L664.5,369.8 L665.0,374.1 L665.5,376.1 L666.0,376.6 L666.5,376.0 L667.0,375.2 L667.5,374.5 L668.0,373.7 L668.5,373.1 L669.0,372.7 L669.5,372.6 L670.0,372.7 L670.5,373.1 L671.0,373.7 L671.5,374.5 L672.0,375.3 L672.5,375.9 L673.0,376.1 L673.5,375.7 L674.0,374.7 L674.5,373.3 L675.0,371.6 L675.5,369.9 L676.0,368.4 L676.5,367.3 L677.0,366.7 L677.5,366.7 L678.0,367.3 L678.5,368.4 L679.0,369.9 L679.5,371.6 L680.0,373.3 L680.5,374.9 L681.0,376.1 L681.5,377.0 L682.0,377.3 L682.5,377.3 L683.0,376.4 L683.5,371.4 L684.0,360.3 L684.5,342.1 L685.0,317.9 L685.5,290.4 L686.0,263.9 L686.5,242.5 L687.0,230.2 L688,381.6 Z"/>
</defs>
<g clip-path="url(#c2)" stroke="none">
<use href="#p2A" fill="#4cc24c" fill-opacity="0.13"/>
<use href="#p2C" fill="#4a66cc" fill-opacity="0.13"/>
<use href="#p2T" fill="#ee4b4b" fill-opacity="0.13"/>
<use href="#p2G" fill="#1a1a1a" fill-opacity="0.14"/>
</g>
<rect x="207.3" y="218.0" width="156.8" height="159.2" fill="#e9df22" fill-opacity="0.92"/>
<rect x="372.4" y="218.0" width="25.0" height="159.2" fill="#b8cdea" fill-opacity="0.92"/>
<g clip-path="url(#c2)" fill="none" stroke-width="0.95" stroke-linejoin="round">
<use href="#p2A" stroke="#4cc24c"/>
<use href="#p2C" stroke="#4a66cc"/>
<use href="#p2T" stroke="#ee4b4b"/>
<use href="#p2G" stroke="#111111"/>
</g>
<g transform="scale(0.76 1)">
<text x="4.0" y="225.6" fill="#55cc44" stroke="#55cc44">A</text>
<text x="13.5" y="225.6" fill="#5570d8" stroke="#5570d8">C</text>
<text x="22.9" y="225.6" fill="#55cc44" stroke="#55cc44">A</text>
<text x="32.7" y="225.6" fill="#55cc44" stroke="#55cc44">A</text>
<text x="44.4" y="225.6" fill="#222222" stroke="#222222">G</text>
<text x="56.5" y="225.6" fill="#55cc44" stroke="#55cc44">A</text>
<text x="66.7" y="225.6" fill="#222222" stroke="#222222">G</text>
<text x="77.7" y="225.6" fill="#5570d8" stroke="#5570d8">C</text>
<text x="89.0" y="225.6" fill="#f05050" stroke="#f05050">T</text>
<text x="99.6" y="225.6" fill="#f05050" stroke="#f05050">T</text>
<text x="110.6" y="225.6" fill="#222222" stroke="#222222">G</text>
<text x="122.3" y="225.6" fill="#55cc44" stroke="#55cc44">A</text>
<text x="131.7" y="225.6" fill="#5570d8" stroke="#5570d8">C</text>
<text x="143.0" y="225.6" fill="#f05050" stroke="#f05050">T</text>
<text x="153.6" y="225.6" fill="#5570d8" stroke="#5570d8">C</text>
<text x="163.1" y="225.6" fill="#55cc44" stroke="#55cc44">A</text>
<text x="172.9" y="225.6" fill="#55cc44" stroke="#55cc44">A</text>
<text x="183.5" y="225.6" fill="#5570d8" stroke="#5570d8">C</text>
<text x="193.3" y="225.6" fill="#55cc44" stroke="#55cc44">A</text>
<text x="204.6" y="225.6" fill="#222222" stroke="#222222">G</text>
<text x="216.3" y="225.6" fill="#5570d8" stroke="#5570d8">C</text>
<text x="228.4" y="225.6" fill="#f05050" stroke="#f05050">T</text>
<text x="238.6" y="225.6" fill="#5570d8" stroke="#5570d8">C</text>
<text x="247.7" y="225.6" fill="#55cc44" stroke="#55cc44">A</text>
<text x="257.9" y="225.6" fill="#55cc44" stroke="#55cc44">A</text>
<text x="268.9" y="225.6" fill="#5570d8" stroke="#5570d8">C</text>
<text x="278.7" y="225.6" fill="#55cc44" stroke="#55cc44">A</text>
<text x="288.9" y="225.6" fill="#55cc44" stroke="#55cc44">A</text>
<text x="299.5" y="225.6" fill="#55cc44" stroke="#55cc44">A</text>
<text x="310.4" y="225.6" fill="#222222" stroke="#222222">G</text>
<text x="321.8" y="225.6" fill="#222222" stroke="#222222">G</text>
<text x="333.5" y="225.6" fill="#55cc44" stroke="#55cc44">A</text>
<text x="343.3" y="225.6" fill="#f05050" stroke="#f05050">T</text>
<text x="354.2" y="225.6" fill="#222222" stroke="#222222">G</text>
<text x="365.6" y="225.6" fill="#55cc44" stroke="#55cc44">A</text>
<text x="376.2" y="225.6" fill="#222222" stroke="#222222">G</text>
<text x="387.9" y="225.6" fill="#55cc44" stroke="#55cc44">A</text>
<text x="398.1" y="225.6" fill="#f05050" stroke="#f05050">T</text>
<text x="408.3" y="225.6" fill="#222222" stroke="#222222">G</text>
<text x="420.0" y="225.6" fill="#222222" stroke="#222222">G</text>
<text x="430.9" y="225.6" fill="#222222" stroke="#222222">G</text>
<text x="442.3" y="225.6" fill="#f05050" stroke="#f05050">T</text>
<text x="452.9" y="225.6" fill="#222222" stroke="#222222">G</text>
<text x="463.1" y="225.6" fill="#5570d8" stroke="#5570d8">C</text>
<text x="473.3" y="225.6" fill="#55cc44" stroke="#55cc44">A</text>
<text x="485.4" y="225.6" fill="#55cc44" stroke="#55cc44">A</text>
<text x="495.9" y="225.6" fill="#55cc44" stroke="#55cc44">A</text>
<text x="506.1" y="225.6" fill="#222222" stroke="#222222">G</text>
<text x="517.5" y="225.6" fill="#222222" stroke="#222222">G</text>
<text x="529.2" y="225.6" fill="#55cc44" stroke="#55cc44">A</text>
<text x="539.4" y="225.6" fill="#55cc44" stroke="#55cc44">A</text>
<text x="548.8" y="225.6" fill="#5570d8" stroke="#5570d8">C</text>
<text x="560.2" y="225.6" fill="#f05050" stroke="#f05050">T</text>
<text x="569.6" y="225.6" fill="#55cc44" stroke="#55cc44">A</text>
<text x="580.2" y="225.6" fill="#5570d8" stroke="#5570d8">C</text>
<text x="590.0" y="225.6" fill="#55cc44" stroke="#55cc44">A</text>
<text x="601.7" y="225.6" fill="#f05050" stroke="#f05050">T</text>
<text x="611.9" y="225.6" fill="#222222" stroke="#222222">G</text>
<text x="624.4" y="225.6" fill="#55cc44" stroke="#55cc44">A</text>
<text x="634.6" y="225.6" fill="#f05050" stroke="#f05050">T</text>
<text x="645.9" y="225.6" fill="#5570d8" stroke="#5570d8">C</text>
<text x="656.9" y="225.6" fill="#f05050" stroke="#f05050">T</text>
<text x="666.7" y="225.6" fill="#55cc44" stroke="#55cc44">A</text>
<text x="675.6" y="225.6" fill="#f05050" stroke="#f05050">T</text>
<text x="686.9" y="225.6" fill="#55cc44" stroke="#55cc44">A</text>
<text x="697.1" y="225.6" fill="#55cc44" stroke="#55cc44">A</text>
<text x="707.7" y="225.6" fill="#f05050" stroke="#f05050">T</text>
<text x="719.4" y="225.6" fill="#f05050" stroke="#f05050">T</text>
<text x="729.3" y="225.6" fill="#55cc44" stroke="#55cc44">A</text>
<text x="739.5" y="225.6" fill="#f05050" stroke="#f05050">T</text>
<text x="750.8" y="225.6" fill="#f05050" stroke="#f05050">T</text>
<text x="762.5" y="225.6" fill="#222222" stroke="#222222">G</text>
<text x="773.1" y="225.6" fill="#f05050" stroke="#f05050">T</text>
<text x="782.9" y="225.6" fill="#55cc44" stroke="#55cc44">A</text>
<text x="793.5" y="225.6" fill="#5570d8" stroke="#5570d8">C</text>
<text x="804.8" y="225.6" fill="#222222" stroke="#222222">G</text>
<text x="815.8" y="225.6" fill="#222222" stroke="#222222">G</text>
<text x="827.5" y="225.6" fill="#55cc44" stroke="#55cc44">A</text>
<text x="837.7" y="225.6" fill="#f05050" stroke="#f05050">T</text>
<text x="848.3" y="225.6" fill="#222222" stroke="#222222">G</text>
<text x="858.9" y="225.6" fill="#5570d8" stroke="#5570d8">C</text>
<text x="869.8" y="225.6" fill="#222222" stroke="#222222">G</text>
<text x="881.1" y="225.6" fill="#55cc44" stroke="#55cc44">A</text>
<text x="891.7" y="225.6" fill="#55cc44" stroke="#55cc44">A</text>
<text x="903.8" y="225.6" fill="#222222" stroke="#222222">G</text>
</g>
<g class="tk">
<text x="24.8" y="383.0">150</text>
<text x="108.9" y="383.0">160</text>
<text x="188.8" y="383.0">170</text>
<text x="269.2" y="383.0">180</text>
<text x="351.4" y="383.0">190</text>
<text x="433.0" y="383.0">200</text>
<text x="514.4" y="383.0">210</text>
<text x="595.2" y="383.0">220</text>
<text x="677.4" y="383.0">230</text>
</g>
<clipPath id="c3"><rect x="0.8" y="416.0" width="683.4" height="185.0"/></clipPath>
<line x1="10.5" y1="428.9" x2="10.5" y2="601.2" stroke="#c8c8c8" stroke-width="0.6" stroke-dasharray="1.6 1.6"/>
<line x1="93.3" y1="428.9" x2="93.3" y2="601.2" stroke="#c8c8c8" stroke-width="0.6" stroke-dasharray="1.6 1.6"/>
<line x1="175.8" y1="428.9" x2="175.8" y2="601.2" stroke="#c8c8c8" stroke-width="0.6" stroke-dasharray="1.6 1.6"/>
<line x1="255.5" y1="428.9" x2="255.5" y2="601.2" stroke="#c8c8c8" stroke-width="0.6" stroke-dasharray="1.6 1.6"/>
<line x1="340.2" y1="428.9" x2="340.2" y2="601.2" stroke="#c8c8c8" stroke-width="0.6" stroke-dasharray="1.6 1.6"/>
<line x1="423.0" y1="428.9" x2="423.0" y2="601.2" stroke="#c8c8c8" stroke-width="0.6" stroke-dasharray="1.6 1.6"/>
<line x1="506.4" y1="428.9" x2="506.4" y2="601.2" stroke="#c8c8c8" stroke-width="0.6" stroke-dasharray="1.6 1.6"/>
<line x1="587.9" y1="428.9" x2="587.9" y2="601.2" stroke="#c8c8c8" stroke-width="0.6" stroke-dasharray="1.6 1.6"/>
<line x1="670.7" y1="428.9" x2="670.7" y2="601.2" stroke="#c8c8c8" stroke-width="0.6" stroke-dasharray="1.6 1.6"/>
<line x1="0" y1="601.6" x2="685" y2="601.6" stroke="#dcdcdc" stroke-width="0.7"/>
<defs>
<path id="p3A" d="M-3,605.2 L-2.0,600.9 L-1.5,600.9 L-1.0,600.9 L-0.5,600.9 L0.0,600.9 L0.5,600.9 L1.0,600.9 L1.5,600.9 L2.0,600.8 L2.5,600.7 L3.0,600.6 L3.5,600.3 L4.0,600.0 L4.5,599.5 L5.0,599.1 L5.5,598.8 L6.0,598.7 L6.5,598.7 L7.0,598.9 L7.5,595.6 L8.0,587.1 L8.5,574.1 L9.0,557.7 L9.5,539.9 L10.0,523.6 L10.5,511.3 L11.0,505.5 L11.5,507.0 L12.0,515.7 L12.5,529.9 L13.0,547.2 L13.5,564.7 L14.0,579.9 L14.5,590.4 L15.0,594.4 L15.5,591.0 L16.0,581.6 L16.5,568.3 L17.0,553.2 L17.5,538.7 L18.0,527.0 L18.5,520.3 L19.0,519.7 L19.5,525.4 L20.0,536.4 L20.5,550.6 L21.0,565.8 L21.5,579.5 L22.0,590.2 L22.5,597.0 L23.0,599.4 L23.5,599.4 L24.0,599.6 L24.5,599.7 L25.0,599.5 L25.5,599.0 L26.0,598.7 L26.5,598.8 L27.0,599.1 L27.5,599.5 L28.0,599.7 L28.5,599.7 L29.0,599.6 L29.5,599.4 L30.0,599.3 L30.5,599.4 L31.0,599.6 L31.5,600.0 L32.0,600.4 L32.5,598.9 L33.0,592.1 L33.5,578.7 L34.0,558.3 L34.5,532.7 L35.0,505.2 L35.5,480.0 L36.0,461.4 L36.5,452.7 L37.0,455.5 L37.5,469.3 L38.0,491.5 L38.5,518.4 L39.0,545.5 L39.5,568.9 L40.0,586.0 L40.5,596.1 L41.0,600.4 L41.5,600.9 L42.0,600.9 L42.5,600.9 L43.0,600.8 L43.5,600.5 L44.0,600.1 L44.5,599.7 L45.0,599.6 L45.5,599.8 L46.0,600.1 L46.5,600.2 L47.0,600.1 L47.5,600.0 L48.0,600.0 L48.5,600.0 L49.0,600.0 L49.5,600.0 L50.0,600.1 L50.5,600.0 L51.0,599.9 L51.5,599.8 L52.0,599.7 L52.5,599.7 L53.0,599.7 L53.5,599.8 L54.0,599.8 L54.5,599.6 L55.0,599.3 L55.5,599.1 L56.0,599.1 L56.5,599.4 L57.0,599.9 L57.5,600.4 L58.0,600.7 L58.5,600.8 L59.0,600.9 L59.5,600.9 L60.0,600.9 L60.5,600.9 L61.0,600.9 L61.5,600.9 L62.0,600.9 L62.5,600.9 L63.0,600.9 L63.5,600.9 L64.0,600.9 L64.5,600.9 L65.0,600.9 L65.5,600.9 L66.0,600.9 L66.5,600.7 L67.0,600.5 L67.5,600.2 L68.0,599.9 L68.5,599.8 L69.0,599.9 L69.5,600.0 L70.0,600.2 L70.5,600.5 L71.0,600.8 L71.5,600.9 L72.0,600.7 L72.5,600.3 L73.0,599.5 L73.5,599.4 L74.0,600.0 L74.5,600.6 L75.0,600.8 L75.5,600.9 L76.0,600.9 L76.5,600.8 L77.0,600.8 L77.5,600.7 L78.0,600.6 L78.5,600.5 L79.0,600.3 L79.5,600.2 L80.0,600.1 L80.5,600.0 L81.0,600.0 L81.5,600.0 L82.0,600.0 L82.5,599.8 L83.0,599.6 L83.5,599.3 L84.0,593.9 L84.5,583.5 L85.0,568.0 L85.5,548.8 L86.0,528.3 L86.5,509.9 L87.0,496.5 L87.5,490.6 L88.0,493.4 L88.5,504.2 L89.0,521.1 L89.5,541.2 L90.0,561.2 L90.5,578.3 L91.0,590.6 L91.5,597.8 L92.0,600.7 L92.5,600.6 L93.0,600.5 L93.5,600.5 L94.0,600.4 L94.5,600.3 L95.0,600.1 L95.5,599.9 L96.0,599.7 L96.5,599.5 L97.0,599.3 L97.5,599.2 L98.0,599.0 L98.5,599.0 L99.0,599.0 L99.5,599.1 L100.0,599.3 L100.5,599.4 L101.0,599.5 L101.5,599.5 L102.0,599.4 L102.5,599.2 L103.0,598.8 L103.5,598.6 L104.0,598.9 L104.5,599.6 L105.0,600.0 L105.5,600.1 L106.0,600.0 L106.5,599.9 L107.0,599.7 L107.5,599.6 L108.0,599.6 L108.5,599.6 L109.0,599.7 L109.5,599.7 L110.0,599.8 L110.5,599.9 L111.0,600.1 L111.5,600.2 L112.0,600.4 L112.5,600.6 L113.0,600.7 L113.5,600.8 L114.0,600.7 L114.5,600.5 L115.0,599.7 L115.5,595.2 L116.0,586.3 L116.5,572.9 L117.0,556.0 L117.5,537.9 L118.0,521.3 L118.5,509.1 L119.0,503.5 L119.5,505.4 L120.0,514.5 L120.5,529.2 L121.0,546.9 L121.5,564.7 L122.0,579.8 L122.5,589.4 L123.0,591.9 L123.5,587.3 L124.0,577.5 L124.5,565.3 L125.0,552.8 L125.5,542.1 L126.0,535.0 L126.5,532.9 L127.0,536.0 L127.5,543.9 L128.0,555.1 L128.5,567.7 L129.0,579.7 L129.5,589.5 L130.0,596.2 L130.5,598.0 L131.0,597.7 L131.5,598.0 L132.0,598.8 L132.5,599.7 L133.0,600.3 L133.5,600.6 L134.0,600.7 L134.5,600.8 L135.0,600.7 L135.5,600.6 L136.0,600.4 L136.5,600.2 L137.0,599.9 L137.5,599.7 L138.0,599.6 L138.5,598.1 L139.0,591.8 L139.5,581.0 L140.0,566.4 L140.5,549.3 L141.0,532.4 L141.5,518.3 L142.0,509.5 L142.5,507.6 L143.0,513.0 L143.5,524.6 L144.0,540.5 L144.5,557.8 L145.0,574.0 L145.5,586.8 L146.0,595.4 L146.5,598.8 L147.0,599.3 L147.5,599.7 L148.0,599.9 L148.5,600.2 L149.0,600.4 L149.5,600.4 L150.0,600.3 L150.5,599.8 L151.0,599.1 L151.5,598.9 L152.0,599.3 L152.5,599.8 L153.0,600.1 L153.5,600.3 L154.0,600.5 L154.5,600.7 L155.0,600.8 L155.5,600.9 L156.0,600.9 L156.5,600.9 L157.0,600.9 L157.5,600.9 L158.0,600.9 L158.5,600.9 L159.0,600.9 L159.5,600.9 L160.0,600.9 L160.5,600.9 L161.0,600.9 L161.5,600.9 L162.0,600.9 L162.5,600.9 L163.0,600.8 L163.5,600.7 L164.0,600.3 L164.5,599.9 L165.0,599.5 L165.5,599.2 L166.0,599.2 L166.5,599.2 L167.0,599.2 L167.5,599.5 L168.0,599.8 L168.5,600.2 L169.0,600.6 L169.5,600.8 L170.0,600.9 L170.5,600.9 L171.0,600.9 L171.5,600.8 L172.0,600.7 L172.5,600.6 L173.0,600.4 L173.5,600.3 L174.0,600.1 L174.5,600.0 L175.0,599.8 L175.5,599.7 L176.0,599.6 L176.5,599.7 L177.0,599.9 L177.5,600.2 L178.0,600.4 L178.5,600.6 L179.0,600.8 L179.5,600.8 L180.0,599.4 L180.5,594.3 L181.0,584.4 L181.5,569.6 L182.0,551.2 L182.5,531.5 L183.0,513.6 L183.5,500.6 L184.0,494.8 L184.5,497.2 L185.0,507.5 L185.5,523.7 L186.0,543.0 L186.5,562.3 L187.0,578.8 L187.5,590.1 L188.0,594.3 L188.5,591.0 L189.0,581.8 L189.5,569.1 L190.0,554.9 L190.5,541.4 L191.0,530.8 L191.5,525.0 L192.0,525.0 L192.5,530.9 L193.0,541.5 L193.5,555.1 L194.0,569.2 L194.5,581.9 L195.0,591.6 L195.5,597.7 L196.0,599.8 L196.5,600.2 L197.0,600.4 L197.5,600.3 L198.0,599.9 L198.5,599.3 L199.0,598.7 L199.5,598.4 L200.0,598.4 L200.5,598.3 L201.0,598.1 L201.5,597.9 L202.0,598.1 L202.5,598.7 L203.0,599.3 L203.5,597.5 L204.0,590.1 L204.5,577.8 L205.0,561.1 L205.5,541.7 L206.0,522.7 L206.5,507.0 L207.0,497.4 L207.5,495.6 L208.0,502.0 L208.5,515.5 L209.0,533.5 L209.5,553.1 L210.0,571.2 L210.5,585.5 L211.0,594.2 L211.5,595.3 L212.0,588.6 L212.5,575.2 L213.0,557.2 L213.5,536.6 L214.0,516.6 L214.5,500.3 L215.0,490.7 L215.5,489.5 L216.0,496.9 L216.5,511.6 L217.0,530.9 L217.5,551.7 L218.0,570.7 L218.5,585.5 L219.0,595.0 L219.5,597.9 L220.0,593.9 L220.5,583.6 L221.0,568.1 L221.5,548.8 L222.0,528.2 L222.5,509.6 L223.0,496.0 L223.5,490.0 L224.0,492.6 L224.5,503.4 L225.0,520.3 L225.5,540.5 L226.0,560.7 L226.5,578.0 L227.0,590.4 L227.5,597.7 L228.0,598.8 L228.5,598.8 L229.0,598.9 L229.5,599.0 L230.0,599.1 L230.5,599.5 L231.0,600.0 L231.5,600.4 L232.0,600.6 L232.5,600.5 L233.0,600.3 L233.5,600.0 L234.0,599.6 L234.5,599.2 L235.0,598.9 L235.5,598.7 L236.0,598.3 L236.5,597.8 L237.0,597.6 L237.5,598.1 L238.0,598.6 L238.5,598.9 L239.0,599.3 L239.5,599.7 L240.0,599.9 L240.5,599.7 L241.0,599.5 L241.5,599.4 L242.0,599.5 L242.5,599.6 L243.0,599.8 L243.5,599.9 L244.0,600.0 L244.5,600.1 L245.0,600.2 L245.5,600.3 L246.0,598.5 L246.5,591.6 L247.0,578.9 L247.5,560.3 L248.0,537.6 L248.5,513.8 L249.0,492.8 L249.5,478.1 L250.0,472.4 L250.5,476.6 L251.0,490.1 L251.5,510.4 L252.0,534.0 L252.5,557.1 L253.0,576.4 L253.5,590.1 L254.0,597.8 L254.5,598.0 L255.0,597.9 L255.5,598.1 L256.0,598.4 L256.5,599.0 L257.0,599.5 L257.5,600.0 L258.0,600.4 L258.5,600.7 L259.0,600.8 L259.5,600.9 L260.0,600.9 L260.5,600.9 L261.0,600.9 L261.5,600.9 L262.0,600.9 L262.5,600.9 L263.0,600.9 L263.5,600.9 L264.0,600.9 L264.5,600.9 L265.0,600.9 L265.5,600.9 L266.0,600.9 L266.5,600.8 L267.0,600.7 L267.5,600.5 L268.0,600.4 L268.5,600.4 L269.0,600.5 L269.5,600.6 L270.0,600.5 L270.5,598.3 L271.0,590.4 L271.5,575.6 L272.0,553.9 L272.5,527.1 L273.0,498.8 L273.5,473.6 L274.0,455.6 L274.5,448.2 L275.0,452.7 L275.5,468.2 L276.0,492.0 L276.5,519.9 L277.0,547.5 L277.5,570.8 L278.0,587.4 L278.5,596.9 L279.0,600.3 L279.5,600.0 L280.0,599.9 L280.5,600.1 L281.0,600.5 L281.5,600.6 L282.0,600.6 L282.5,600.4 L283.0,600.2 L283.5,599.9 L284.0,599.4 L284.5,598.9 L285.0,598.4 L285.5,598.4 L286.0,598.7 L286.5,599.3 L287.0,599.9 L287.5,600.0 L288.0,595.4 L288.5,585.4 L289.0,569.3 L289.5,548.2 L290.0,524.4 L290.5,501.7 L291.0,483.8 L291.5,473.7 L292.0,473.5 L292.5,483.0 L293.0,500.6 L293.5,523.2 L294.0,547.0 L294.5,568.3 L295.0,584.7 L295.5,595.1 L296.0,599.9 L296.5,600.7 L297.0,600.4 L297.5,600.2 L298.0,600.2 L298.5,600.2 L299.0,600.1 L299.5,599.7 L300.0,599.3 L300.5,599.3 L301.0,599.7 L301.5,600.0 L302.0,600.0 L302.5,599.7 L303.0,599.5 L303.5,599.3 L304.0,599.4 L304.5,599.7 L305.0,600.1 L305.5,600.4 L306.0,600.7 L306.5,600.8 L307.0,600.8 L307.5,600.7 L308.0,600.4 L308.5,600.1 L309.0,600.1 L309.5,600.4 L310.0,600.6 L310.5,600.4 L311.0,600.3 L311.5,600.4 L312.0,600.5 L312.5,600.4 L313.0,600.1 L313.5,599.8 L314.0,599.3 L314.5,598.7 L315.0,598.1 L315.5,597.5 L316.0,597.0 L316.5,596.4 L317.0,596.0 L317.5,595.8 L318.0,596.0 L318.5,596.7 L319.0,597.4 L319.5,598.1 L320.0,598.4 L320.5,598.5 L321.0,598.3 L321.5,598.1 L322.0,597.8 L322.5,597.5 L323.0,597.3 L323.5,597.2 L324.0,597.3 L324.5,597.4 L325.0,597.5 L325.5,597.8 L326.0,598.3 L326.5,598.9 L327.0,599.2 L327.5,599.5 L328.0,599.6 L328.5,599.8 L329.0,599.9 L329.5,600.1 L330.0,600.1 L330.5,600.1 L331.0,600.1 L331.5,600.2 L332.0,600.3 L332.5,600.5 L333.0,600.5 L333.5,600.5 L334.0,600.3 L334.5,600.2 L335.0,600.0 L335.5,599.9 L336.0,599.9 L336.5,599.9 L337.0,600.0 L337.5,600.1 L338.0,600.2 L338.5,600.3 L339.0,600.4 L339.5,600.5 L340.0,600.5 L340.5,600.5 L341.0,600.5 L341.5,600.5 L342.0,600.4 L342.5,600.4 L343.0,600.3 L343.5,600.2 L344.0,600.0 L344.5,599.6 L345.0,599.1 L345.5,598.6 L346.0,598.1 L346.5,598.1 L347.0,598.3 L347.5,598.8 L348.0,599.4 L348.5,599.8 L349.0,600.0 L349.5,599.7 L350.0,599.5 L350.5,599.8 L351.0,600.2 L351.5,600.2 L352.0,600.0 L352.5,599.6 L353.0,599.3 L353.5,598.9 L354.0,598.7 L354.5,598.6 L355.0,598.7 L355.5,599.0 L356.0,599.4 L356.5,599.5 L357.0,599.4 L357.5,598.8 L358.0,598.1 L358.5,597.9 L359.0,598.5 L359.5,599.5 L360.0,600.2 L360.5,600.5 L361.0,600.4 L361.5,600.3 L362.0,600.4 L362.5,599.8 L363.0,595.6 L363.5,587.6 L364.0,575.4 L364.5,560.2 L365.0,543.9 L365.5,529.1 L366.0,518.2 L366.5,513.3 L367.0,515.1 L367.5,523.5 L368.0,536.8 L368.5,552.7 L369.0,568.7 L369.5,582.5 L370.0,592.5 L370.5,598.3 L371.0,599.5 L371.5,599.9 L372.0,600.1 L372.5,600.2 L373.0,600.5 L373.5,600.8 L374.0,600.9 L374.5,600.9 L375.0,600.9 L375.5,600.9 L376.0,600.9 L376.5,600.9 L377.0,600.9 L377.5,600.8 L378.0,600.5 L378.5,600.2 L379.0,598.9 L379.5,591.1 L380.0,575.4 L380.5,551.1 L381.0,520.0 L381.5,486.0 L382.0,454.4 L382.5,430.5 L383.0,418.5 L383.5,420.5 L384.0,436.3 L384.5,463.0 L385.0,495.9 L385.5,529.5 L386.0,558.9 L386.5,580.8 L387.0,594.1 L387.5,599.9 L388.0,600.9 L388.5,600.9 L389.0,600.9 L389.5,600.9 L390.0,600.9 L390.5,600.8 L391.0,600.7 L391.5,600.6 L392.0,600.4 L392.5,600.1 L393.0,599.9 L393.5,599.6 L394.0,599.5 L394.5,599.5 L395.0,599.6 L395.5,599.8 L396.0,600.1 L396.5,600.3 L397.0,600.5 L397.5,600.7 L398.0,600.8 L398.5,600.8 L399.0,600.6 L399.5,600.2 L400.0,599.8 L400.5,599.9 L401.0,600.1 L401.5,600.1 L402.0,600.1 L402.5,600.1 L403.0,600.3 L403.5,600.5 L404.0,600.6 L404.5,600.8 L405.0,600.1 L405.5,595.6 L406.0,585.4 L406.5,568.9 L407.0,546.9 L407.5,522.0 L408.0,497.8 L408.5,478.4 L409.0,467.2 L409.5,466.2 L410.0,475.6 L410.5,493.7 L411.0,517.3 L411.5,542.4 L412.0,565.2 L412.5,582.5 L413.0,591.6 L413.5,591.3 L414.0,582.7 L414.5,568.6 L415.0,551.9 L415.5,534.8 L416.0,520.3 L416.5,510.8 L417.0,508.1 L417.5,512.5 L418.0,523.4 L418.5,538.8 L419.0,555.9 L419.5,572.3 L420.0,585.5 L420.5,594.6 L421.0,599.4 L421.5,600.0 L422.0,600.3 L422.5,600.6 L423.0,600.8 L423.5,600.9 L424.0,600.9 L424.5,600.9 L425.0,600.9 L425.5,600.9 L426.0,600.9 L426.5,600.9 L427.0,600.8 L427.5,600.8 L428.0,600.7 L428.5,600.5 L429.0,600.4 L429.5,600.2 L430.0,600.1 L430.5,600.1 L431.0,600.0 L431.5,599.7 L432.0,599.2 L432.5,599.3 L433.0,599.7 L433.5,600.0 L434.0,599.9 L434.5,599.7 L435.0,599.7 L435.5,599.7 L436.0,599.8 L436.5,598.9 L437.0,593.4 L437.5,583.2 L438.0,568.5 L438.5,550.8 L439.0,532.3 L439.5,516.2 L440.0,505.1 L440.5,501.0 L441.0,504.7 L441.5,515.6 L442.0,531.5 L442.5,549.9 L443.0,567.8 L443.5,582.6 L444.0,593.0 L444.5,598.8 L445.0,600.8 L445.5,600.8 L446.0,600.9 L446.5,600.9 L447.0,600.9 L447.5,600.9 L448.0,600.9 L448.5,600.8 L449.0,600.7 L449.5,600.6 L450.0,600.3 L450.5,600.0 L451.0,599.6 L451.5,599.2 L452.0,598.8 L452.5,597.1 L453.0,591.0 L453.5,581.9 L454.0,570.5 L454.5,558.3 L455.0,547.2 L455.5,539.0 L456.0,535.2 L456.5,536.6 L457.0,542.8 L457.5,552.8 L458.0,564.7 L458.5,576.7 L459.0,587.1 L459.5,594.6 L460.0,599.0 L460.5,600.9 L461.0,600.9 L461.5,600.9 L462.0,600.8 L462.5,600.8 L463.0,600.6 L463.5,600.3 L464.0,600.0 L464.5,599.8 L465.0,599.8 L465.5,600.0 L466.0,600.2 L466.5,600.4 L467.0,600.3 L467.5,600.2 L468.0,600.1 L468.5,600.0 L469.0,600.0 L469.5,599.9 L470.0,599.0 L470.5,597.9 L471.0,596.8 L471.5,595.8 L472.0,594.9 L472.5,594.4 L473.0,594.2 L473.5,594.4 L474.0,594.9 L474.5,595.8 L475.0,596.8 L475.5,597.9 L476.0,598.5 L476.5,598.7 L477.0,599.0 L477.5,599.1 L478.0,598.9 L478.5,594.9 L479.0,584.4 L479.5,567.7 L480.0,545.9 L480.5,521.7 L481.0,498.6 L481.5,480.7 L482.0,470.9 L482.5,471.2 L483.0,481.4 L483.5,499.7 L484.0,522.9 L484.5,547.1 L485.0,568.7 L485.5,585.1 L486.0,595.3 L486.5,599.7 L487.0,599.3 L487.5,599.0 L488.0,598.7 L488.5,598.5 L489.0,598.5 L489.5,598.7 L490.0,599.0 L490.5,599.4 L491.0,599.9 L491.5,600.3 L492.0,600.5 L492.5,600.7 L493.0,600.8 L493.5,600.9 L494.0,600.9 L494.5,600.9 L495.0,600.9 L495.5,600.9 L496.0,600.7 L496.5,600.4 L497.0,600.1 L497.5,599.9 L498.0,600.0 L498.5,599.8 L499.0,599.2 L499.5,598.6 L500.0,598.4 L500.5,598.8 L501.0,599.3 L501.5,599.6 L502.0,599.8 L502.5,600.1 L503.0,600.5 L503.5,600.7 L504.0,600.7 L504.5,600.6 L505.0,600.5 L505.5,600.3 L506.0,599.8 L506.5,599.2 L507.0,598.7 L507.5,598.6 L508.0,598.7 L508.5,598.8 L509.0,598.8 L509.5,598.9 L510.0,599.1 L510.5,599.5 L511.0,599.8 L511.5,595.9 L512.0,587.2 L512.5,573.4 L513.0,555.4 L513.5,535.4 L514.0,516.5 L514.5,501.8 L515.0,493.9 L515.5,494.3 L516.0,502.8 L516.5,518.0 L517.0,537.1 L517.5,557.0 L518.0,574.7 L518.5,588.1 L519.0,596.4 L519.5,599.6 L520.0,599.8 L520.5,600.1 L521.0,600.3 L521.5,600.5 L522.0,600.6 L522.5,600.4 L523.0,600.1 L523.5,599.6 L524.0,599.3 L524.5,598.9 L525.0,598.5 L525.5,598.0 L526.0,597.8 L526.5,597.9 L527.0,593.2 L527.5,582.8 L528.0,567.7 L528.5,549.4 L529.0,530.4 L529.5,513.7 L530.0,502.1 L530.5,497.8 L531.0,501.5 L531.5,512.6 L532.0,529.1 L532.5,548.0 L533.0,566.5 L533.5,581.8 L534.0,592.3 L534.5,596.1 L535.0,592.2 L535.5,581.5 L536.0,565.9 L536.5,547.2 L537.0,528.0 L537.5,511.3 L538.0,500.0 L538.5,496.2 L539.0,500.6 L539.5,512.3 L540.0,529.3 L540.5,548.6 L541.0,567.2 L541.5,582.5 L542.0,593.1 L542.5,598.9 L543.0,599.6 L543.5,599.8 L544.0,600.0 L544.5,600.2 L545.0,600.4 L545.5,600.6 L546.0,600.7 L546.5,600.8 L547.0,600.8 L547.5,600.9 L548.0,600.9 L548.5,600.9 L549.0,600.9 L549.5,600.9 L550.0,600.9 L550.5,600.9 L551.0,600.9 L551.5,600.9 L552.0,600.9 L552.5,600.9 L553.0,600.9 L553.5,600.9 L554.0,600.9 L554.5,600.9 L555.0,600.9 L555.5,600.9 L556.0,600.9 L556.5,600.9 L557.0,600.9 L557.5,600.9 L558.0,600.9 L558.5,599.9 L559.0,595.4 L559.5,586.3 L560.0,572.0 L560.5,553.8 L561.0,533.8 L561.5,515.1 L562.0,500.9 L562.5,493.6 L563.0,494.7 L563.5,503.8 L564.0,519.4 L564.5,538.7 L565.0,558.5 L565.5,575.9 L566.0,589.0 L566.5,596.9 L567.0,600.1 L567.5,600.4 L568.0,600.6 L568.5,600.8 L569.0,600.8 L569.5,600.8 L570.0,600.8 L570.5,600.6 L571.0,600.1 L571.5,599.4 L572.0,599.1 L572.5,599.5 L573.0,600.0 L573.5,600.3 L574.0,600.4 L574.5,600.5 L575.0,600.5 L575.5,600.5 L576.0,600.4 L576.5,600.2 L577.0,599.9 L577.5,599.5 L578.0,599.2 L578.5,599.1 L579.0,599.2 L579.5,599.2 L580.0,599.1 L580.5,598.8 L581.0,598.1 L581.5,596.8 L582.0,595.4 L582.5,594.9 L583.0,595.7 L583.5,597.1 L584.0,598.4 L584.5,599.3 L585.0,599.8 L585.5,600.2 L586.0,600.4 L586.5,600.6 L587.0,600.7 L587.5,600.8 L588.0,600.9 L588.5,600.9 L589.0,600.9 L589.5,600.9 L590.0,600.8 L590.5,600.8 L591.0,600.7 L591.5,600.7 L592.0,600.6 L592.5,600.5 L593.0,600.5 L593.5,600.6 L594.0,600.6 L594.5,600.6 L595.0,600.5 L595.5,600.3 L596.0,600.0 L596.5,599.6 L597.0,599.4 L597.5,599.4 L598.0,599.5 L598.5,599.6 L599.0,599.6 L599.5,599.7 L600.0,599.9 L600.5,600.1 L601.0,597.0 L601.5,589.9 L602.0,578.6 L602.5,564.0 L603.0,547.8 L603.5,532.3 L604.0,520.3 L604.5,513.9 L605.0,514.1 L605.5,521.0 L606.0,533.3 L606.5,548.8 L607.0,565.1 L607.5,579.5 L608.0,590.5 L608.5,597.3 L609.0,600.4 L609.5,600.1 L610.0,599.6 L610.5,598.9 L611.0,598.3 L611.5,598.1 L612.0,598.5 L612.5,599.3 L613.0,600.0 L613.5,600.6 L614.0,600.8 L614.5,600.7 L615.0,600.3 L615.5,599.6 L616.0,599.2 L616.5,599.5 L617.0,599.2 L617.5,598.4 L618.0,597.6 L618.5,597.0 L619.0,596.5 L619.5,596.2 L620.0,596.2 L620.5,596.5 L621.0,597.1 L621.5,597.8 L622.0,598.3 L622.5,597.6 L623.0,597.4 L623.5,598.0 L624.0,599.0 L624.5,599.9 L625.0,600.3 L625.5,600.5 L626.0,600.5 L626.5,600.5 L627.0,600.4 L627.5,600.4 L628.0,600.3 L628.5,600.2 L629.0,600.1 L629.5,600.1 L630.0,600.1 L630.5,600.0 L631.0,599.9 L631.5,599.5 L632.0,598.8 L632.5,598.0 L633.0,597.2 L633.5,596.7 L634.0,596.7 L634.5,597.2 L635.0,596.3 L635.5,587.1 L636.0,572.0 L636.5,551.8 L637.0,528.8 L637.5,506.3 L638.0,488.2 L638.5,477.5 L639.0,476.2 L639.5,484.6 L640.0,501.1 L640.5,522.7 L641.0,546.0 L641.5,567.2 L642.0,583.7 L642.5,594.4 L643.0,599.6 L643.5,599.3 L644.0,599.0 L644.5,598.8 L645.0,598.7 L645.5,598.8 L646.0,599.0 L646.5,599.2 L647.0,599.4 L647.5,599.4 L648.0,599.3 L648.5,599.0 L649.0,598.7 L649.5,598.6 L650.0,598.5 L650.5,598.5 L651.0,598.7 L651.5,598.8 L652.0,598.8 L652.5,598.8 L653.0,598.8 L653.5,598.8 L654.0,598.7 L654.5,598.7 L655.0,598.8 L655.5,598.8 L656.0,599.0 L656.5,599.1 L657.0,599.2 L657.5,599.0 L658.0,598.4 L658.5,598.0 L659.0,598.3 L659.5,598.7 L660.0,599.1 L660.5,599.3 L661.0,599.6 L661.5,600.0 L662.0,600.3 L662.5,600.5 L663.0,600.6 L663.5,600.6 L664.0,600.5 L664.5,600.2 L665.0,599.6 L665.5,599.1 L666.0,599.0 L666.5,598.4 L667.0,595.8 L667.5,592.5 L668.0,588.8 L668.5,585.0 L669.0,581.7 L669.5,579.0 L670.0,577.5 L670.5,577.3 L671.0,578.3 L671.5,580.5 L672.0,583.6 L672.5,587.3 L673.0,591.1 L673.5,594.6 L674.0,597.5 L674.5,599.1 L675.0,599.4 L675.5,599.6 L676.0,597.7 L676.5,590.2 L677.0,577.4 L677.5,559.7 L678.0,539.0 L678.5,518.2 L679.0,500.7 L679.5,489.6 L680.0,486.8 L680.5,493.0 L681.0,506.8 L681.5,526.0 L682.0,547.1 L682.5,567.0 L683.0,583.0 L683.5,593.7 L684.0,598.7 L684.5,599.4 L685.0,599.8 L685.5,599.8 L686.0,599.8 L686.5,599.9 L687.0,600.2 L688,605.2 Z"/>
<path id="p3C" d="M-3,605.2 L-2.0,600.0 L-1.5,599.9 L-1.0,599.7 L-0.5,598.6 L0.0,592.3 L0.5,580.8 L1.0,564.3 L1.5,544.4 L2.0,523.7 L2.5,505.7 L3.0,493.3 L3.5,488.9 L4.0,493.2 L4.5,505.4 L5.0,523.4 L5.5,544.0 L6.0,564.0 L6.5,580.6 L7.0,592.2 L7.5,598.5 L8.0,600.9 L8.5,600.9 L9.0,600.9 L9.5,600.9 L10.0,600.9 L10.5,600.8 L11.0,600.7 L11.5,600.5 L12.0,600.2 L12.5,599.7 L13.0,599.5 L13.5,599.5 L14.0,599.8 L14.5,600.1 L15.0,600.4 L15.5,600.5 L16.0,600.5 L16.5,600.3 L17.0,599.9 L17.5,599.4 L18.0,599.0 L18.5,598.9 L19.0,599.1 L19.5,599.4 L20.0,599.8 L20.5,600.2 L21.0,600.4 L21.5,600.6 L22.0,600.7 L22.5,600.8 L23.0,600.9 L23.5,600.9 L24.0,600.9 L24.5,600.9 L25.0,600.9 L25.5,600.8 L26.0,600.6 L26.5,600.4 L27.0,599.9 L27.5,599.5 L28.0,599.3 L28.5,599.3 L29.0,599.6 L29.5,599.9 L30.0,600.1 L30.5,600.1 L31.0,600.0 L31.5,599.9 L32.0,599.8 L32.5,599.8 L33.0,599.9 L33.5,600.1 L34.0,600.3 L34.5,600.4 L35.0,600.4 L35.5,600.2 L36.0,600.1 L36.5,600.0 L37.0,600.0 L37.5,600.1 L38.0,600.2 L38.5,600.4 L39.0,600.5 L39.5,600.6 L40.0,600.7 L40.5,600.7 L41.0,600.7 L41.5,600.6 L42.0,600.4 L42.5,600.3 L43.0,600.2 L43.5,600.2 L44.0,600.3 L44.5,600.4 L45.0,600.5 L45.5,600.4 L46.0,600.0 L46.5,599.4 L47.0,599.0 L47.5,598.9 L48.0,599.3 L48.5,599.9 L49.0,599.9 L49.5,595.6 L50.0,586.6 L50.5,572.6 L51.0,554.6 L51.5,535.0 L52.0,516.5 L52.5,502.5 L53.0,495.3 L53.5,496.2 L54.0,505.2 L54.5,520.5 L55.0,539.5 L55.5,559.0 L56.0,576.2 L56.5,589.1 L57.0,596.9 L57.5,600.4 L58.0,600.6 L58.5,600.5 L59.0,600.5 L59.5,600.5 L60.0,600.5 L60.5,600.6 L61.0,600.7 L61.5,600.7 L62.0,600.8 L62.5,600.9 L63.0,600.9 L63.5,600.9 L64.0,600.9 L64.5,600.9 L65.0,600.9 L65.5,600.9 L66.0,600.9 L66.5,600.9 L67.0,600.9 L67.5,600.8 L68.0,600.5 L68.5,600.2 L69.0,599.8 L69.5,599.6 L70.0,599.6 L70.5,599.6 L71.0,599.6 L71.5,599.5 L72.0,599.4 L72.5,599.3 L73.0,599.2 L73.5,599.2 L74.0,599.1 L74.5,599.0 L75.0,598.9 L75.5,598.8 L76.0,598.9 L76.5,599.1 L77.0,599.4 L77.5,599.6 L78.0,599.7 L78.5,599.7 L79.0,599.6 L79.5,599.6 L80.0,599.5 L80.5,599.5 L81.0,599.5 L81.5,599.5 L82.0,599.3 L82.5,599.1 L83.0,598.8 L83.5,598.6 L84.0,598.7 L84.5,599.0 L85.0,599.5 L85.5,599.8 L86.0,599.9 L86.5,600.0 L87.0,600.2 L87.5,600.3 L88.0,600.3 L88.5,600.4 L89.0,600.3 L89.5,600.0 L90.0,600.1 L90.5,599.3 L91.0,593.9 L91.5,583.3 L92.0,567.6 L92.5,548.0 L93.0,527.2 L93.5,508.3 L94.0,494.5 L94.5,488.4 L95.0,491.1 L95.5,502.0 L96.0,519.2 L96.5,539.7 L97.0,560.1 L97.5,577.6 L98.0,590.3 L98.5,597.7 L99.0,599.9 L99.5,599.8 L100.0,599.7 L100.5,599.7 L101.0,599.8 L101.5,600.1 L102.0,600.4 L102.5,600.6 L103.0,600.8 L103.5,600.8 L104.0,600.7 L104.5,600.6 L105.0,600.4 L105.5,600.2 L106.0,599.9 L106.5,599.7 L107.0,599.6 L107.5,597.8 L108.0,589.9 L108.5,575.7 L109.0,555.4 L109.5,531.1 L110.0,506.2 L110.5,484.5 L111.0,469.9 L111.5,465.0 L112.0,470.7 L112.5,485.9 L113.0,508.0 L113.5,533.0 L114.0,557.1 L114.5,577.0 L115.0,590.7 L115.5,598.2 L116.0,600.0 L116.5,599.9 L117.0,599.9 L117.5,600.1 L118.0,600.3 L118.5,600.5 L119.0,600.7 L119.5,600.8 L120.0,600.9 L120.5,600.9 L121.0,600.8 L121.5,600.7 L122.0,600.6 L122.5,600.4 L123.0,600.4 L123.5,600.4 L124.0,600.5 L124.5,600.7 L125.0,600.8 L125.5,600.9 L126.0,600.9 L126.5,600.9 L127.0,600.9 L127.5,600.9 L128.0,600.9 L128.5,600.9 L129.0,600.9 L129.5,600.9 L130.0,600.9 L130.5,599.9 L131.0,595.2 L131.5,585.1 L132.0,569.2 L132.5,548.4 L133.0,525.4 L133.5,503.5 L134.0,486.4 L134.5,477.2 L135.0,477.6 L135.5,487.3 L136.0,504.8 L136.5,526.9 L137.0,549.9 L137.5,570.4 L138.0,586.0 L138.5,595.6 L139.0,600.1 L139.5,600.9 L140.0,600.9 L140.5,600.9 L141.0,600.9 L141.5,600.8 L142.0,600.5 L142.5,600.1 L143.0,599.3 L143.5,598.4 L144.0,597.7 L144.5,597.3 L145.0,597.4 L145.5,597.8 L146.0,598.3 L146.5,598.8 L147.0,599.3 L147.5,599.8 L148.0,600.1 L148.5,600.3 L149.0,600.2 L149.5,600.3 L150.0,600.5 L150.5,600.7 L151.0,600.8 L151.5,600.7 L152.0,600.5 L152.5,600.3 L153.0,600.0 L153.5,599.8 L154.0,599.7 L154.5,599.8 L155.0,600.0 L155.5,599.3 L156.0,593.9 L156.5,583.8 L157.0,568.8 L157.5,550.2 L158.0,530.5 L158.5,512.8 L159.0,500.1 L159.5,494.7 L160.0,497.6 L160.5,508.2 L161.0,524.6 L161.5,544.0 L162.0,563.3 L162.5,579.6 L163.0,591.3 L163.5,598.1 L164.0,600.5 L164.5,600.7 L165.0,600.8 L165.5,600.8 L166.0,600.8 L166.5,600.7 L167.0,600.5 L167.5,600.3 L168.0,600.1 L168.5,600.0 L169.0,599.8 L169.5,599.7 L170.0,599.8 L170.5,599.9 L171.0,600.2 L171.5,600.4 L172.0,600.7 L172.5,600.2 L173.0,595.9 L173.5,586.5 L174.0,571.4 L174.5,551.4 L175.0,528.9 L175.5,507.2 L176.0,490.0 L176.5,480.2 L177.0,479.7 L177.5,488.5 L178.0,505.0 L178.5,526.4 L179.0,549.0 L179.5,569.4 L180.0,585.1 L180.5,595.1 L181.0,599.9 L181.5,600.2 L182.0,600.2 L182.5,600.5 L183.0,600.7 L183.5,600.8 L184.0,600.8 L184.5,600.8 L185.0,600.6 L185.5,600.2 L186.0,599.8 L186.5,599.4 L187.0,599.2 L187.5,599.2 L188.0,599.4 L188.5,599.8 L189.0,600.1 L189.5,600.2 L190.0,600.1 L190.5,599.8 L191.0,599.3 L191.5,598.9 L192.0,598.8 L192.5,598.9 L193.0,598.9 L193.5,598.8 L194.0,598.6 L194.5,598.5 L195.0,598.6 L195.5,598.8 L196.0,598.5 L196.5,591.8 L197.0,579.3 L197.5,561.3 L198.0,539.3 L198.5,516.3 L199.0,496.0 L199.5,481.9 L200.0,476.5 L200.5,480.8 L201.0,494.0 L201.5,513.7 L202.0,536.5 L202.5,558.8 L203.0,577.5 L203.5,590.6 L204.0,598.0 L204.5,600.7 L205.0,600.8 L205.5,600.8 L206.0,600.9 L206.5,600.9 L207.0,600.9 L207.5,600.9 L208.0,600.9 L208.5,600.9 L209.0,600.9 L209.5,600.9 L210.0,600.9 L210.5,600.9 L211.0,600.9 L211.5,600.9 L212.0,600.9 L212.5,600.8 L213.0,600.6 L213.5,600.3 L214.0,600.3 L214.5,600.5 L215.0,600.5 L215.5,600.3 L216.0,599.8 L216.5,599.5 L217.0,599.6 L217.5,599.9 L218.0,600.0 L218.5,599.8 L219.0,599.3 L219.5,598.8 L220.0,598.2 L220.5,597.5 L221.0,597.1 L221.5,597.2 L222.0,597.8 L222.5,598.5 L223.0,599.0 L223.5,599.4 L224.0,599.7 L224.5,599.8 L225.0,599.7 L225.5,599.6 L226.0,599.5 L226.5,599.5 L227.0,599.4 L227.5,599.3 L228.0,599.2 L228.5,599.1 L229.0,599.2 L229.5,599.4 L230.0,599.7 L230.5,599.8 L231.0,599.7 L231.5,599.6 L232.0,599.4 L232.5,599.3 L233.0,599.1 L233.5,598.9 L234.0,598.8 L234.5,598.6 L235.0,598.4 L235.5,598.3 L236.0,598.4 L236.5,598.6 L237.0,599.0 L237.5,599.5 L238.0,599.9 L238.5,600.2 L239.0,600.3 L239.5,600.3 L240.0,600.1 L240.5,599.7 L241.0,599.5 L241.5,599.4 L242.0,599.6 L242.5,599.9 L243.0,600.2 L243.5,600.5 L244.0,600.6 L244.5,600.4 L245.0,600.1 L245.5,599.8 L246.0,599.8 L246.5,600.2 L247.0,600.5 L247.5,600.4 L248.0,600.2 L248.5,599.9 L249.0,599.7 L249.5,599.7 L250.0,600.0 L250.5,600.3 L251.0,600.5 L251.5,600.5 L252.0,600.4 L252.5,600.3 L253.0,600.2 L253.5,600.0 L254.0,599.5 L254.5,599.1 L255.0,598.8 L255.5,598.8 L256.0,599.0 L256.5,599.4 L257.0,599.6 L257.5,599.9 L258.0,600.1 L258.5,600.3 L259.0,600.5 L259.5,600.7 L260.0,600.8 L260.5,600.8 L261.0,600.9 L261.5,600.9 L262.0,600.9 L262.5,600.9 L263.0,600.9 L263.5,600.9 L264.0,600.9 L264.5,600.9 L265.0,600.9 L265.5,600.9 L266.0,600.9 L266.5,600.9 L267.0,600.9 L267.5,600.9 L268.0,600.9 L268.5,600.8 L269.0,600.7 L269.5,600.4 L270.0,600.1 L270.5,599.8 L271.0,599.6 L271.5,599.7 L272.0,599.9 L272.5,600.1 L273.0,600.3 L273.5,600.3 L274.0,600.2 L274.5,600.1 L275.0,600.0 L275.5,600.0 L276.0,600.0 L276.5,600.2 L277.0,600.3 L277.5,600.5 L278.0,600.6 L278.5,600.8 L279.0,600.8 L279.5,600.9 L280.0,600.9 L280.5,600.9 L281.0,600.8 L281.5,600.5 L282.0,600.1 L282.5,599.8 L283.0,599.7 L283.5,599.9 L284.0,600.3 L284.5,600.5 L285.0,600.6 L285.5,600.5 L286.0,600.3 L286.5,600.1 L287.0,599.9 L287.5,600.0 L288.0,600.1 L288.5,600.3 L289.0,600.5 L289.5,600.6 L290.0,600.6 L290.5,600.5 L291.0,600.3 L291.5,600.1 L292.0,599.9 L292.5,599.8 L293.0,599.7 L293.5,599.7 L294.0,599.8 L294.5,599.8 L295.0,599.7 L295.5,599.6 L296.0,599.5 L296.5,599.4 L297.0,599.5 L297.5,599.6 L298.0,599.8 L298.5,600.0 L299.0,600.0 L299.5,600.0 L300.0,599.8 L300.5,599.7 L301.0,599.6 L301.5,599.7 L302.0,599.9 L302.5,600.1 L303.0,600.3 L303.5,600.4 L304.0,600.4 L304.5,600.5 L305.0,600.5 L305.5,600.5 L306.0,600.4 L306.5,600.2 L307.0,600.0 L307.5,599.6 L308.0,599.2 L308.5,598.9 L309.0,598.9 L309.5,598.9 L310.0,599.0 L310.5,599.1 L311.0,599.1 L311.5,599.1 L312.0,599.3 L312.5,599.6 L313.0,599.9 L313.5,600.2 L314.0,600.3 L314.5,600.3 L315.0,600.1 L315.5,599.9 L316.0,600.0 L316.5,600.3 L317.0,600.6 L317.5,600.8 L318.0,600.9 L318.5,600.9 L319.0,600.9 L319.5,600.8 L320.0,600.6 L320.5,599.9 L321.0,599.0 L321.5,598.7 L322.0,599.1 L322.5,599.6 L323.0,599.8 L323.5,599.7 L324.0,599.6 L324.5,599.6 L325.0,599.7 L325.5,599.7 L326.0,599.7 L326.5,599.8 L327.0,599.9 L327.5,600.0 L328.0,600.2 L328.5,600.4 L329.0,600.6 L329.5,600.6 L330.0,600.5 L330.5,600.4 L331.0,600.2 L331.5,600.1 L332.0,600.0 L332.5,600.0 L333.0,600.0 L333.5,600.1 L334.0,600.1 L334.5,600.2 L335.0,600.2 L335.5,600.2 L336.0,600.2 L336.5,600.2 L337.0,600.1 L337.5,600.1 L338.0,599.9 L338.5,599.6 L339.0,599.4 L339.5,599.8 L340.0,600.4 L340.5,600.7 L341.0,600.9 L341.5,600.9 L342.0,600.9 L342.5,600.9 L343.0,600.9 L343.5,600.8 L344.0,600.7 L344.5,600.3 L345.0,599.7 L345.5,599.2 L346.0,599.0 L346.5,598.8 L347.0,598.9 L347.5,599.3 L348.0,599.8 L348.5,599.9 L349.0,599.9 L349.5,599.7 L350.0,599.6 L350.5,599.4 L351.0,599.3 L351.5,599.2 L352.0,599.2 L352.5,599.4 L353.0,599.5 L353.5,599.7 L354.0,599.7 L354.5,598.5 L355.0,593.5 L355.5,585.1 L356.0,573.8 L356.5,560.8 L357.0,548.1 L357.5,537.7 L358.0,531.5 L358.5,530.6 L359.0,535.1 L359.5,544.3 L360.0,556.5 L360.5,569.6 L361.0,581.6 L361.5,591.1 L362.0,597.2 L362.5,600.3 L363.0,600.5 L363.5,600.3 L364.0,600.1 L364.5,599.9 L365.0,599.8 L365.5,599.7 L366.0,599.8 L366.5,600.0 L367.0,600.3 L367.5,600.5 L368.0,600.7 L368.5,600.8 L369.0,600.8 L369.5,600.8 L370.0,600.8 L370.5,600.8 L371.0,600.7 L371.5,600.6 L372.0,600.6 L372.5,600.6 L373.0,600.7 L373.5,600.8 L374.0,600.8 L374.5,600.9 L375.0,600.9 L375.5,600.8 L376.0,600.6 L376.5,600.2 L377.0,599.7 L377.5,599.4 L378.0,599.3 L378.5,599.3 L379.0,599.4 L379.5,599.5 L380.0,599.6 L380.5,599.6 L381.0,599.7 L381.5,599.9 L382.0,600.1 L382.5,600.1 L383.0,600.3 L383.5,600.5 L384.0,600.7 L384.5,600.7 L385.0,600.5 L385.5,600.2 L386.0,600.2 L386.5,600.5 L387.0,600.7 L387.5,600.9 L388.0,600.9 L388.5,600.9 L389.0,600.9 L389.5,600.9 L390.0,600.9 L390.5,600.8 L391.0,600.6 L391.5,600.4 L392.0,600.0 L392.5,599.7 L393.0,599.5 L393.5,599.5 L394.0,599.5 L394.5,599.5 L395.0,599.4 L395.5,599.3 L396.0,599.1 L396.5,599.0 L397.0,599.0 L397.5,599.2 L398.0,599.3 L398.5,599.3 L399.0,599.1 L399.5,598.6 L400.0,598.3 L400.5,598.4 L401.0,598.8 L401.5,599.1 L402.0,599.4 L402.5,599.6 L403.0,599.7 L403.5,599.8 L404.0,599.8 L404.5,599.8 L405.0,599.8 L405.5,599.8 L406.0,599.9 L406.5,600.1 L407.0,600.2 L407.5,600.3 L408.0,600.3 L408.5,600.3 L409.0,600.3 L409.5,600.3 L410.0,600.4 L410.5,600.5 L411.0,600.6 L411.5,600.7 L412.0,600.8 L412.5,600.8 L413.0,600.9 L413.5,600.9 L414.0,600.9 L414.5,600.9 L415.0,600.9 L415.5,600.9 L416.0,600.9 L416.5,600.8 L417.0,600.8 L417.5,600.7 L418.0,600.6 L418.5,600.5 L419.0,600.3 L419.5,600.1 L420.0,597.9 L420.5,590.4 L421.0,577.3 L421.5,558.9 L422.0,537.0 L422.5,514.7 L423.0,495.7 L423.5,483.2 L424.0,479.4 L424.5,485.1 L425.0,499.2 L425.5,519.2 L426.0,541.7 L426.5,563.1 L427.0,580.5 L427.5,592.4 L428.0,598.6 L428.5,598.7 L429.0,599.0 L429.5,599.2 L430.0,599.5 L430.5,599.8 L431.0,600.0 L431.5,600.2 L432.0,600.3 L432.5,600.4 L433.0,600.5 L433.5,600.6 L434.0,600.6 L434.5,600.6 L435.0,600.6 L435.5,600.4 L436.0,600.3 L436.5,600.1 L437.0,599.9 L437.5,599.7 L438.0,599.5 L438.5,599.2 L439.0,599.0 L439.5,598.9 L440.0,599.0 L440.5,599.3 L441.0,599.4 L441.5,599.5 L442.0,599.5 L442.5,599.4 L443.0,599.4 L443.5,599.4 L444.0,599.5 L444.5,594.0 L445.0,582.9 L445.5,566.0 L446.0,544.6 L446.5,521.4 L447.0,499.9 L447.5,483.8 L448.0,476.0 L448.5,477.9 L449.0,489.1 L449.5,507.6 L450.0,530.1 L450.5,553.1 L451.0,573.0 L451.5,587.8 L452.0,596.6 L452.5,600.3 L453.0,600.3 L453.5,600.4 L454.0,600.4 L454.5,600.4 L455.0,600.3 L455.5,600.1 L456.0,599.8 L456.5,599.5 L457.0,599.4 L457.5,599.4 L458.0,599.4 L458.5,599.5 L459.0,599.5 L459.5,599.5 L460.0,599.7 L460.5,600.1 L461.0,600.5 L461.5,600.7 L462.0,600.7 L462.5,600.7 L463.0,600.5 L463.5,600.1 L464.0,599.7 L464.5,599.5 L465.0,599.9 L465.5,600.5 L466.0,600.8 L466.5,600.8 L467.0,600.7 L467.5,600.4 L468.0,600.0 L468.5,599.5 L469.0,599.1 L469.5,599.1 L470.0,599.3 L470.5,599.6 L471.0,600.0 L471.5,600.4 L472.0,600.7 L472.5,600.8 L473.0,600.9 L473.5,600.9 L474.0,600.9 L474.5,600.9 L475.0,600.9 L475.5,600.9 L476.0,600.9 L476.5,600.9 L477.0,600.9 L477.5,600.9 L478.0,600.9 L478.5,600.9 L479.0,600.9 L479.5,600.9 L480.0,600.9 L480.5,600.9 L481.0,600.8 L481.5,600.7 L482.0,600.3 L482.5,599.9 L483.0,599.7 L483.5,599.9 L484.0,600.3 L484.5,600.6 L485.0,600.8 L485.5,600.9 L486.0,600.9 L486.5,600.9 L487.0,600.9 L487.5,600.9 L488.0,600.9 L488.5,600.9 L489.0,600.9 L489.5,600.9 L490.0,600.9 L490.5,600.9 L491.0,600.9 L491.5,600.9 L492.0,600.9 L492.5,600.9 L493.0,600.9 L493.5,600.8 L494.0,600.6 L494.5,598.5 L495.0,592.1 L495.5,580.5 L496.0,564.1 L496.5,544.4 L497.0,524.2 L497.5,506.6 L498.0,494.8 L498.5,490.8 L499.0,495.4 L499.5,507.8 L500.0,525.6 L500.5,545.9 L501.0,565.5 L501.5,581.6 L502.0,592.7 L502.5,598.5 L503.0,599.4 L503.5,599.9 L504.0,600.2 L504.5,600.2 L505.0,600.2 L505.5,600.2 L506.0,600.2 L506.5,600.2 L507.0,600.0 L507.5,599.7 L508.0,599.7 L508.5,600.0 L509.0,600.5 L509.5,600.8 L510.0,600.9 L510.5,600.8 L511.0,600.7 L511.5,600.6 L512.0,600.6 L512.5,600.7 L513.0,600.8 L513.5,600.9 L514.0,600.9 L514.5,600.9 L515.0,600.9 L515.5,600.9 L516.0,600.9 L516.5,600.9 L517.0,600.9 L517.5,600.9 L518.0,600.8 L518.5,600.8 L519.0,600.7 L519.5,600.3 L520.0,599.7 L520.5,599.4 L521.0,599.6 L521.5,600.0 L522.0,600.2 L522.5,600.2 L523.0,600.3 L523.5,600.4 L524.0,600.5 L524.5,600.6 L525.0,600.7 L525.5,600.8 L526.0,600.8 L526.5,600.8 L527.0,600.8 L527.5,600.7 L528.0,600.5 L528.5,600.2 L529.0,599.9 L529.5,599.5 L530.0,599.0 L530.5,598.7 L531.0,598.5 L531.5,598.4 L532.0,598.5 L532.5,598.8 L533.0,599.0 L533.5,599.1 L534.0,599.2 L534.5,599.3 L535.0,599.4 L535.5,599.7 L536.0,600.0 L536.5,600.3 L537.0,600.4 L537.5,600.3 L538.0,600.0 L538.5,599.6 L539.0,599.4 L539.5,599.4 L540.0,599.6 L540.5,599.7 L541.0,599.9 L541.5,600.0 L542.0,600.2 L542.5,600.3 L543.0,600.5 L543.5,600.6 L544.0,600.7 L544.5,600.7 L545.0,600.7 L545.5,600.6 L546.0,600.5 L546.5,600.5 L547.0,600.5 L547.5,600.4 L548.0,600.2 L548.5,599.9 L549.0,599.6 L549.5,599.3 L550.0,599.2 L550.5,599.3 L551.0,599.4 L551.5,599.7 L552.0,600.0 L552.5,600.3 L553.0,600.5 L553.5,600.7 L554.0,600.8 L554.5,600.8 L555.0,600.9 L555.5,600.9 L556.0,600.9 L556.5,600.9 L557.0,600.9 L557.5,600.8 L558.0,600.6 L558.5,600.2 L559.0,599.8 L559.5,599.7 L560.0,599.8 L560.5,599.8 L561.0,599.7 L561.5,599.6 L562.0,599.7 L562.5,600.0 L563.0,600.2 L563.5,600.2 L564.0,600.3 L564.5,600.4 L565.0,600.5 L565.5,600.5 L566.0,600.6 L566.5,600.7 L567.0,600.7 L567.5,600.8 L568.0,600.8 L568.5,600.9 L569.0,600.9 L569.5,600.9 L570.0,600.9 L570.5,600.9 L571.0,600.9 L571.5,600.9 L572.0,600.9 L572.5,600.9 L573.0,600.9 L573.5,600.9 L574.0,600.8 L574.5,600.8 L575.0,600.7 L575.5,600.5 L576.0,600.2 L576.5,599.9 L577.0,599.7 L577.5,599.7 L578.0,599.9 L578.5,600.2 L579.0,600.4 L579.5,600.5 L580.0,600.6 L580.5,600.5 L581.0,600.3 L581.5,600.0 L582.0,599.6 L582.5,599.2 L583.0,598.9 L583.5,598.9 L584.0,599.3 L584.5,599.8 L585.0,600.2 L585.5,600.1 L586.0,599.5 L586.5,599.0 L587.0,599.0 L587.5,599.7 L588.0,600.4 L588.5,600.7 L589.0,600.8 L589.5,600.9 L590.0,600.9 L590.5,600.9 L591.0,600.9 L591.5,600.8 L592.0,600.5 L592.5,600.1 L593.0,599.5 L593.5,599.1 L594.0,599.1 L594.5,599.4 L595.0,599.7 L595.5,599.9 L596.0,599.9 L596.5,599.9 L597.0,599.9 L597.5,599.9 L598.0,600.0 L598.5,600.1 L599.0,600.3 L599.5,600.5 L600.0,600.6 L600.5,600.7 L601.0,600.8 L601.5,600.8 L602.0,600.7 L602.5,600.4 L603.0,600.2 L603.5,600.1 L604.0,600.2 L604.5,600.4 L605.0,600.7 L605.5,600.8 L606.0,600.9 L606.5,600.9 L607.0,600.9 L607.5,600.9 L608.0,600.7 L608.5,597.8 L609.0,591.1 L609.5,579.5 L610.0,563.8 L610.5,545.4 L611.0,527.2 L611.5,512.1 L612.0,502.6 L612.5,500.6 L613.0,506.4 L613.5,518.9 L614.0,535.9 L614.5,554.6 L615.0,571.9 L615.5,585.8 L616.0,594.9 L616.5,599.6 L617.0,599.9 L617.5,600.0 L618.0,600.1 L618.5,600.3 L619.0,600.5 L619.5,600.5 L620.0,600.3 L620.5,600.0 L621.0,599.7 L621.5,599.5 L622.0,599.5 L622.5,599.5 L623.0,599.4 L623.5,599.2 L624.0,599.1 L624.5,599.1 L625.0,599.3 L625.5,599.6 L626.0,599.9 L626.5,600.1 L627.0,600.4 L627.5,600.6 L628.0,600.7 L628.5,600.8 L629.0,600.9 L629.5,600.9 L630.0,600.9 L630.5,600.9 L631.0,600.9 L631.5,600.9 L632.0,600.9 L632.5,600.9 L633.0,600.9 L633.5,600.8 L634.0,600.8 L634.5,600.6 L635.0,600.4 L635.5,600.1 L636.0,599.6 L636.5,599.2 L637.0,599.2 L637.5,599.4 L638.0,599.9 L638.5,600.3 L639.0,600.5 L639.5,600.6 L640.0,600.4 L640.5,600.2 L641.0,600.1 L641.5,600.3 L642.0,600.5 L642.5,600.4 L643.0,600.2 L643.5,599.9 L644.0,599.8 L644.5,599.7 L645.0,599.8 L645.5,599.9 L646.0,600.1 L646.5,600.3 L647.0,600.4 L647.5,600.3 L648.0,600.1 L648.5,599.7 L649.0,599.2 L649.5,599.2 L650.0,599.8 L650.5,600.4 L651.0,600.7 L651.5,600.7 L652.0,600.7 L652.5,600.6 L653.0,600.6 L653.5,600.7 L654.0,600.8 L654.5,600.8 L655.0,600.8 L655.5,600.7 L656.0,600.6 L656.5,600.5 L657.0,600.4 L657.5,600.3 L658.0,600.2 L658.5,599.9 L659.0,595.2 L659.5,585.4 L660.0,570.2 L660.5,550.5 L661.0,528.9 L661.5,508.6 L662.0,493.0 L662.5,484.9 L663.0,485.7 L663.5,495.4 L664.0,512.1 L664.5,532.9 L665.0,554.4 L665.5,573.4 L666.0,587.6 L666.5,596.4 L667.0,600.3 L667.5,600.2 L668.0,599.9 L668.5,600.0 L669.0,600.4 L669.5,600.7 L670.0,600.9 L670.5,600.8 L671.0,600.8 L671.5,600.7 L672.0,600.5 L672.5,600.3 L673.0,599.9 L673.5,599.6 L674.0,599.4 L674.5,599.4 L675.0,599.3 L675.5,599.4 L676.0,599.7 L676.5,600.2 L677.0,600.6 L677.5,600.8 L678.0,600.9 L678.5,600.9 L679.0,600.9 L679.5,600.9 L680.0,600.9 L680.5,600.9 L681.0,600.9 L681.5,600.9 L682.0,600.9 L682.5,600.9 L683.0,600.9 L683.5,600.9 L684.0,600.9 L684.5,600.9 L685.0,600.8 L685.5,600.8 L686.0,600.7 L686.5,600.7 L687.0,600.6 L688,605.2 Z"/>
<path id="p3T" d="M-3,605.2 L-2.0,600.6 L-1.5,600.5 L-1.0,600.6 L-0.5,600.6 L0.0,600.5 L0.5,600.3 L1.0,599.9 L1.5,599.2 L2.0,598.3 L2.5,597.5 L3.0,597.0 L3.5,597.1 L4.0,597.8 L4.5,598.7 L5.0,599.5 L5.5,599.9 L6.0,599.9 L6.5,599.6 L7.0,599.3 L7.5,599.2 L8.0,599.5 L8.5,600.0 L9.0,600.5 L9.5,600.7 L10.0,600.9 L10.5,600.9 L11.0,600.9 L11.5,600.9 L12.0,600.9 L12.5,600.9 L13.0,600.9 L13.5,600.8 L14.0,600.8 L14.5,600.6 L15.0,600.3 L15.5,599.9 L16.0,599.4 L16.5,598.7 L17.0,598.0 L17.5,597.5 L18.0,597.2 L18.5,597.2 L19.0,597.6 L19.5,598.1 L20.0,598.6 L20.5,599.1 L21.0,599.4 L21.5,599.5 L22.0,599.5 L22.5,599.3 L23.0,599.1 L23.5,599.0 L24.0,598.8 L24.5,598.8 L25.0,598.8 L25.5,598.8 L26.0,598.8 L26.5,598.8 L27.0,599.0 L27.5,599.3 L28.0,599.7 L28.5,600.0 L29.0,600.2 L29.5,600.1 L30.0,600.0 L30.5,599.8 L31.0,599.5 L31.5,599.4 L32.0,599.5 L32.5,599.6 L33.0,599.7 L33.5,599.7 L34.0,599.6 L34.5,599.7 L35.0,600.1 L35.5,600.5 L36.0,600.7 L36.5,600.9 L37.0,600.9 L37.5,600.9 L38.0,600.9 L38.5,600.9 L39.0,600.9 L39.5,600.9 L40.0,600.9 L40.5,600.8 L41.0,600.7 L41.5,600.6 L42.0,600.4 L42.5,600.3 L43.0,600.2 L43.5,600.3 L44.0,600.4 L44.5,600.5 L45.0,600.6 L45.5,600.8 L46.0,600.8 L46.5,600.9 L47.0,600.9 L47.5,600.9 L48.0,600.9 L48.5,600.8 L49.0,600.8 L49.5,600.7 L50.0,600.6 L50.5,600.3 L51.0,600.1 L51.5,599.8 L52.0,599.7 L52.5,599.9 L53.0,600.0 L53.5,599.7 L54.0,599.0 L54.5,598.4 L55.0,598.4 L55.5,599.0 L56.0,599.5 L56.5,599.6 L57.0,599.4 L57.5,599.1 L58.0,596.1 L58.5,586.8 L59.0,571.8 L59.5,551.8 L60.0,529.2 L60.5,507.3 L61.0,489.8 L61.5,479.7 L62.0,478.9 L62.5,487.5 L63.0,503.9 L63.5,525.3 L64.0,548.1 L64.5,568.7 L65.0,584.7 L65.5,594.9 L66.0,599.3 L66.5,597.5 L67.0,590.0 L67.5,577.2 L68.0,559.5 L68.5,538.8 L69.0,518.2 L69.5,500.9 L70.0,490.0 L70.5,487.5 L71.0,493.8 L71.5,507.7 L72.0,526.9 L72.5,547.9 L73.0,567.6 L73.5,583.4 L74.0,593.9 L74.5,599.3 L75.0,599.7 L75.5,599.3 L76.0,598.7 L76.5,598.2 L77.0,597.8 L77.5,597.6 L78.0,597.8 L78.5,598.2 L79.0,598.7 L79.5,599.1 L80.0,599.3 L80.5,599.3 L81.0,599.4 L81.5,599.6 L82.0,599.9 L82.5,600.3 L83.0,600.6 L83.5,600.7 L84.0,600.8 L84.5,600.8 L85.0,600.6 L85.5,599.8 L86.0,598.6 L86.5,598.0 L87.0,598.3 L87.5,599.3 L88.0,600.2 L88.5,600.5 L89.0,600.4 L89.5,600.0 L90.0,599.6 L90.5,599.3 L91.0,599.3 L91.5,599.5 L92.0,599.8 L92.5,600.1 L93.0,600.3 L93.5,600.6 L94.0,600.7 L94.5,600.8 L95.0,600.7 L95.5,600.5 L96.0,600.3 L96.5,600.1 L97.0,600.0 L97.5,600.0 L98.0,600.2 L98.5,600.4 L99.0,599.7 L99.5,594.5 L100.0,583.7 L100.5,567.0 L101.0,545.4 L101.5,521.6 L102.0,499.4 L102.5,482.3 L103.0,473.5 L103.5,474.5 L104.0,485.1 L104.5,503.5 L105.0,526.4 L105.5,550.0 L106.0,570.8 L106.5,586.4 L107.0,595.9 L107.5,598.3 L108.0,599.1 L108.5,599.6 L109.0,599.9 L109.5,599.9 L110.0,599.7 L110.5,599.5 L111.0,599.5 L111.5,599.7 L112.0,599.9 L112.5,599.9 L113.0,599.9 L113.5,599.7 L114.0,599.3 L114.5,598.9 L115.0,598.5 L115.5,598.5 L116.0,599.0 L116.5,599.7 L117.0,600.3 L117.5,600.7 L118.0,600.8 L118.5,600.9 L119.0,600.9 L119.5,600.9 L120.0,600.9 L120.5,600.9 L121.0,600.9 L121.5,600.8 L122.0,600.7 L122.5,600.6 L123.0,600.3 L123.5,599.9 L124.0,599.4 L124.5,598.8 L125.0,598.0 L125.5,597.2 L126.0,596.3 L126.5,595.8 L127.0,595.9 L127.5,596.6 L128.0,597.3 L128.5,597.9 L129.0,598.3 L129.5,598.7 L130.0,598.9 L130.5,599.0 L131.0,599.0 L131.5,599.1 L132.0,599.3 L132.5,599.6 L133.0,599.9 L133.5,600.2 L134.0,600.3 L134.5,600.4 L135.0,600.5 L135.5,600.4 L136.0,600.3 L136.5,599.9 L137.0,599.3 L137.5,598.6 L138.0,598.5 L138.5,599.0 L139.0,599.9 L139.5,600.5 L140.0,600.7 L140.5,600.8 L141.0,600.9 L141.5,600.9 L142.0,600.8 L142.5,600.4 L143.0,600.0 L143.5,599.9 L144.0,600.2 L144.5,600.6 L145.0,600.8 L145.5,600.9 L146.0,600.8 L146.5,600.6 L147.0,600.2 L147.5,599.8 L148.0,599.8 L148.5,600.0 L149.0,599.8 L149.5,599.3 L150.0,598.8 L150.5,598.7 L151.0,598.9 L151.5,599.3 L152.0,599.6 L152.5,599.6 L153.0,599.3 L153.5,598.9 L154.0,598.8 L154.5,599.0 L155.0,599.5 L155.5,600.0 L156.0,600.5 L156.5,600.7 L157.0,600.8 L157.5,600.9 L158.0,600.9 L158.5,600.9 L159.0,600.9 L159.5,600.9 L160.0,600.9 L160.5,600.9 L161.0,600.9 L161.5,600.9 L162.0,600.9 L162.5,600.9 L163.0,600.9 L163.5,600.9 L164.0,600.9 L164.5,600.3 L165.0,596.0 L165.5,586.3 L166.0,570.4 L166.5,549.0 L167.0,524.7 L167.5,501.0 L168.0,481.9 L168.5,470.6 L169.0,469.2 L169.5,478.1 L170.0,495.5 L170.5,518.4 L171.0,542.9 L171.5,565.3 L172.0,582.8 L172.5,594.0 L173.0,599.6 L173.5,599.9 L174.0,599.0 L174.5,598.7 L175.0,599.2 L175.5,600.1 L176.0,600.7 L176.5,600.9 L177.0,600.9 L177.5,600.9 L178.0,600.9 L178.5,600.9 L179.0,600.9 L179.5,600.9 L180.0,600.9 L180.5,600.9 L181.0,600.9 L181.5,600.9 L182.0,600.9 L182.5,600.9 L183.0,600.9 L183.5,600.9 L184.0,600.9 L184.5,600.9 L185.0,600.9 L185.5,600.9 L186.0,600.8 L186.5,600.6 L187.0,600.3 L187.5,599.7 L188.0,599.0 L188.5,598.5 L189.0,598.3 L189.5,598.6 L190.0,599.0 L190.5,599.5 L191.0,600.0 L191.5,600.2 L192.0,600.5 L192.5,600.6 L193.0,600.6 L193.5,600.5 L194.0,600.2 L194.5,599.5 L195.0,598.0 L195.5,596.1 L196.0,595.2 L196.5,595.7 L197.0,596.5 L197.5,596.9 L198.0,597.1 L198.5,597.1 L199.0,597.2 L199.5,597.5 L200.0,597.9 L200.5,598.3 L201.0,598.7 L201.5,599.2 L202.0,599.7 L202.5,600.2 L203.0,600.6 L203.5,600.8 L204.0,600.9 L204.5,600.9 L205.0,600.9 L205.5,600.9 L206.0,600.9 L206.5,600.8 L207.0,600.7 L207.5,600.2 L208.0,599.3 L208.5,598.4 L209.0,597.9 L209.5,597.6 L210.0,597.3 L210.5,597.2 L211.0,597.5 L211.5,598.0 L212.0,598.8 L212.5,599.4 L213.0,599.9 L213.5,600.2 L214.0,600.3 L214.5,600.3 L215.0,600.1 L215.5,599.9 L216.0,599.8 L216.5,599.7 L217.0,599.6 L217.5,599.5 L218.0,599.2 L218.5,599.3 L219.0,599.8 L219.5,600.4 L220.0,600.7 L220.5,600.8 L221.0,600.8 L221.5,600.9 L222.0,600.9 L222.5,600.9 L223.0,600.9 L223.5,600.9 L224.0,600.9 L224.5,600.9 L225.0,600.9 L225.5,600.8 L226.0,600.6 L226.5,600.4 L227.0,600.3 L227.5,600.4 L228.0,600.5 L228.5,600.6 L229.0,600.6 L229.5,600.4 L230.0,600.2 L230.5,599.9 L231.0,599.7 L231.5,599.5 L232.0,599.4 L232.5,599.4 L233.0,599.5 L233.5,599.7 L234.0,600.0 L234.5,600.2 L235.0,600.5 L235.5,600.6 L236.0,600.7 L236.5,600.8 L237.0,600.9 L237.5,600.9 L238.0,600.9 L238.5,600.8 L239.0,600.7 L239.5,600.6 L240.0,600.5 L240.5,600.3 L241.0,600.1 L241.5,599.6 L242.0,598.9 L242.5,598.7 L243.0,599.1 L243.5,599.9 L244.0,600.5 L244.5,600.6 L245.0,600.4 L245.5,600.2 L246.0,600.0 L246.5,599.7 L247.0,599.6 L247.5,599.6 L248.0,599.7 L248.5,599.8 L249.0,599.9 L249.5,599.8 L250.0,599.6 L250.5,599.4 L251.0,599.3 L251.5,599.2 L252.0,599.3 L252.5,599.4 L253.0,599.2 L253.5,594.1 L254.0,584.4 L254.5,570.4 L255.0,553.2 L255.5,535.2 L256.0,519.3 L256.5,508.0 L257.0,503.6 L257.5,506.7 L258.0,516.8 L258.5,532.2 L259.0,550.0 L259.5,567.5 L260.0,582.3 L260.5,592.7 L261.0,598.6 L261.5,600.6 L262.0,600.6 L262.5,600.5 L263.0,600.2 L263.5,600.0 L264.0,599.6 L264.5,599.3 L265.0,599.0 L265.5,598.7 L266.0,598.5 L266.5,598.1 L267.0,597.7 L267.5,597.3 L268.0,597.0 L268.5,597.0 L269.0,597.2 L269.5,597.6 L270.0,598.1 L270.5,598.7 L271.0,599.3 L271.5,599.9 L272.0,600.3 L272.5,600.6 L273.0,600.7 L273.5,600.5 L274.0,600.2 L274.5,599.8 L275.0,599.7 L275.5,599.9 L276.0,600.3 L276.5,600.7 L277.0,600.8 L277.5,600.9 L278.0,600.9 L278.5,600.9 L279.0,600.9 L279.5,600.9 L280.0,600.9 L280.5,600.9 L281.0,600.9 L281.5,600.9 L282.0,600.9 L282.5,600.9 L283.0,600.9 L283.5,600.9 L284.0,600.9 L284.5,600.8 L285.0,600.6 L285.5,600.1 L286.0,599.4 L286.5,598.7 L287.0,598.5 L287.5,598.9 L288.0,599.3 L288.5,599.4 L289.0,599.3 L289.5,599.2 L290.0,599.3 L290.5,599.4 L291.0,599.5 L291.5,599.5 L292.0,599.5 L292.5,599.4 L293.0,599.4 L293.5,599.3 L294.0,599.3 L294.5,599.3 L295.0,599.3 L295.5,594.6 L296.0,585.2 L296.5,571.3 L297.0,554.1 L297.5,535.8 L298.0,519.2 L298.5,507.3 L299.0,502.1 L299.5,504.6 L300.0,514.3 L300.5,529.5 L301.0,547.6 L301.5,565.5 L302.0,580.8 L302.5,591.8 L303.0,598.2 L303.5,600.8 L304.0,600.8 L304.5,600.8 L305.0,600.6 L305.5,600.4 L306.0,600.1 L306.5,599.6 L307.0,599.1 L307.5,598.5 L308.0,598.0 L308.5,597.7 L309.0,597.5 L309.5,597.6 L310.0,597.7 L310.5,597.9 L311.0,598.0 L311.5,598.0 L312.0,598.1 L312.5,598.2 L313.0,598.4 L313.5,598.8 L314.0,599.1 L314.5,599.5 L315.0,599.8 L315.5,600.0 L316.0,599.9 L316.5,599.4 L317.0,598.6 L317.5,598.4 L318.0,598.8 L318.5,599.3 L319.0,599.2 L319.5,598.8 L320.0,598.5 L320.5,598.1 L321.0,597.9 L321.5,597.9 L322.0,598.2 L322.5,598.7 L323.0,599.2 L323.5,599.5 L324.0,599.7 L324.5,599.9 L325.0,600.1 L325.5,600.0 L326.0,599.8 L326.5,599.4 L327.0,598.9 L327.5,598.3 L328.0,597.8 L328.5,597.3 L329.0,597.2 L329.5,597.3 L330.0,594.2 L330.5,585.3 L331.0,572.6 L331.5,557.3 L332.0,541.5 L332.5,527.8 L333.0,518.5 L333.5,515.3 L334.0,518.8 L334.5,528.3 L335.0,542.2 L335.5,558.0 L336.0,573.2 L336.5,585.8 L337.0,594.5 L337.5,598.7 L338.0,598.3 L338.5,598.1 L339.0,598.3 L339.5,598.7 L340.0,599.3 L340.5,599.8 L341.0,600.1 L341.5,600.4 L342.0,600.6 L342.5,600.7 L343.0,600.8 L343.5,600.7 L344.0,600.6 L344.5,600.2 L345.0,599.9 L345.5,599.6 L346.0,599.5 L346.5,599.7 L347.0,599.9 L347.5,600.2 L348.0,600.5 L348.5,600.6 L349.0,600.7 L349.5,600.7 L350.0,600.7 L350.5,600.5 L351.0,600.3 L351.5,600.1 L352.0,599.8 L352.5,599.5 L353.0,599.3 L353.5,599.1 L354.0,599.1 L354.5,599.2 L355.0,599.5 L355.5,599.7 L356.0,600.0 L356.5,600.3 L357.0,600.5 L357.5,600.7 L358.0,600.8 L358.5,600.8 L359.0,600.8 L359.5,600.8 L360.0,600.7 L360.5,600.5 L361.0,600.2 L361.5,599.8 L362.0,599.4 L362.5,598.7 L363.0,597.8 L363.5,596.5 L364.0,595.5 L364.5,595.5 L365.0,596.8 L365.5,598.6 L366.0,599.9 L366.5,600.5 L367.0,600.7 L367.5,600.8 L368.0,600.8 L368.5,600.6 L369.0,600.4 L369.5,600.0 L370.0,599.7 L370.5,599.6 L371.0,599.8 L371.5,600.0 L372.0,600.4 L372.5,600.6 L373.0,600.5 L373.5,600.3 L374.0,599.7 L374.5,599.1 L375.0,598.6 L375.5,598.5 L376.0,598.6 L376.5,598.8 L377.0,598.7 L377.5,598.2 L378.0,597.5 L378.5,597.1 L379.0,597.4 L379.5,598.4 L380.0,599.3 L380.5,599.8 L381.0,600.0 L381.5,600.0 L382.0,599.9 L382.5,599.8 L383.0,599.8 L383.5,599.9 L384.0,600.0 L384.5,600.2 L385.0,600.3 L385.5,600.1 L386.0,599.2 L386.5,597.8 L387.0,597.1 L387.5,597.3 L388.0,597.4 L388.5,597.3 L389.0,597.5 L389.5,598.1 L390.0,598.7 L390.5,599.2 L391.0,599.6 L391.5,600.0 L392.0,600.4 L392.5,600.6 L393.0,600.8 L393.5,600.9 L394.0,600.9 L394.5,600.9 L395.0,600.9 L395.5,600.9 L396.0,600.9 L396.5,600.9 L397.0,600.9 L397.5,600.9 L398.0,600.9 L398.5,600.9 L399.0,600.9 L399.5,600.9 L400.0,600.8 L400.5,600.8 L401.0,600.7 L401.5,600.6 L402.0,600.5 L402.5,600.4 L403.0,600.4 L403.5,600.4 L404.0,600.4 L404.5,600.4 L405.0,600.5 L405.5,600.5 L406.0,600.6 L406.5,600.7 L407.0,600.8 L407.5,600.8 L408.0,600.8 L408.5,600.7 L409.0,600.2 L409.5,599.4 L410.0,598.4 L410.5,597.7 L411.0,597.7 L411.5,598.4 L412.0,599.2 L412.5,599.9 L413.0,600.1 L413.5,600.0 L414.0,599.8 L414.5,599.6 L415.0,599.4 L415.5,599.1 L416.0,598.5 L416.5,597.6 L417.0,597.4 L417.5,598.1 L418.0,598.7 L418.5,599.0 L419.0,599.5 L419.5,600.0 L420.0,600.5 L420.5,600.7 L421.0,600.8 L421.5,600.9 L422.0,600.9 L422.5,600.9 L423.0,600.8 L423.5,600.6 L424.0,600.1 L424.5,599.7 L425.0,599.7 L425.5,600.2 L426.0,600.6 L426.5,600.8 L427.0,600.8 L427.5,600.5 L428.0,600.0 L428.5,599.1 L429.0,593.5 L429.5,583.0 L430.0,567.7 L430.5,549.0 L431.0,529.4 L431.5,511.9 L432.0,499.6 L432.5,494.7 L433.0,498.0 L433.5,509.0 L434.0,525.7 L434.5,545.2 L435.0,564.3 L435.5,580.4 L436.0,591.9 L436.5,598.3 L437.0,600.5 L437.5,600.4 L438.0,600.2 L438.5,600.1 L439.0,599.9 L439.5,599.7 L440.0,599.5 L440.5,599.2 L441.0,599.0 L441.5,598.9 L442.0,598.7 L442.5,598.7 L443.0,599.1 L443.5,599.7 L444.0,600.2 L444.5,600.6 L445.0,600.8 L445.5,600.9 L446.0,600.9 L446.5,600.8 L447.0,600.5 L447.5,600.2 L448.0,600.2 L448.5,600.5 L449.0,600.7 L449.5,600.6 L450.0,600.5 L450.5,600.4 L451.0,600.3 L451.5,600.2 L452.0,600.1 L452.5,600.1 L453.0,600.1 L453.5,600.0 L454.0,599.9 L454.5,599.7 L455.0,599.5 L455.5,599.3 L456.0,599.0 L456.5,598.8 L457.0,598.7 L457.5,598.7 L458.0,598.9 L458.5,599.2 L459.0,599.5 L459.5,599.6 L460.0,599.6 L460.5,599.3 L461.0,595.5 L461.5,586.1 L462.0,571.3 L462.5,552.2 L463.0,531.1 L463.5,511.1 L464.0,495.7 L464.5,487.5 L465.0,488.1 L465.5,497.3 L466.0,513.5 L466.5,533.8 L467.0,554.8 L467.5,573.5 L468.0,587.6 L468.5,596.3 L469.0,600.2 L469.5,600.9 L470.0,600.9 L470.5,600.9 L471.0,600.9 L471.5,600.9 L472.0,600.8 L472.5,600.8 L473.0,600.7 L473.5,600.6 L474.0,600.5 L474.5,600.4 L475.0,600.3 L475.5,600.2 L476.0,600.0 L476.5,599.8 L477.0,599.6 L477.5,599.3 L478.0,599.1 L478.5,599.0 L479.0,599.0 L479.5,598.9 L480.0,598.7 L480.5,598.1 L481.0,596.9 L481.5,595.7 L482.0,595.3 L482.5,596.3 L483.0,597.8 L483.5,599.1 L484.0,599.9 L484.5,600.4 L485.0,600.6 L485.5,600.8 L486.0,600.1 L486.5,596.3 L487.0,588.5 L487.5,576.2 L488.0,560.5 L488.5,543.1 L489.0,526.9 L489.5,514.4 L490.0,508.0 L490.5,508.7 L491.0,516.5 L491.5,529.9 L492.0,546.6 L492.5,563.8 L493.0,579.0 L493.5,590.4 L494.0,597.4 L494.5,600.2 L495.0,600.2 L495.5,600.0 L496.0,599.7 L496.5,599.2 L497.0,598.7 L497.5,598.2 L498.0,597.5 L498.5,596.8 L499.0,596.1 L499.5,595.5 L500.0,594.8 L500.5,594.5 L501.0,595.5 L501.5,597.5 L502.0,599.0 L502.5,599.9 L503.0,599.4 L503.5,594.5 L504.0,585.1 L504.5,571.2 L505.0,554.0 L505.5,535.7 L506.0,519.3 L506.5,507.4 L507.0,502.4 L507.5,505.0 L508.0,514.8 L508.5,530.0 L509.0,548.0 L509.5,565.9 L510.0,581.0 L510.5,592.0 L511.0,598.2 L511.5,598.4 L512.0,598.8 L512.5,599.0 L513.0,598.9 L513.5,598.9 L514.0,599.1 L514.5,599.5 L515.0,599.8 L515.5,600.1 L516.0,600.0 L516.5,599.3 L517.0,598.1 L517.5,597.2 L518.0,597.1 L518.5,597.4 L519.0,597.6 L519.5,590.5 L520.0,578.3 L520.5,561.7 L521.0,542.5 L521.5,523.3 L522.0,507.5 L522.5,497.6 L523.0,495.5 L523.5,501.7 L524.0,514.9 L524.5,532.8 L525.0,552.4 L525.5,570.6 L526.0,585.1 L526.5,594.7 L527.0,598.8 L527.5,598.6 L528.0,598.3 L528.5,597.8 L529.0,597.4 L529.5,597.1 L530.0,597.1 L530.5,597.5 L531.0,598.1 L531.5,598.9 L532.0,599.5 L532.5,600.1 L533.0,600.4 L533.5,600.4 L534.0,600.2 L534.5,599.8 L535.0,599.4 L535.5,599.3 L536.0,599.4 L536.5,599.8 L537.0,600.3 L537.5,600.6 L538.0,600.8 L538.5,600.9 L539.0,600.9 L539.5,600.9 L540.0,600.9 L540.5,600.9 L541.0,600.9 L541.5,600.9 L542.0,600.8 L542.5,598.3 L543.0,591.9 L543.5,580.7 L544.0,564.9 L544.5,546.3 L545.0,527.3 L545.5,511.0 L546.0,500.4 L546.5,497.2 L547.0,502.2 L547.5,514.2 L548.0,531.4 L548.5,550.5 L549.0,568.8 L549.5,583.6 L550.0,593.8 L550.5,598.9 L551.0,598.5 L551.5,592.0 L552.0,579.5 L552.5,561.4 L553.0,539.2 L553.5,515.9 L554.0,495.2 L554.5,480.7 L555.0,474.9 L555.5,479.0 L556.0,492.1 L556.5,511.9 L557.0,535.0 L557.5,557.7 L558.0,576.7 L558.5,590.2 L559.0,597.8 L559.5,599.7 L560.0,599.8 L560.5,600.0 L561.0,600.1 L561.5,600.0 L562.0,599.6 L562.5,599.0 L563.0,598.5 L563.5,598.5 L564.0,598.5 L564.5,597.9 L565.0,597.1 L565.5,596.9 L566.0,597.8 L566.5,599.1 L567.0,598.3 L567.5,591.5 L568.0,579.4 L568.5,562.3 L569.0,541.8 L569.5,520.8 L570.0,502.7 L570.5,490.6 L571.0,486.7 L571.5,491.7 L572.0,504.6 L572.5,523.2 L573.0,544.3 L573.5,564.5 L574.0,581.1 L574.5,592.6 L575.0,598.6 L575.5,598.9 L576.0,593.5 L576.5,582.8 L577.0,567.0 L577.5,547.6 L578.0,527.0 L578.5,508.6 L579.0,495.5 L579.5,489.9 L580.0,493.1 L580.5,504.2 L581.0,521.5 L581.5,541.8 L582.0,561.8 L582.5,578.8 L583.0,591.0 L583.5,598.0 L584.0,599.2 L584.5,597.9 L585.0,596.8 L585.5,596.1 L586.0,595.6 L586.5,595.3 L587.0,595.5 L587.5,596.3 L588.0,597.3 L588.5,598.2 L589.0,598.7 L589.5,599.0 L590.0,599.1 L590.5,599.2 L591.0,599.3 L591.5,599.4 L592.0,599.3 L592.5,599.2 L593.0,597.9 L593.5,592.1 L594.0,582.9 L594.5,570.6 L595.0,556.9 L595.5,543.7 L596.0,533.2 L596.5,527.3 L597.0,527.1 L597.5,532.6 L598.0,542.7 L598.5,555.8 L599.0,569.6 L599.5,582.0 L600.0,591.5 L600.5,597.6 L601.0,599.7 L601.5,599.3 L602.0,598.9 L602.5,598.5 L603.0,598.4 L603.5,598.5 L604.0,598.8 L604.5,599.1 L605.0,599.5 L605.5,599.8 L606.0,600.0 L606.5,600.1 L607.0,599.9 L607.5,599.5 L608.0,598.9 L608.5,598.5 L609.0,598.4 L609.5,598.8 L610.0,599.5 L610.5,600.1 L611.0,600.6 L611.5,600.8 L612.0,600.9 L612.5,600.9 L613.0,600.9 L613.5,600.9 L614.0,600.9 L614.5,600.9 L615.0,600.9 L615.5,600.9 L616.0,600.9 L616.5,600.9 L617.0,600.9 L617.5,600.9 L618.0,600.9 L618.5,600.8 L619.0,600.8 L619.5,600.7 L620.0,600.7 L620.5,600.6 L621.0,600.6 L621.5,600.6 L622.0,600.6 L622.5,600.7 L623.0,600.7 L623.5,600.8 L624.0,600.8 L624.5,600.9 L625.0,600.9 L625.5,600.9 L626.0,600.9 L626.5,600.9 L627.0,600.9 L627.5,600.9 L628.0,600.9 L628.5,600.8 L629.0,600.5 L629.5,600.2 L630.0,600.1 L630.5,600.2 L631.0,600.3 L631.5,600.2 L632.0,599.8 L632.5,599.4 L633.0,598.9 L633.5,598.6 L634.0,598.4 L634.5,598.3 L635.0,598.4 L635.5,598.6 L636.0,598.6 L636.5,598.6 L637.0,598.7 L637.5,598.8 L638.0,598.9 L638.5,599.0 L639.0,599.2 L639.5,599.6 L640.0,600.0 L640.5,600.3 L641.0,600.6 L641.5,600.6 L642.0,599.7 L642.5,594.9 L643.0,585.4 L643.5,571.1 L644.0,552.9 L644.5,533.3 L645.0,515.3 L645.5,502.0 L646.0,495.6 L646.5,497.4 L647.0,507.1 L647.5,522.8 L648.0,541.9 L648.5,561.2 L649.0,577.9 L649.5,590.2 L650.0,597.5 L650.5,600.5 L651.0,600.4 L651.5,600.2 L652.0,599.8 L652.5,599.3 L653.0,599.0 L653.5,599.0 L654.0,599.3 L654.5,599.6 L655.0,599.8 L655.5,599.9 L656.0,599.8 L656.5,599.7 L657.0,599.6 L657.5,599.6 L658.0,599.5 L658.5,599.4 L659.0,599.4 L659.5,599.3 L660.0,599.2 L660.5,599.0 L661.0,598.9 L661.5,598.8 L662.0,598.7 L662.5,598.6 L663.0,598.5 L663.5,598.4 L664.0,598.2 L664.5,598.1 L665.0,598.1 L665.5,598.3 L666.0,598.6 L666.5,598.9 L667.0,599.0 L667.5,599.0 L668.0,598.9 L668.5,598.9 L669.0,598.9 L669.5,599.0 L670.0,599.1 L670.5,599.3 L671.0,599.5 L671.5,599.8 L672.0,600.1 L672.5,600.3 L673.0,600.5 L673.5,600.7 L674.0,600.8 L674.5,600.8 L675.0,600.8 L675.5,600.8 L676.0,600.7 L676.5,600.5 L677.0,600.2 L677.5,600.0 L678.0,599.9 L678.5,599.7 L679.0,599.6 L679.5,599.6 L680.0,599.7 L680.5,599.9 L681.0,600.2 L681.5,600.4 L682.0,600.6 L682.5,600.7 L683.0,600.8 L683.5,600.9 L684.0,600.9 L684.5,600.9 L685.0,600.9 L685.5,600.9 L686.0,600.9 L686.5,600.9 L687.0,600.9 L688,605.2 Z"/>
<path id="p3G" d="M-3,605.2 L-2.0,600.4 L-1.5,600.6 L-1.0,600.6 L-0.5,600.6 L0.0,600.5 L0.5,600.4 L1.0,600.2 L1.5,600.0 L2.0,599.8 L2.5,599.7 L3.0,599.7 L3.5,599.8 L4.0,599.9 L4.5,600.1 L5.0,600.3 L5.5,600.4 L6.0,600.5 L6.5,600.6 L7.0,600.5 L7.5,600.3 L8.0,600.0 L8.5,599.6 L9.0,599.3 L9.5,598.9 L10.0,598.5 L10.5,598.0 L11.0,597.4 L11.5,596.8 L12.0,596.3 L12.5,596.1 L13.0,596.2 L13.5,596.5 L14.0,596.9 L14.5,597.4 L15.0,597.9 L15.5,598.4 L16.0,599.0 L16.5,599.4 L17.0,599.8 L17.5,599.9 L18.0,599.9 L18.5,599.7 L19.0,599.5 L19.5,599.5 L20.0,599.6 L20.5,599.7 L21.0,599.8 L21.5,599.7 L22.0,599.5 L22.5,599.3 L23.0,599.1 L23.5,599.1 L24.0,596.9 L24.5,590.0 L25.0,579.0 L25.5,564.9 L26.0,549.4 L26.5,534.7 L27.0,523.4 L27.5,517.5 L28.0,518.0 L28.5,524.9 L29.0,536.9 L29.5,551.8 L30.0,567.3 L30.5,581.0 L31.0,591.3 L31.5,597.7 L32.0,600.3 L32.5,600.3 L33.0,600.4 L33.5,600.4 L34.0,600.4 L34.5,600.5 L35.0,600.6 L35.5,600.7 L36.0,600.7 L36.5,600.8 L37.0,600.9 L37.5,600.9 L38.0,600.9 L38.5,600.9 L39.0,600.8 L39.5,600.7 L40.0,600.6 L40.5,600.3 L41.0,598.9 L41.5,594.0 L42.0,585.6 L42.5,574.0 L43.0,560.3 L43.5,546.5 L44.0,534.9 L44.5,527.5 L45.0,525.6 L45.5,529.6 L46.0,538.7 L46.5,551.3 L47.0,565.3 L47.5,578.4 L48.0,589.0 L48.5,596.2 L49.0,598.4 L49.5,598.7 L50.0,599.0 L50.5,599.3 L51.0,599.6 L51.5,599.9 L52.0,600.2 L52.5,600.4 L53.0,600.6 L53.5,600.7 L54.0,600.8 L54.5,600.8 L55.0,600.9 L55.5,600.9 L56.0,600.9 L56.5,600.9 L57.0,600.9 L57.5,600.9 L58.0,600.9 L58.5,600.9 L59.0,600.9 L59.5,600.9 L60.0,600.9 L60.5,600.9 L61.0,600.9 L61.5,600.8 L62.0,600.8 L62.5,600.7 L63.0,600.5 L63.5,600.2 L64.0,599.9 L64.5,599.5 L65.0,599.1 L65.5,598.6 L66.0,598.1 L66.5,597.6 L67.0,597.2 L67.5,597.0 L68.0,597.6 L68.5,598.8 L69.0,599.9 L69.5,600.5 L70.0,600.8 L70.5,600.9 L71.0,600.9 L71.5,600.9 L72.0,600.9 L72.5,600.8 L73.0,600.7 L73.5,600.5 L74.0,597.5 L74.5,588.1 L75.0,570.6 L75.5,545.1 L76.0,514.0 L76.5,481.4 L77.0,452.6 L77.5,432.5 L78.0,424.6 L78.5,430.5 L79.0,449.0 L79.5,476.8 L80.0,509.1 L80.5,540.7 L81.0,567.3 L81.5,586.0 L82.0,596.6 L82.5,598.4 L83.0,598.7 L83.5,598.6 L84.0,598.3 L84.5,598.0 L85.0,597.7 L85.5,597.4 L86.0,597.3 L86.5,597.3 L87.0,597.5 L87.5,597.7 L88.0,597.9 L88.5,598.1 L89.0,598.3 L89.5,598.6 L90.0,599.0 L90.5,599.4 L91.0,599.6 L91.5,599.7 L92.0,599.7 L92.5,600.0 L93.0,600.4 L93.5,600.7 L94.0,600.8 L94.5,600.9 L95.0,600.9 L95.5,600.9 L96.0,600.9 L96.5,600.8 L97.0,600.6 L97.5,600.4 L98.0,600.0 L98.5,599.7 L99.0,599.5 L99.5,599.6 L100.0,599.9 L100.5,600.2 L101.0,600.4 L101.5,600.4 L102.0,600.2 L102.5,599.8 L103.0,599.3 L103.5,598.9 L104.0,598.7 L104.5,598.8 L105.0,599.1 L105.5,599.3 L106.0,599.3 L106.5,599.0 L107.0,598.6 L107.5,598.3 L108.0,598.4 L108.5,598.7 L109.0,598.9 L109.5,599.0 L110.0,599.2 L110.5,599.5 L111.0,599.6 L111.5,599.4 L112.0,599.1 L112.5,598.9 L113.0,598.9 L113.5,598.9 L114.0,598.5 L114.5,597.9 L115.0,597.2 L115.5,596.7 L116.0,596.7 L116.5,597.0 L117.0,597.5 L117.5,598.2 L118.0,598.7 L118.5,599.0 L119.0,599.1 L119.5,599.0 L120.0,598.9 L120.5,598.8 L121.0,598.6 L121.5,598.3 L122.0,597.7 L122.5,597.2 L123.0,597.2 L123.5,597.6 L124.0,598.1 L124.5,598.8 L125.0,599.6 L125.5,600.2 L126.0,600.6 L126.5,600.8 L127.0,600.9 L127.5,600.9 L128.0,600.9 L128.5,600.9 L129.0,600.9 L129.5,600.9 L130.0,600.8 L130.5,600.7 L131.0,600.5 L131.5,600.1 L132.0,599.5 L132.5,598.4 L133.0,597.3 L133.5,596.5 L134.0,596.2 L134.5,596.2 L135.0,596.4 L135.5,596.9 L136.0,597.9 L136.5,598.9 L137.0,599.7 L137.5,600.2 L138.0,600.5 L138.5,600.6 L139.0,600.7 L139.5,600.7 L140.0,600.6 L140.5,600.4 L141.0,600.1 L141.5,599.7 L142.0,599.2 L142.5,598.3 L143.0,597.5 L143.5,597.8 L144.0,599.2 L144.5,600.3 L145.0,600.7 L145.5,600.8 L146.0,600.8 L146.5,600.8 L147.0,599.3 L147.5,594.7 L148.0,586.5 L148.5,574.9 L149.0,561.0 L149.5,546.7 L150.0,534.4 L150.5,526.1 L151.0,523.3 L151.5,526.6 L152.0,535.3 L152.5,548.0 L153.0,562.3 L153.5,576.1 L154.0,587.4 L154.5,595.2 L155.0,599.5 L155.5,600.5 L156.0,600.1 L156.5,599.4 L157.0,599.2 L157.5,599.3 L158.0,599.2 L158.5,598.9 L159.0,598.5 L159.5,598.1 L160.0,597.9 L160.5,597.8 L161.0,597.8 L161.5,597.9 L162.0,598.0 L162.5,598.1 L163.0,598.0 L163.5,597.9 L164.0,597.8 L164.5,597.8 L165.0,597.9 L165.5,598.0 L166.0,597.9 L166.5,597.5 L167.0,596.9 L167.5,596.4 L168.0,596.5 L168.5,597.4 L169.0,598.6 L169.5,599.7 L170.0,600.4 L170.5,600.7 L171.0,600.7 L171.5,600.6 L172.0,600.3 L172.5,599.9 L173.0,599.4 L173.5,598.9 L174.0,598.7 L174.5,598.8 L175.0,599.1 L175.5,599.5 L176.0,599.9 L176.5,600.1 L177.0,600.2 L177.5,600.2 L178.0,600.1 L178.5,600.1 L179.0,599.9 L179.5,599.5 L180.0,598.6 L180.5,597.6 L181.0,597.7 L181.5,598.7 L182.0,599.6 L182.5,600.0 L183.0,600.2 L183.5,600.4 L184.0,600.5 L184.5,600.5 L185.0,600.4 L185.5,600.3 L186.0,600.0 L186.5,599.7 L187.0,599.4 L187.5,599.1 L188.0,598.9 L188.5,598.8 L189.0,598.8 L189.5,598.8 L190.0,599.0 L190.5,599.2 L191.0,599.5 L191.5,599.7 L192.0,600.0 L192.5,600.3 L193.0,600.5 L193.5,600.7 L194.0,600.7 L194.5,600.8 L195.0,600.8 L195.5,600.7 L196.0,600.6 L196.5,600.4 L197.0,600.3 L197.5,600.1 L198.0,600.1 L198.5,600.2 L199.0,600.3 L199.5,600.4 L200.0,600.5 L200.5,600.6 L201.0,600.6 L201.5,600.6 L202.0,600.4 L202.5,600.1 L203.0,599.5 L203.5,598.6 L204.0,597.4 L204.5,596.5 L205.0,596.1 L205.5,596.4 L206.0,596.9 L206.5,597.5 L207.0,597.8 L207.5,598.1 L208.0,598.6 L208.5,599.2 L209.0,599.8 L209.5,600.2 L210.0,600.3 L210.5,600.2 L211.0,599.9 L211.5,599.6 L212.0,599.3 L212.5,599.2 L213.0,599.3 L213.5,599.6 L214.0,600.0 L214.5,600.4 L215.0,600.6 L215.5,600.5 L216.0,600.2 L216.5,599.7 L217.0,599.2 L217.5,599.0 L218.0,599.2 L218.5,599.6 L219.0,600.0 L219.5,600.2 L220.0,600.0 L220.5,599.6 L221.0,599.1 L221.5,598.8 L222.0,598.7 L222.5,599.0 L223.0,599.5 L223.5,599.9 L224.0,600.1 L224.5,600.1 L225.0,600.0 L225.5,600.0 L226.0,600.2 L226.5,600.5 L227.0,600.7 L227.5,600.8 L228.0,600.9 L228.5,599.5 L229.0,595.2 L229.5,587.3 L230.0,576.0 L230.5,562.2 L231.0,547.9 L231.5,535.3 L232.0,526.5 L232.5,523.3 L233.0,526.1 L233.5,534.5 L234.0,546.8 L234.5,561.1 L235.0,575.0 L235.5,586.6 L236.0,594.7 L236.5,599.1 L237.0,598.6 L237.5,591.7 L238.0,577.8 L238.5,556.9 L239.0,530.6 L239.5,502.5 L240.0,476.9 L240.5,458.1 L241.0,449.4 L241.5,452.5 L242.0,466.9 L242.5,489.8 L243.0,517.3 L243.5,544.9 L244.0,568.7 L244.5,586.0 L245.0,596.2 L245.5,598.3 L246.0,597.8 L246.5,598.0 L247.0,598.4 L247.5,599.0 L248.0,599.5 L248.5,599.5 L249.0,599.1 L249.5,598.7 L250.0,598.6 L250.5,598.8 L251.0,599.1 L251.5,599.4 L252.0,599.5 L252.5,599.5 L253.0,599.5 L253.5,599.7 L254.0,599.9 L254.5,600.1 L255.0,600.3 L255.5,600.5 L256.0,600.6 L256.5,600.7 L257.0,600.7 L257.5,600.7 L258.0,600.6 L258.5,600.5 L259.0,600.4 L259.5,600.4 L260.0,600.3 L260.5,600.3 L261.0,600.3 L261.5,599.5 L262.0,594.4 L262.5,584.1 L263.0,568.5 L263.5,548.7 L264.0,527.4 L264.5,507.7 L265.0,493.1 L265.5,486.1 L266.0,488.0 L266.5,498.5 L267.0,515.6 L267.5,536.4 L268.0,557.4 L268.5,575.7 L269.0,589.1 L269.5,597.1 L270.0,600.5 L270.5,600.8 L271.0,600.9 L271.5,600.9 L272.0,600.9 L272.5,600.9 L273.0,600.9 L273.5,600.9 L274.0,600.8 L274.5,600.8 L275.0,600.6 L275.5,600.3 L276.0,600.0 L276.5,599.9 L277.0,600.0 L277.5,600.2 L278.0,600.3 L278.5,599.8 L279.0,596.1 L279.5,589.3 L280.0,579.5 L280.5,567.6 L281.0,555.2 L281.5,544.3 L282.0,536.7 L282.5,533.8 L283.0,536.2 L283.5,543.3 L284.0,554.0 L284.5,566.3 L285.0,578.4 L285.5,588.4 L286.0,595.5 L286.5,599.5 L287.0,600.3 L287.5,600.6 L288.0,600.8 L288.5,600.8 L289.0,600.9 L289.5,600.9 L290.0,600.8 L290.5,600.6 L291.0,600.1 L291.5,599.6 L292.0,599.4 L292.5,599.7 L293.0,600.2 L293.5,600.2 L294.0,599.7 L294.5,599.0 L295.0,598.7 L295.5,598.9 L296.0,599.4 L296.5,599.6 L297.0,599.6 L297.5,599.5 L298.0,599.5 L298.5,599.6 L299.0,599.9 L299.5,600.1 L300.0,600.3 L300.5,600.5 L301.0,600.6 L301.5,600.7 L302.0,600.8 L302.5,600.8 L303.0,600.8 L303.5,599.5 L304.0,593.7 L304.5,581.8 L305.0,563.3 L305.5,539.6 L306.0,513.6 L306.5,489.3 L307.0,470.8 L307.5,461.3 L308.0,462.7 L308.5,474.6 L309.0,494.8 L309.5,519.9 L310.0,545.7 L310.5,568.4 L311.0,585.3 L311.5,595.6 L312.0,597.5 L312.5,596.2 L313.0,587.3 L313.5,572.7 L314.0,553.4 L314.5,531.7 L315.0,510.6 L315.5,493.7 L316.0,484.1 L316.5,483.4 L317.0,491.7 L317.5,507.6 L318.0,528.2 L318.5,550.1 L319.0,570.0 L319.5,585.4 L320.0,595.2 L320.5,599.8 L321.0,600.0 L321.5,596.2 L322.0,588.1 L322.5,575.4 L323.0,559.1 L323.5,541.0 L324.0,524.1 L324.5,511.0 L325.0,504.2 L325.5,504.9 L326.0,512.9 L326.5,526.8 L327.0,544.1 L327.5,562.0 L328.0,577.9 L328.5,589.8 L329.0,597.1 L329.5,599.4 L330.0,599.0 L330.5,598.8 L331.0,599.0 L331.5,599.4 L332.0,599.6 L332.5,599.8 L333.0,600.0 L333.5,600.2 L334.0,600.4 L334.5,600.6 L335.0,600.7 L335.5,600.7 L336.0,600.7 L336.5,600.6 L337.0,600.4 L337.5,599.8 L338.0,594.0 L338.5,581.3 L339.0,561.0 L339.5,534.2 L340.0,504.0 L340.5,475.1 L341.0,452.1 L341.5,439.2 L342.0,438.7 L342.5,450.6 L343.0,472.9 L343.5,501.6 L344.0,531.8 L344.5,559.0 L345.0,580.0 L345.5,593.2 L346.0,598.8 L346.5,597.1 L347.0,589.0 L347.5,575.2 L348.0,556.4 L348.5,534.5 L349.0,512.9 L349.5,494.9 L350.0,483.8 L350.5,481.6 L351.0,488.6 L351.5,503.6 L352.0,523.9 L352.5,546.1 L353.0,566.7 L353.5,583.0 L354.0,593.9 L354.5,599.4 L355.0,600.4 L355.5,600.5 L356.0,600.5 L356.5,600.3 L357.0,599.9 L357.5,599.5 L358.0,599.0 L358.5,598.4 L359.0,598.0 L359.5,597.6 L360.0,597.0 L360.5,595.9 L361.0,594.9 L361.5,595.0 L362.0,596.4 L362.5,597.6 L363.0,598.1 L363.5,598.2 L364.0,598.2 L364.5,598.3 L365.0,598.6 L365.5,599.0 L366.0,599.4 L366.5,599.5 L367.0,599.3 L367.5,598.9 L368.0,598.4 L368.5,598.0 L369.0,597.6 L369.5,597.2 L370.0,597.1 L370.5,597.7 L371.0,598.5 L371.5,594.9 L372.0,587.5 L372.5,577.4 L373.0,565.6 L373.5,553.8 L374.0,543.9 L374.5,537.6 L375.0,536.1 L375.5,539.7 L376.0,547.7 L376.5,558.6 L377.0,570.6 L377.5,581.9 L378.0,590.9 L378.5,597.0 L379.0,599.5 L379.5,599.7 L380.0,599.8 L380.5,599.9 L381.0,600.0 L381.5,600.1 L382.0,600.2 L382.5,600.3 L383.0,600.5 L383.5,600.6 L384.0,600.6 L384.5,600.6 L385.0,600.6 L385.5,600.6 L386.0,600.5 L386.5,600.5 L387.0,600.6 L387.5,599.4 L388.0,595.2 L388.5,587.9 L389.0,577.5 L389.5,565.1 L390.0,552.5 L390.5,541.7 L391.0,534.5 L391.5,532.2 L392.0,535.3 L392.5,543.2 L393.0,554.5 L393.5,567.2 L394.0,579.4 L394.5,589.3 L395.0,596.1 L395.5,597.3 L396.0,596.9 L396.5,596.5 L397.0,590.4 L397.5,578.2 L398.0,561.4 L398.5,541.9 L399.0,522.5 L399.5,506.4 L400.0,496.4 L400.5,494.2 L401.0,500.4 L401.5,513.7 L402.0,531.8 L402.5,551.6 L403.0,570.1 L403.5,584.8 L404.0,594.6 L404.5,599.5 L405.0,600.9 L405.5,600.9 L406.0,600.9 L406.5,600.7 L407.0,600.5 L407.5,600.0 L408.0,599.8 L408.5,599.9 L409.0,600.3 L409.5,600.7 L410.0,600.8 L410.5,600.8 L411.0,600.8 L411.5,600.7 L412.0,600.5 L412.5,600.2 L413.0,599.8 L413.5,599.4 L414.0,599.1 L414.5,598.9 L415.0,599.0 L415.5,599.3 L416.0,599.5 L416.5,599.3 L417.0,599.0 L417.5,598.8 L418.0,598.8 L418.5,599.1 L419.0,599.6 L419.5,600.2 L420.0,600.5 L420.5,600.7 L421.0,600.8 L421.5,600.9 L422.0,600.9 L422.5,600.9 L423.0,600.9 L423.5,600.9 L424.0,600.8 L424.5,600.7 L425.0,600.3 L425.5,599.9 L426.0,599.6 L426.5,599.5 L427.0,599.3 L427.5,598.8 L428.0,598.3 L428.5,597.9 L429.0,597.6 L429.5,597.6 L430.0,597.9 L430.5,598.4 L431.0,599.0 L431.5,599.6 L432.0,600.1 L432.5,600.4 L433.0,600.7 L433.5,600.8 L434.0,600.9 L434.5,600.9 L435.0,600.9 L435.5,600.9 L436.0,600.9 L436.5,600.9 L437.0,600.9 L437.5,600.9 L438.0,600.9 L438.5,600.9 L439.0,600.8 L439.5,600.7 L440.0,600.6 L440.5,600.3 L441.0,599.9 L441.5,599.4 L442.0,599.1 L442.5,598.8 L443.0,598.5 L443.5,598.2 L444.0,597.8 L444.5,597.6 L445.0,597.6 L445.5,597.8 L446.0,598.0 L446.5,597.6 L447.0,596.6 L447.5,595.9 L448.0,596.0 L448.5,596.4 L449.0,596.7 L449.5,596.9 L450.0,597.3 L450.5,597.7 L451.0,598.3 L451.5,598.9 L452.0,599.4 L452.5,599.8 L453.0,600.1 L453.5,600.3 L454.0,600.4 L454.5,600.4 L455.0,600.4 L455.5,600.4 L456.0,600.5 L456.5,600.6 L457.0,600.7 L457.5,600.8 L458.0,600.8 L458.5,600.9 L459.0,600.9 L459.5,600.9 L460.0,600.9 L460.5,600.9 L461.0,600.9 L461.5,600.9 L462.0,600.9 L462.5,600.9 L463.0,600.9 L463.5,600.9 L464.0,600.9 L464.5,600.9 L465.0,600.9 L465.5,600.9 L466.0,600.9 L466.5,600.9 L467.0,600.9 L467.5,600.9 L468.0,600.9 L468.5,600.8 L469.0,598.1 L469.5,590.6 L470.0,577.0 L470.5,557.4 L471.0,533.9 L471.5,509.5 L472.0,488.2 L472.5,473.7 L473.0,468.5 L473.5,473.7 L474.0,488.2 L474.5,509.5 L475.0,533.9 L475.5,557.4 L476.0,577.0 L476.5,590.6 L477.0,598.1 L477.5,600.4 L478.0,600.4 L478.5,600.3 L479.0,600.3 L479.5,600.0 L480.0,599.4 L480.5,599.1 L481.0,599.3 L481.5,599.8 L482.0,600.1 L482.5,600.2 L483.0,600.4 L483.5,600.5 L484.0,600.6 L484.5,600.6 L485.0,600.3 L485.5,599.8 L486.0,599.0 L486.5,598.0 L487.0,597.2 L487.5,596.8 L488.0,596.9 L488.5,597.1 L489.0,596.9 L489.5,596.7 L490.0,597.1 L490.5,598.2 L491.0,599.4 L491.5,600.3 L492.0,600.7 L492.5,600.8 L493.0,600.9 L493.5,600.9 L494.0,600.9 L494.5,600.8 L495.0,600.6 L495.5,600.3 L496.0,600.1 L496.5,600.3 L497.0,600.6 L497.5,600.8 L498.0,600.9 L498.5,600.9 L499.0,600.9 L499.5,600.8 L500.0,600.7 L500.5,600.4 L501.0,599.9 L501.5,599.3 L502.0,598.8 L502.5,598.6 L503.0,598.8 L503.5,599.1 L504.0,599.3 L504.5,599.4 L505.0,599.3 L505.5,598.9 L506.0,598.3 L506.5,597.9 L507.0,598.0 L507.5,598.6 L508.0,599.5 L508.5,600.3 L509.0,600.7 L509.5,600.8 L510.0,600.5 L510.5,599.7 L511.0,599.2 L511.5,599.8 L512.0,600.5 L512.5,600.6 L513.0,600.4 L513.5,599.9 L514.0,599.4 L514.5,599.2 L515.0,599.2 L515.5,599.2 L516.0,599.2 L516.5,599.1 L517.0,598.9 L517.5,598.6 L518.0,597.9 L518.5,597.1 L519.0,596.2 L519.5,595.7 L520.0,595.9 L520.5,596.8 L521.0,598.1 L521.5,599.2 L522.0,600.0 L522.5,600.4 L523.0,600.6 L523.5,600.5 L524.0,600.5 L524.5,600.4 L525.0,600.3 L525.5,600.3 L526.0,600.3 L526.5,600.3 L527.0,600.4 L527.5,600.4 L528.0,600.0 L528.5,599.5 L529.0,599.0 L529.5,599.1 L530.0,599.7 L530.5,600.3 L531.0,600.7 L531.5,600.9 L532.0,600.9 L532.5,600.9 L533.0,600.9 L533.5,600.9 L534.0,600.9 L534.5,600.8 L535.0,600.7 L535.5,600.4 L536.0,599.9 L536.5,599.1 L537.0,598.2 L537.5,597.3 L538.0,596.5 L538.5,596.0 L539.0,595.8 L539.5,596.0 L540.0,596.5 L540.5,597.3 L541.0,598.1 L541.5,599.0 L542.0,599.7 L542.5,600.2 L543.0,600.5 L543.5,600.7 L544.0,600.7 L544.5,600.6 L545.0,600.4 L545.5,600.4 L546.0,600.4 L546.5,600.5 L547.0,600.6 L547.5,600.6 L548.0,600.5 L548.5,600.3 L549.0,599.9 L549.5,599.5 L550.0,599.0 L550.5,598.6 L551.0,598.3 L551.5,598.0 L552.0,597.7 L552.5,597.6 L553.0,597.7 L553.5,598.0 L554.0,598.3 L554.5,598.7 L555.0,599.0 L555.5,599.4 L556.0,599.7 L556.5,600.0 L557.0,600.3 L557.5,600.5 L558.0,600.7 L558.5,600.8 L559.0,600.8 L559.5,600.9 L560.0,600.9 L560.5,600.9 L561.0,600.9 L561.5,600.9 L562.0,600.9 L562.5,600.9 L563.0,600.9 L563.5,600.9 L564.0,600.9 L564.5,600.9 L565.0,600.9 L565.5,600.8 L566.0,600.6 L566.5,600.3 L567.0,599.9 L567.5,599.4 L568.0,598.9 L568.5,598.6 L569.0,598.5 L569.5,598.5 L570.0,598.5 L570.5,598.6 L571.0,598.6 L571.5,598.7 L572.0,598.8 L572.5,599.1 L573.0,599.4 L573.5,599.8 L574.0,600.2 L574.5,600.4 L575.0,600.5 L575.5,600.3 L576.0,599.8 L576.5,599.2 L577.0,598.7 L577.5,598.4 L578.0,598.0 L578.5,597.5 L579.0,597.0 L579.5,596.6 L580.0,596.3 L580.5,596.4 L581.0,596.7 L581.5,597.4 L582.0,598.2 L582.5,598.9 L583.0,599.6 L583.5,600.1 L584.0,598.9 L584.5,591.4 L585.0,576.3 L585.5,553.0 L586.0,523.3 L586.5,491.0 L587.0,460.9 L587.5,438.2 L588.0,426.9 L588.5,429.1 L589.0,444.4 L589.5,469.9 L590.0,501.3 L590.5,533.3 L591.0,561.2 L591.5,582.0 L592.0,594.6 L592.5,600.0 L593.0,600.6 L593.5,600.7 L594.0,600.8 L594.5,600.8 L595.0,600.9 L595.5,600.9 L596.0,600.8 L596.5,600.8 L597.0,600.7 L597.5,600.6 L598.0,600.5 L598.5,600.4 L599.0,600.3 L599.5,600.1 L600.0,599.9 L600.5,599.5 L601.0,599.1 L601.5,598.6 L602.0,598.3 L602.5,598.3 L603.0,598.3 L603.5,598.4 L604.0,598.3 L604.5,598.3 L605.0,598.4 L605.5,598.5 L606.0,598.6 L606.5,598.3 L607.0,597.9 L607.5,598.1 L608.0,598.8 L608.5,599.5 L609.0,599.7 L609.5,599.6 L610.0,599.3 L610.5,599.0 L611.0,598.6 L611.5,598.3 L612.0,598.1 L612.5,598.1 L613.0,598.2 L613.5,598.6 L614.0,599.1 L614.5,599.6 L615.0,600.1 L615.5,600.4 L616.0,600.6 L616.5,600.7 L617.0,599.3 L617.5,594.8 L618.0,586.8 L618.5,575.5 L619.0,561.8 L619.5,547.9 L620.0,535.7 L620.5,527.6 L621.0,524.9 L621.5,528.1 L622.0,536.7 L622.5,549.1 L623.0,563.1 L623.5,576.6 L624.0,587.7 L624.5,595.4 L625.0,597.9 L625.5,597.0 L626.0,596.5 L626.5,588.4 L627.0,573.7 L627.5,553.4 L628.0,529.6 L628.5,505.8 L629.0,485.9 L629.5,473.3 L630.0,470.3 L630.5,477.5 L631.0,493.5 L631.5,515.5 L632.0,539.7 L632.5,562.4 L633.0,580.6 L633.5,592.7 L634.0,599.0 L634.5,600.1 L635.0,600.4 L635.5,600.6 L636.0,600.7 L636.5,600.6 L637.0,600.4 L637.5,600.0 L638.0,599.8 L638.5,599.9 L639.0,600.3 L639.5,600.7 L640.0,600.8 L640.5,600.9 L641.0,600.9 L641.5,600.8 L642.0,600.6 L642.5,600.4 L643.0,600.2 L643.5,600.0 L644.0,599.9 L644.5,600.1 L645.0,600.2 L645.5,600.3 L646.0,600.3 L646.5,600.0 L647.0,599.7 L647.5,599.5 L648.0,599.5 L648.5,599.7 L649.0,600.0 L649.5,600.2 L650.0,600.3 L650.5,597.1 L651.0,588.4 L651.5,573.3 L652.0,552.1 L652.5,527.3 L653.0,502.2 L653.5,481.0 L654.0,467.3 L654.5,463.5 L655.0,470.5 L655.5,486.9 L656.0,509.8 L656.5,535.2 L657.0,559.2 L657.5,578.7 L658.0,591.8 L658.5,598.7 L659.0,600.9 L659.5,600.9 L660.0,600.9 L660.5,600.9 L661.0,600.8 L661.5,600.8 L662.0,600.6 L662.5,600.4 L663.0,600.2 L663.5,599.9 L664.0,599.5 L664.5,599.2 L665.0,599.0 L665.5,598.9 L666.0,599.0 L666.5,599.1 L667.0,599.4 L667.5,599.1 L668.0,595.2 L668.5,588.8 L669.0,580.4 L669.5,570.8 L670.0,561.4 L670.5,553.9 L671.0,549.5 L671.5,549.1 L672.0,552.7 L672.5,559.6 L673.0,568.7 L673.5,578.4 L674.0,587.2 L674.5,594.0 L675.0,598.3 L675.5,598.1 L676.0,598.8 L676.5,599.8 L677.0,600.3 L677.5,600.3 L678.0,600.0 L678.5,599.7 L679.0,599.3 L679.5,599.0 L680.0,598.8 L680.5,598.7 L681.0,598.8 L681.5,599.0 L682.0,599.2 L682.5,599.3 L683.0,599.3 L683.5,599.3 L684.0,599.3 L684.5,599.2 L685.0,599.0 L685.5,598.5 L686.0,598.1 L686.5,598.2 L687.0,598.8 L688,605.2 Z"/>
</defs>
<g clip-path="url(#c3)" stroke="none">
<use href="#p3A" fill="#4cc24c" fill-opacity="0.13"/>
<use href="#p3C" fill="#4a66cc" fill-opacity="0.13"/>
<use href="#p3T" fill="#ee4b4b" fill-opacity="0.13"/>
<use href="#p3G" fill="#1a1a1a" fill-opacity="0.14"/>
</g>
<rect x="202.9" y="417.0" width="143.3" height="183.7" fill="#e9df22" fill-opacity="0.92"/>
<rect x="378.1" y="417.0" width="25.5" height="183.7" fill="#b8cdea" fill-opacity="0.92"/>
<g clip-path="url(#c3)" fill="none" stroke-width="0.95" stroke-linejoin="round">
<use href="#p3A" stroke="#4cc24c"/>
<use href="#p3C" stroke="#4a66cc"/>
<use href="#p3T" stroke="#ee4b4b"/>
<use href="#p3G" stroke="#111111"/>
</g>
<g transform="scale(0.76 1)">
<text x="4.1" y="426.3" fill="#5570d8" stroke="#5570d8">C</text>
<text x="14.1" y="426.3" fill="#55cc44" stroke="#55cc44">A</text>
<text x="24.2" y="426.3" fill="#55cc44" stroke="#55cc44">A</text>
<text x="35.9" y="426.3" fill="#222222" stroke="#222222">G</text>
<text x="47.7" y="426.3" fill="#55cc44" stroke="#55cc44">A</text>
<text x="58.6" y="426.3" fill="#222222" stroke="#222222">G</text>
<text x="69.5" y="426.3" fill="#5570d8" stroke="#5570d8">C</text>
<text x="80.8" y="426.3" fill="#f05050" stroke="#f05050">T</text>
<text x="92.1" y="426.3" fill="#f05050" stroke="#f05050">T</text>
<text x="102.2" y="426.3" fill="#222222" stroke="#222222">G</text>
<text x="114.7" y="426.3" fill="#55cc44" stroke="#55cc44">A</text>
<text x="123.9" y="426.3" fill="#5570d8" stroke="#5570d8">C</text>
<text x="135.3" y="426.3" fill="#f05050" stroke="#f05050">T</text>
<text x="146.2" y="426.3" fill="#5570d8" stroke="#5570d8">C</text>
<text x="156.2" y="426.3" fill="#55cc44" stroke="#55cc44">A</text>
<text x="165.9" y="426.3" fill="#55cc44" stroke="#55cc44">A</text>
<text x="176.8" y="426.3" fill="#5570d8" stroke="#5570d8">C</text>
<text x="186.8" y="426.3" fill="#55cc44" stroke="#55cc44">A</text>
<text x="198.1" y="426.3" fill="#222222" stroke="#222222">G</text>
<text x="209.4" y="426.3" fill="#5570d8" stroke="#5570d8">C</text>
<text x="221.6" y="426.3" fill="#f05050" stroke="#f05050">T</text>
<text x="232.1" y="426.3" fill="#5570d8" stroke="#5570d8">C</text>
<text x="241.7" y="426.3" fill="#55cc44" stroke="#55cc44">A</text>
<text x="251.8" y="426.3" fill="#55cc44" stroke="#55cc44">A</text>
<text x="262.7" y="426.3" fill="#5570d8" stroke="#5570d8">C</text>
<text x="272.3" y="426.3" fill="#55cc44" stroke="#55cc44">A</text>
<text x="282.8" y="426.3" fill="#55cc44" stroke="#55cc44">A</text>
<text x="293.7" y="426.3" fill="#55cc44" stroke="#55cc44">A</text>
<text x="305.4" y="426.3" fill="#222222" stroke="#222222">G</text>
<text x="316.7" y="426.3" fill="#222222" stroke="#222222">G</text>
<text x="328.5" y="426.3" fill="#55cc44" stroke="#55cc44">A</text>
<text x="337.7" y="426.3" fill="#f05050" stroke="#f05050">T</text>
<text x="349.0" y="426.3" fill="#222222" stroke="#222222">G</text>
<text x="360.7" y="426.3" fill="#55cc44" stroke="#55cc44">A</text>
<text x="371.2" y="426.3" fill="#222222" stroke="#222222">G</text>
<text x="383.4" y="426.3" fill="#55cc44" stroke="#55cc44">A</text>
<text x="393.0" y="426.3" fill="#f05050" stroke="#f05050">T</text>
<text x="404.3" y="426.3" fill="#222222" stroke="#222222">G</text>
<text x="415.6" y="426.3" fill="#222222" stroke="#222222">G</text>
<text x="427.4" y="426.3" fill="#222222" stroke="#222222">G</text>
<text x="438.3" y="426.3" fill="#f05050" stroke="#f05050">T</text>
<text x="449.2" y="426.3" fill="#222222" stroke="#222222">G</text>
<text x="460.5" y="426.3" fill="#222222" stroke="#222222">G</text>
<text x="471.0" y="426.3" fill="#5570d8" stroke="#5570d8">C</text>
<text x="481.9" y="426.3" fill="#55cc44" stroke="#55cc44">A</text>
<text x="492.8" y="426.3" fill="#222222" stroke="#222222">G</text>
<text x="503.7" y="426.3" fill="#55cc44" stroke="#55cc44">A</text>
<text x="514.6" y="426.3" fill="#222222" stroke="#222222">G</text>
<text x="526.3" y="426.3" fill="#222222" stroke="#222222">G</text>
<text x="538.0" y="426.3" fill="#55cc44" stroke="#55cc44">A</text>
<text x="548.1" y="426.3" fill="#55cc44" stroke="#55cc44">A</text>
<text x="557.3" y="426.3" fill="#5570d8" stroke="#5570d8">C</text>
<text x="568.6" y="426.3" fill="#f05050" stroke="#f05050">T</text>
<text x="579.1" y="426.3" fill="#55cc44" stroke="#55cc44">A</text>
<text x="589.2" y="426.3" fill="#5570d8" stroke="#5570d8">C</text>
<text x="599.6" y="426.3" fill="#55cc44" stroke="#55cc44">A</text>
<text x="610.9" y="426.3" fill="#f05050" stroke="#f05050">T</text>
<text x="621.8" y="426.3" fill="#222222" stroke="#222222">G</text>
<text x="634.0" y="426.3" fill="#55cc44" stroke="#55cc44">A</text>
<text x="644.5" y="426.3" fill="#f05050" stroke="#f05050">T</text>
<text x="655.4" y="426.3" fill="#5570d8" stroke="#5570d8">C</text>
<text x="666.7" y="426.3" fill="#f05050" stroke="#f05050">T</text>
<text x="677.4" y="426.3" fill="#55cc44" stroke="#55cc44">A</text>
<text x="687.5" y="426.3" fill="#f05050" stroke="#f05050">T</text>
<text x="697.5" y="426.3" fill="#55cc44" stroke="#55cc44">A</text>
<text x="708.0" y="426.3" fill="#55cc44" stroke="#55cc44">A</text>
<text x="718.5" y="426.3" fill="#f05050" stroke="#f05050">T</text>
<text x="729.8" y="426.3" fill="#f05050" stroke="#f05050">T</text>
<text x="739.9" y="426.3" fill="#55cc44" stroke="#55cc44">A</text>
<text x="750.8" y="426.3" fill="#f05050" stroke="#f05050">T</text>
<text x="762.1" y="426.3" fill="#f05050" stroke="#f05050">T</text>
<text x="773.4" y="426.3" fill="#222222" stroke="#222222">G</text>
<text x="784.7" y="426.3" fill="#f05050" stroke="#f05050">T</text>
<text x="795.2" y="426.3" fill="#55cc44" stroke="#55cc44">A</text>
<text x="805.2" y="426.3" fill="#5570d8" stroke="#5570d8">C</text>
<text x="816.5" y="426.3" fill="#222222" stroke="#222222">G</text>
<text x="828.3" y="426.3" fill="#222222" stroke="#222222">G</text>
<text x="840.0" y="426.3" fill="#55cc44" stroke="#55cc44">A</text>
<text x="849.7" y="426.3" fill="#f05050" stroke="#f05050">T</text>
<text x="860.6" y="426.3" fill="#222222" stroke="#222222">G</text>
<text x="871.5" y="426.3" fill="#5570d8" stroke="#5570d8">C</text>
<text x="882.8" y="426.3" fill="#222222" stroke="#222222">G</text>
<text x="894.1" y="426.3" fill="#55cc44" stroke="#55cc44">A</text>
</g>
<g class="tk">
<text x="10.9" y="606.8">150</text>
<text x="93.7" y="606.8">160</text>
<text x="176.2" y="606.8">170</text>
<text x="255.9" y="606.8">180</text>
<text x="340.6" y="606.8">190</text>
<text x="423.4" y="606.8">200</text>
<text x="506.8" y="606.8">210</text>
<text x="588.3" y="606.8">220</text>
<text x="671.1" y="606.8">230</text>
</g>
</svg>
<h2 style="top:-1.4px;left:12px">Wild-Type Sequence</h2>
<h2 style="top:188.7px">Heterozygous or Mosaic Sequence</h2>
<h2 style="top:395.0px">Homozygous Mutation Sequencing</h2>
</body></html>
